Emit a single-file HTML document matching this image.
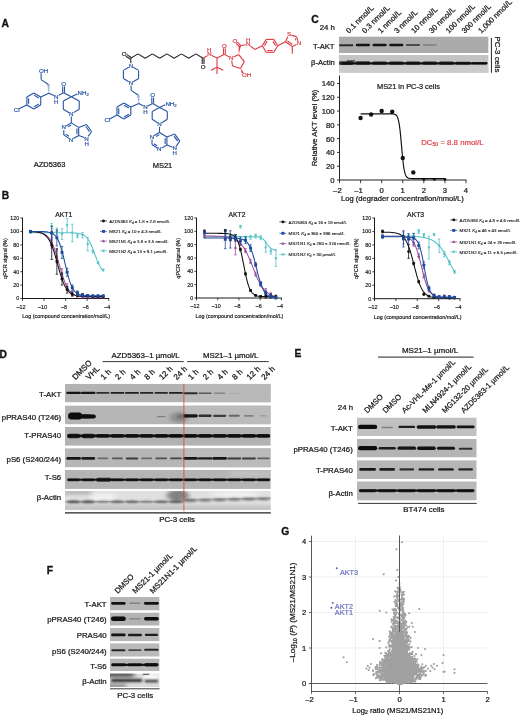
<!DOCTYPE html>
<html><head><meta charset="utf-8"><title>Figure</title>
<style>html,body{margin:0;padding:0;background:#fff}svg{display:block}text{font-family:"Liberation Sans",sans-serif}</style>
</head><body>
<svg width="520" height="716" viewBox="0 0 520 716">
<defs>
<filter id="b1" x="-20%" y="-100%" width="140%" height="300%"><feGaussianBlur stdDeviation="0.7 0.45"/></filter>
<filter id="b2" x="-20%" y="-100%" width="140%" height="300%"><feGaussianBlur stdDeviation="1.2 0.8"/></filter>
<filter id="b3" x="-30%" y="-100%" width="160%" height="300%"><feGaussianBlur stdDeviation="2.5 1.6"/></filter>
</defs>
<rect width="520" height="716" fill="#fff"/>
<text x="1.50" y="26.80" font-size="10.3" fill="#111" stroke="#111" stroke-width="0.31" font-weight="bold">A</text>
<line x1="18.94" y1="108.86" x2="26.87" y2="105.00" stroke="#2453a4" stroke-width="1.1"/>
<line x1="26.87" y1="105.00" x2="26.87" y2="97.00" stroke="#2453a4" stroke-width="1.1"/>
<line x1="28.62" y1="103.80" x2="28.62" y2="98.20" stroke="#2453a4" stroke-width="1.1"/>
<line x1="26.87" y1="97.00" x2="33.80" y2="93.00" stroke="#2453a4" stroke-width="1.1"/>
<line x1="33.80" y1="93.00" x2="40.73" y2="97.00" stroke="#2453a4" stroke-width="1.1"/>
<line x1="33.96" y1="95.12" x2="38.81" y2="97.92" stroke="#2453a4" stroke-width="1.1"/>
<line x1="40.73" y1="97.00" x2="40.73" y2="105.00" stroke="#2453a4" stroke-width="1.1"/>
<line x1="40.73" y1="105.00" x2="33.80" y2="109.00" stroke="#2453a4" stroke-width="1.1"/>
<line x1="38.81" y1="104.08" x2="33.96" y2="106.88" stroke="#2453a4" stroke-width="1.1"/>
<line x1="33.80" y1="109.00" x2="26.87" y2="105.00" stroke="#2453a4" stroke-width="1.1"/>
<line x1="40.73" y1="97.00" x2="48.80" y2="93.30" stroke="#2453a4" stroke-width="1.1"/>
<line x1="49.17" y1="92.41" x2="48.37" y2="92.43" stroke="#2453a4" stroke-width="0.7"/>
<line x1="49.31" y1="90.64" x2="48.11" y2="90.68" stroke="#2453a4" stroke-width="0.7"/>
<line x1="49.45" y1="88.87" x2="47.85" y2="88.93" stroke="#2453a4" stroke-width="0.7"/>
<line x1="49.59" y1="87.11" x2="47.59" y2="87.17" stroke="#2453a4" stroke-width="0.7"/>
<line x1="49.73" y1="85.34" x2="47.33" y2="85.42" stroke="#2453a4" stroke-width="0.7"/>
<line x1="48.50" y1="84.50" x2="41.10" y2="79.60" stroke="#2453a4" stroke-width="1.1"/>
<line x1="41.10" y1="79.60" x2="41.10" y2="73.30" stroke="#2453a4" stroke-width="1.1"/>
<line x1="48.80" y1="93.30" x2="53.91" y2="95.48" stroke="#2453a4" stroke-width="1.1"/>
<line x1="58.62" y1="95.32" x2="63.60" y2="92.80" stroke="#2453a4" stroke-width="1.1"/>
<line x1="64.50" y1="92.80" x2="64.50" y2="86.40" stroke="#2453a4" stroke-width="1.1"/>
<line x1="62.70" y1="92.80" x2="62.70" y2="86.40" stroke="#2453a4" stroke-width="1.1"/>
<line x1="63.60" y1="92.80" x2="71.30" y2="96.80" stroke="#2453a4" stroke-width="1.1"/>
<line x1="71.30" y1="96.80" x2="77.25" y2="94.01" stroke="#2453a4" stroke-width="1.1"/>
<line x1="71.30" y1="96.80" x2="79.20" y2="101.10" stroke="#2453a4" stroke-width="1.1"/>
<line x1="79.20" y1="101.10" x2="79.20" y2="109.20" stroke="#2453a4" stroke-width="1.1"/>
<line x1="79.20" y1="109.20" x2="73.52" y2="112.65" stroke="#2453a4" stroke-width="1.1"/>
<line x1="69.07" y1="112.66" x2="63.30" y2="109.20" stroke="#2453a4" stroke-width="1.1"/>
<line x1="63.30" y1="109.20" x2="63.30" y2="101.10" stroke="#2453a4" stroke-width="1.1"/>
<line x1="63.30" y1="101.10" x2="71.30" y2="96.80" stroke="#2453a4" stroke-width="1.1"/>
<line x1="71.30" y1="116.60" x2="71.30" y2="122.90" stroke="#2453a4" stroke-width="1.1"/>
<line x1="71.30" y1="122.90" x2="66.04" y2="125.98" stroke="#2453a4" stroke-width="1.1"/>
<line x1="71.15" y1="125.02" x2="67.96" y2="126.89" stroke="#2453a4" stroke-width="1.1"/>
<line x1="63.80" y1="129.90" x2="63.80" y2="134.90" stroke="#2453a4" stroke-width="1.1"/>
<line x1="63.80" y1="134.90" x2="68.94" y2="138.35" stroke="#2453a4" stroke-width="1.1"/>
<line x1="65.77" y1="134.12" x2="68.92" y2="136.23" stroke="#2453a4" stroke-width="1.1"/>
<line x1="73.36" y1="138.52" x2="78.70" y2="135.50" stroke="#2453a4" stroke-width="1.1"/>
<line x1="78.70" y1="135.50" x2="78.70" y2="127.40" stroke="#2453a4" stroke-width="1.1"/>
<line x1="76.95" y1="134.30" x2="76.95" y2="128.60" stroke="#2453a4" stroke-width="1.1"/>
<line x1="78.70" y1="127.40" x2="71.30" y2="122.90" stroke="#2453a4" stroke-width="1.1"/>
<line x1="78.70" y1="127.40" x2="86.50" y2="124.50" stroke="#2453a4" stroke-width="1.1"/>
<line x1="86.50" y1="124.50" x2="91.60" y2="131.50" stroke="#2453a4" stroke-width="1.1"/>
<line x1="85.79" y1="126.50" x2="89.48" y2="131.56" stroke="#2453a4" stroke-width="1.1"/>
<line x1="91.60" y1="131.50" x2="88.11" y2="136.38" stroke="#2453a4" stroke-width="1.1"/>
<line x1="84.17" y1="137.58" x2="78.70" y2="135.50" stroke="#2453a4" stroke-width="1.1"/>
<text x="16.60" y="112.00" font-size="6.2" text-anchor="middle" fill="#2453a4" stroke="#2453a4" stroke-width="0.19">Cl</text>
<text x="39.00" y="72.70" font-size="6.2" fill="#2453a4" stroke="#2453a4" stroke-width="0.19">OH</text>
<text x="56.30" y="98.50" font-size="6.2" text-anchor="middle" fill="#2453a4" stroke="#2453a4" stroke-width="0.19">N</text>
<text x="63.60" y="85.80" font-size="6.2" text-anchor="middle" fill="#2453a4" stroke="#2453a4" stroke-width="0.19">O</text>
<text x="77.60" y="94.90" font-size="6.2" fill="#2453a4" stroke="#2453a4" stroke-width="0.19">NH<tspan font-size="4.2" dy="1.3">2</tspan></text>
<text x="71.30" y="116.00" font-size="6.2" text-anchor="middle" fill="#2453a4" stroke="#2453a4" stroke-width="0.19">N</text>
<text x="63.80" y="129.30" font-size="6.2" text-anchor="middle" fill="#2453a4" stroke="#2453a4" stroke-width="0.19">N</text>
<text x="71.10" y="141.80" font-size="6.2" text-anchor="middle" fill="#2453a4" stroke="#2453a4" stroke-width="0.19">N</text>
<text x="86.60" y="140.50" font-size="6.2" text-anchor="middle" fill="#2453a4" stroke="#2453a4" stroke-width="0.19">N</text>
<text x="56.30" y="103.50" font-size="6.1" text-anchor="middle" fill="#2453a4" stroke="#2453a4" stroke-width="0.18">H</text>
<text x="86.60" y="145.70" font-size="6.1" text-anchor="middle" fill="#2453a4" stroke="#2453a4" stroke-width="0.18">H</text>
<text x="49.50" y="167.40" font-size="7.5" text-anchor="middle" fill="#151515" stroke="#151515" stroke-width="0.22">AZD5363</text>
<line x1="109.61" y1="118.91" x2="116.97" y2="115.10" stroke="#2453a4" stroke-width="1.1"/>
<line x1="116.97" y1="115.10" x2="116.97" y2="107.10" stroke="#2453a4" stroke-width="1.1"/>
<line x1="118.72" y1="113.90" x2="118.72" y2="108.30" stroke="#2453a4" stroke-width="1.1"/>
<line x1="116.97" y1="107.10" x2="123.90" y2="103.10" stroke="#2453a4" stroke-width="1.1"/>
<line x1="123.90" y1="103.10" x2="130.83" y2="107.10" stroke="#2453a4" stroke-width="1.1"/>
<line x1="124.06" y1="105.22" x2="128.91" y2="108.02" stroke="#2453a4" stroke-width="1.1"/>
<line x1="130.83" y1="107.10" x2="130.83" y2="115.10" stroke="#2453a4" stroke-width="1.1"/>
<line x1="130.83" y1="115.10" x2="123.90" y2="119.10" stroke="#2453a4" stroke-width="1.1"/>
<line x1="128.91" y1="114.18" x2="124.06" y2="116.98" stroke="#2453a4" stroke-width="1.1"/>
<line x1="123.90" y1="119.10" x2="116.97" y2="115.10" stroke="#2453a4" stroke-width="1.1"/>
<line x1="130.83" y1="107.10" x2="138.80" y2="103.50" stroke="#2453a4" stroke-width="1.1"/>
<line x1="139.16" y1="102.66" x2="138.36" y2="102.70" stroke="#2453a4" stroke-width="0.7"/>
<line x1="139.28" y1="101.01" x2="138.08" y2="101.07" stroke="#2453a4" stroke-width="0.7"/>
<line x1="139.40" y1="99.36" x2="137.80" y2="99.44" stroke="#2453a4" stroke-width="0.7"/>
<line x1="139.52" y1="97.71" x2="137.52" y2="97.81" stroke="#2453a4" stroke-width="0.7"/>
<line x1="139.64" y1="96.06" x2="137.24" y2="96.18" stroke="#2453a4" stroke-width="0.7"/>
<line x1="138.40" y1="95.30" x2="131.20" y2="90.40" stroke="#2453a4" stroke-width="1.1"/>
<line x1="131.20" y1="90.40" x2="131.07" y2="85.60" stroke="#2453a4" stroke-width="1.1"/>
<line x1="133.25" y1="81.70" x2="138.60" y2="78.60" stroke="#2453a4" stroke-width="1.1"/>
<line x1="138.60" y1="78.60" x2="138.60" y2="70.40" stroke="#2453a4" stroke-width="1.1"/>
<line x1="138.60" y1="70.40" x2="133.24" y2="67.22" stroke="#2453a4" stroke-width="1.1"/>
<line x1="128.76" y1="67.22" x2="123.40" y2="70.40" stroke="#2453a4" stroke-width="1.1"/>
<line x1="123.40" y1="70.40" x2="123.40" y2="78.60" stroke="#2453a4" stroke-width="1.1"/>
<line x1="123.40" y1="78.60" x2="128.75" y2="81.70" stroke="#2453a4" stroke-width="1.1"/>
<line x1="138.80" y1="103.50" x2="143.10" y2="105.78" stroke="#2453a4" stroke-width="1.1"/>
<line x1="147.76" y1="105.90" x2="152.70" y2="103.60" stroke="#2453a4" stroke-width="1.1"/>
<line x1="153.60" y1="103.60" x2="153.60" y2="97.40" stroke="#2453a4" stroke-width="1.1"/>
<line x1="151.80" y1="103.60" x2="151.80" y2="97.40" stroke="#2453a4" stroke-width="1.1"/>
<line x1="152.70" y1="103.60" x2="159.70" y2="107.40" stroke="#2453a4" stroke-width="1.1"/>
<line x1="159.70" y1="107.40" x2="165.07" y2="104.75" stroke="#2453a4" stroke-width="1.1"/>
<line x1="159.70" y1="107.40" x2="167.30" y2="111.60" stroke="#2453a4" stroke-width="1.1"/>
<line x1="167.30" y1="111.60" x2="167.30" y2="119.30" stroke="#2453a4" stroke-width="1.1"/>
<line x1="167.30" y1="119.30" x2="161.81" y2="122.72" stroke="#2453a4" stroke-width="1.1"/>
<line x1="157.42" y1="122.69" x2="152.20" y2="119.30" stroke="#2453a4" stroke-width="1.1"/>
<line x1="152.20" y1="119.30" x2="152.20" y2="111.60" stroke="#2453a4" stroke-width="1.1"/>
<line x1="152.20" y1="111.60" x2="159.70" y2="107.40" stroke="#2453a4" stroke-width="1.1"/>
<line x1="159.57" y1="126.70" x2="159.50" y2="132.50" stroke="#2453a4" stroke-width="1.1"/>
<line x1="159.50" y1="132.50" x2="154.24" y2="135.58" stroke="#2453a4" stroke-width="1.1"/>
<line x1="159.35" y1="134.62" x2="156.16" y2="136.49" stroke="#2453a4" stroke-width="1.1"/>
<line x1="152.00" y1="139.50" x2="152.00" y2="144.50" stroke="#2453a4" stroke-width="1.1"/>
<line x1="152.00" y1="144.50" x2="157.14" y2="147.95" stroke="#2453a4" stroke-width="1.1"/>
<line x1="153.97" y1="143.72" x2="157.12" y2="145.83" stroke="#2453a4" stroke-width="1.1"/>
<line x1="161.56" y1="148.12" x2="166.90" y2="145.10" stroke="#2453a4" stroke-width="1.1"/>
<line x1="166.90" y1="145.10" x2="166.90" y2="137.00" stroke="#2453a4" stroke-width="1.1"/>
<line x1="165.15" y1="143.90" x2="165.15" y2="138.20" stroke="#2453a4" stroke-width="1.1"/>
<line x1="166.90" y1="137.00" x2="159.50" y2="132.50" stroke="#2453a4" stroke-width="1.1"/>
<line x1="166.90" y1="137.00" x2="174.70" y2="134.10" stroke="#2453a4" stroke-width="1.1"/>
<line x1="174.70" y1="134.10" x2="179.80" y2="141.10" stroke="#2453a4" stroke-width="1.1"/>
<line x1="173.99" y1="136.10" x2="177.68" y2="141.16" stroke="#2453a4" stroke-width="1.1"/>
<line x1="179.80" y1="141.10" x2="176.31" y2="145.98" stroke="#2453a4" stroke-width="1.1"/>
<line x1="172.37" y1="147.18" x2="166.90" y2="145.10" stroke="#2453a4" stroke-width="1.1"/>
<text x="107.30" y="122.10" font-size="6.2" text-anchor="middle" fill="#2453a4" stroke="#2453a4" stroke-width="0.19">Cl</text>
<text x="131.00" y="85.00" font-size="6.2" text-anchor="middle" fill="#2453a4" stroke="#2453a4" stroke-width="0.19">N</text>
<text x="131.00" y="67.90" font-size="6.2" text-anchor="middle" fill="#2453a4" stroke="#2453a4" stroke-width="0.19">N</text>
<text x="145.40" y="109.00" font-size="6.2" text-anchor="middle" fill="#2453a4" stroke="#2453a4" stroke-width="0.19">N</text>
<text x="152.70" y="96.80" font-size="6.2" text-anchor="middle" fill="#2453a4" stroke="#2453a4" stroke-width="0.19">O</text>
<text x="165.40" y="105.60" font-size="6.2" fill="#2453a4" stroke="#2453a4" stroke-width="0.19">NH<tspan font-size="4.2" dy="1.3">2</tspan></text>
<text x="159.60" y="126.10" font-size="6.2" text-anchor="middle" fill="#2453a4" stroke="#2453a4" stroke-width="0.19">N</text>
<text x="152.00" y="138.90" font-size="6.2" text-anchor="middle" fill="#2453a4" stroke="#2453a4" stroke-width="0.19">N</text>
<text x="159.30" y="151.40" font-size="6.2" text-anchor="middle" fill="#2453a4" stroke="#2453a4" stroke-width="0.19">N</text>
<text x="174.80" y="150.10" font-size="6.2" text-anchor="middle" fill="#2453a4" stroke="#2453a4" stroke-width="0.19">N</text>
<text x="145.40" y="114.00" font-size="6.1" text-anchor="middle" fill="#2453a4" stroke="#2453a4" stroke-width="0.18">H</text>
<text x="174.80" y="155.30" font-size="6.1" text-anchor="middle" fill="#2453a4" stroke="#2453a4" stroke-width="0.18">H</text>
<text x="162.50" y="168.40" font-size="7.5" text-anchor="middle" fill="#151515" stroke="#151515" stroke-width="0.22">MS21</text>
<line x1="130.70" y1="58.20" x2="137.94" y2="53.90" stroke="#222" stroke-width="1.1"/>
<line x1="137.94" y1="53.90" x2="145.18" y2="58.20" stroke="#222" stroke-width="1.1"/>
<line x1="145.18" y1="58.20" x2="152.42" y2="53.90" stroke="#222" stroke-width="1.1"/>
<line x1="152.42" y1="53.90" x2="159.66" y2="58.20" stroke="#222" stroke-width="1.1"/>
<line x1="159.66" y1="58.20" x2="166.90" y2="53.90" stroke="#222" stroke-width="1.1"/>
<line x1="166.90" y1="53.90" x2="174.14" y2="58.20" stroke="#222" stroke-width="1.1"/>
<line x1="174.14" y1="58.20" x2="181.38" y2="53.90" stroke="#222" stroke-width="1.1"/>
<line x1="181.38" y1="53.90" x2="188.62" y2="58.20" stroke="#222" stroke-width="1.1"/>
<line x1="188.62" y1="58.20" x2="195.86" y2="53.90" stroke="#222" stroke-width="1.1"/>
<line x1="195.86" y1="53.90" x2="203.10" y2="58.20" stroke="#222" stroke-width="1.1"/>
<line x1="131.19" y1="57.44" x2="126.87" y2="54.66" stroke="#222" stroke-width="1.1"/>
<line x1="130.21" y1="58.96" x2="125.90" y2="56.17" stroke="#222" stroke-width="1.1"/>
<line x1="202.20" y1="58.20" x2="202.20" y2="64.00" stroke="#222" stroke-width="1.1"/>
<line x1="204.00" y1="58.20" x2="204.00" y2="64.00" stroke="#222" stroke-width="1.1"/>
<line x1="130.70" y1="58.20" x2="130.90" y2="63.30" stroke="#222" stroke-width="1.1"/>
<text x="124.20" y="56.00" font-size="6.2" text-anchor="middle" fill="#151515" stroke="#151515" stroke-width="0.19">O</text>
<text x="203.10" y="68.60" font-size="6.2" text-anchor="middle" fill="#151515" stroke="#151515" stroke-width="0.19">O</text>
<text x="131.00" y="65.90" font-size="6.2" text-anchor="middle" fill="#151515" stroke="#151515" stroke-width="0.19"></text>
<line x1="203.10" y1="58.20" x2="207.26" y2="55.73" stroke="#dc3a44" stroke-width="1.1"/>
<line x1="211.86" y1="55.50" x2="217.00" y2="57.90" stroke="#dc3a44" stroke-width="1.1"/>
<line x1="217.00" y1="57.90" x2="217.00" y2="67.20" stroke="#dc3a44" stroke-width="1.1"/>
<line x1="217.00" y1="67.20" x2="210.90" y2="70.20" stroke="#dc3a44" stroke-width="1.1"/>
<line x1="217.00" y1="67.20" x2="223.30" y2="70.20" stroke="#dc3a44" stroke-width="1.1"/>
<line x1="217.00" y1="67.20" x2="217.00" y2="74.00" stroke="#dc3a44" stroke-width="1.1"/>
<line x1="217.00" y1="57.90" x2="224.40" y2="54.20" stroke="#dc3a44" stroke-width="1.1"/>
<line x1="225.30" y1="54.20" x2="225.30" y2="48.20" stroke="#dc3a44" stroke-width="1.1"/>
<line x1="223.50" y1="54.20" x2="223.50" y2="48.20" stroke="#dc3a44" stroke-width="1.1"/>
<line x1="224.40" y1="54.20" x2="228.96" y2="56.88" stroke="#dc3a44" stroke-width="1.1"/>
<line x1="233.54" y1="57.07" x2="238.70" y2="54.60" stroke="#dc3a44" stroke-width="1.1"/>
<line x1="238.70" y1="54.60" x2="244.40" y2="61.60" stroke="#dc3a44" stroke-width="1.1"/>
<line x1="244.40" y1="61.60" x2="240.50" y2="68.50" stroke="#dc3a44" stroke-width="1.1"/>
<line x1="240.50" y1="68.50" x2="232.60" y2="66.00" stroke="#dc3a44" stroke-width="1.1"/>
<line x1="232.60" y1="66.00" x2="231.66" y2="60.76" stroke="#dc3a44" stroke-width="1.1"/>
<polygon points="240.50,68.50 241.82,73.40 243.77,72.39" fill="#dc3a44"/>
<polygon points="238.70,54.60 240.89,45.94 238.71,45.66" fill="#dc3a44"/>
<line x1="240.43" y1="45.16" x2="237.29" y2="42.08" stroke="#dc3a44" stroke-width="1.1"/>
<line x1="239.17" y1="46.44" x2="236.03" y2="43.36" stroke="#dc3a44" stroke-width="1.1"/>
<line x1="239.80" y1="45.80" x2="245.73" y2="44.82" stroke="#dc3a44" stroke-width="1.1"/>
<line x1="250.36" y1="45.99" x2="254.80" y2="49.40" stroke="#dc3a44" stroke-width="1.1"/>
<line x1="254.80" y1="49.40" x2="262.30" y2="45.80" stroke="#dc3a44" stroke-width="1.1"/>
<line x1="262.30" y1="45.80" x2="266.20" y2="39.40" stroke="#dc3a44" stroke-width="1.1"/>
<line x1="264.42" y1="45.69" x2="267.07" y2="41.34" stroke="#dc3a44" stroke-width="1.1"/>
<line x1="266.20" y1="39.40" x2="273.80" y2="39.40" stroke="#dc3a44" stroke-width="1.1"/>
<line x1="273.80" y1="39.40" x2="277.70" y2="45.80" stroke="#dc3a44" stroke-width="1.1"/>
<line x1="272.93" y1="41.34" x2="275.58" y2="45.69" stroke="#dc3a44" stroke-width="1.1"/>
<line x1="277.70" y1="45.80" x2="273.80" y2="52.30" stroke="#dc3a44" stroke-width="1.1"/>
<line x1="273.80" y1="52.30" x2="266.20" y2="52.30" stroke="#dc3a44" stroke-width="1.1"/>
<line x1="272.60" y1="50.55" x2="267.40" y2="50.55" stroke="#dc3a44" stroke-width="1.1"/>
<line x1="266.20" y1="52.30" x2="262.30" y2="45.80" stroke="#dc3a44" stroke-width="1.1"/>
<line x1="277.70" y1="45.80" x2="285.40" y2="41.80" stroke="#dc3a44" stroke-width="1.1"/>
<line x1="285.40" y1="41.80" x2="287.86" y2="36.74" stroke="#dc3a44" stroke-width="1.1"/>
<line x1="291.49" y1="35.14" x2="296.40" y2="36.60" stroke="#dc3a44" stroke-width="1.1"/>
<line x1="296.40" y1="36.60" x2="297.99" y2="40.86" stroke="#dc3a44" stroke-width="1.1"/>
<line x1="295.18" y1="38.34" x2="295.93" y2="40.35" stroke="#dc3a44" stroke-width="1.1"/>
<line x1="296.57" y1="44.46" x2="292.30" y2="46.60" stroke="#dc3a44" stroke-width="1.1"/>
<line x1="292.30" y1="46.60" x2="285.40" y2="41.80" stroke="#dc3a44" stroke-width="1.1"/>
<line x1="292.31" y1="44.48" x2="287.38" y2="41.05" stroke="#dc3a44" stroke-width="1.1"/>
<line x1="292.30" y1="46.60" x2="292.30" y2="53.80" stroke="#dc3a44" stroke-width="1.1"/>
<text x="209.50" y="56.40" font-size="6.2" text-anchor="middle" fill="#dc3a44" stroke="#dc3a44" stroke-width="0.19">N</text>
<text x="224.40" y="47.60" font-size="6.2" text-anchor="middle" fill="#dc3a44" stroke="#dc3a44" stroke-width="0.19">O</text>
<text x="231.20" y="60.20" font-size="6.2" text-anchor="middle" fill="#dc3a44" stroke="#dc3a44" stroke-width="0.19">N</text>
<text x="241.90" y="77.20" font-size="6.2" fill="#dc3a44" stroke="#dc3a44" stroke-width="0.19">OH</text>
<text x="234.80" y="42.90" font-size="6.2" text-anchor="middle" fill="#dc3a44" stroke="#dc3a44" stroke-width="0.19">O</text>
<text x="248.30" y="46.40" font-size="6.2" text-anchor="middle" fill="#dc3a44" stroke="#dc3a44" stroke-width="0.19">N</text>
<text x="289.00" y="36.40" font-size="6.2" text-anchor="middle" fill="#dc3a44" stroke="#dc3a44" stroke-width="0.19">S</text>
<text x="298.90" y="45.30" font-size="6.2" text-anchor="middle" fill="#dc3a44" stroke="#dc3a44" stroke-width="0.19">N</text>
<text x="209.30" y="51.60" font-size="6.1" text-anchor="middle" fill="#dc3a44" stroke="#dc3a44" stroke-width="0.18">H</text>
<text x="248.30" y="41.60" font-size="6.1" text-anchor="middle" fill="#dc3a44" stroke="#dc3a44" stroke-width="0.18">H</text>
<text x="311.30" y="23.00" font-size="10.4" fill="#111" stroke="#111" stroke-width="0.31" font-weight="bold">C</text>
<text x="319.70" y="30.30" font-size="7.8" fill="#151515" stroke="#151515" stroke-width="0.23">24 h</text>
<text x="349.00" y="33.80" font-size="7.65" fill="#151515" stroke="#151515" stroke-width="0.23" transform="rotate(-45 349.00 33.80)">0.1 nmol/L</text>
<text x="365.00" y="33.80" font-size="7.65" fill="#151515" stroke="#151515" stroke-width="0.23" transform="rotate(-45 365.00 33.80)">0.3 nmol/L</text>
<text x="381.00" y="33.80" font-size="7.65" fill="#151515" stroke="#151515" stroke-width="0.23" transform="rotate(-45 381.00 33.80)">1 nmol/L</text>
<text x="397.20" y="33.80" font-size="7.65" fill="#151515" stroke="#151515" stroke-width="0.23" transform="rotate(-45 397.20 33.80)">3 nmol/L</text>
<text x="414.30" y="33.80" font-size="7.65" fill="#151515" stroke="#151515" stroke-width="0.23" transform="rotate(-45 414.30 33.80)">10 nmol/L</text>
<text x="432.00" y="33.80" font-size="7.65" fill="#151515" stroke="#151515" stroke-width="0.23" transform="rotate(-45 432.00 33.80)">30 nmol/L</text>
<text x="448.70" y="33.80" font-size="7.65" fill="#151515" stroke="#151515" stroke-width="0.23" transform="rotate(-45 448.70 33.80)">100 nmol/L</text>
<text x="464.80" y="33.80" font-size="7.65" fill="#151515" stroke="#151515" stroke-width="0.23" transform="rotate(-45 464.80 33.80)">300 nmol/L</text>
<text x="481.20" y="33.80" font-size="7.65" fill="#151515" stroke="#151515" stroke-width="0.23" transform="rotate(-45 481.20 33.80)">1,000 nmol/L</text>
<clipPath id="cp1"><rect x="338.80" y="36.40" width="149.80" height="16.60"/></clipPath>
<g clip-path="url(#cp1)">
<rect x="338.80" y="36.40" width="149.80" height="16.60" fill="#ababab"/>
<rect x="339.10" y="44.30" width="14.19" height="2.00" rx="1.00" fill="#0a0a0a" opacity="0.8" filter="url(#b1)"/>
<rect x="355.80" y="43.75" width="14.19" height="2.50" rx="1.25" fill="#0a0a0a" opacity="0.95" filter="url(#b1)"/>
<rect x="372.50" y="43.70" width="14.19" height="2.60" rx="1.30" fill="#0a0a0a" opacity="0.95" filter="url(#b1)"/>
<rect x="389.20" y="43.70" width="14.19" height="2.60" rx="1.30" fill="#0a0a0a" opacity="0.95" filter="url(#b1)"/>
<rect x="405.90" y="44.05" width="14.19" height="1.90" rx="0.95" fill="#0a0a0a" opacity="0.6" filter="url(#b1)"/>
<rect x="422.60" y="44.25" width="14.19" height="1.50" rx="0.75" fill="#0a0a0a" opacity="0.28" filter="url(#b1)"/>
</g>
<clipPath id="cp2"><rect x="338.80" y="55.00" width="149.80" height="17.70"/></clipPath>
<g clip-path="url(#cp2)">
<rect x="338.80" y="55.00" width="149.80" height="17.70" fill="#c3c3c3"/>
<rect x="338.80" y="65.50" width="149.80" height="7.50" fill="#cbcbcb"/>
<rect x="341.50" y="62.20" width="146.00" height="2.20" rx="1.10" fill="#0a0a0a" opacity="0.95" filter="url(#b1)"/>
<rect x="338.69" y="61.15" width="15.03" height="3.90" rx="1.95" fill="#0a0a0a" opacity="0.8" filter="url(#b1)"/>
<rect x="355.38" y="61.35" width="15.03" height="3.50" rx="1.75" fill="#0a0a0a" opacity="0.8" filter="url(#b1)"/>
<rect x="372.08" y="61.40" width="15.03" height="3.40" rx="1.70" fill="#0a0a0a" opacity="0.8" filter="url(#b1)"/>
<rect x="388.78" y="61.40" width="15.03" height="3.40" rx="1.70" fill="#0a0a0a" opacity="0.8" filter="url(#b1)"/>
<rect x="405.49" y="61.45" width="15.03" height="3.30" rx="1.65" fill="#0a0a0a" opacity="0.8" filter="url(#b1)"/>
<rect x="422.19" y="61.45" width="15.03" height="3.30" rx="1.65" fill="#0a0a0a" opacity="0.8" filter="url(#b1)"/>
<rect x="438.88" y="61.55" width="15.03" height="3.10" rx="1.55" fill="#0a0a0a" opacity="0.8" filter="url(#b1)"/>
<rect x="455.58" y="61.70" width="15.03" height="2.80" rx="1.40" fill="#0a0a0a" opacity="0.8" filter="url(#b1)"/>
<rect x="472.28" y="61.90" width="15.03" height="2.40" rx="1.20" fill="#0a0a0a" opacity="0.8" filter="url(#b1)"/>
<rect x="346.75" y="60.20" width="8.50" height="1.60" rx="0.80" fill="#0a0a0a" opacity="0.7" filter="url(#b1)"/>
</g>
<text x="334.50" y="49.00" font-size="7.6" text-anchor="end" fill="#151515" stroke="#151515" stroke-width="0.23">T-AKT</text>
<text x="334.80" y="64.80" font-size="7.6" text-anchor="end" fill="#151515" stroke="#151515" stroke-width="0.23">β-Actin</text>
<line x1="491.40" y1="38.00" x2="491.40" y2="72.80" stroke="#222" stroke-width="1.0"/>
<text x="495.40" y="36.60" font-size="7.85" fill="#151515" stroke="#151515" stroke-width="0.24" transform="rotate(90 495.40 36.60)">PC-3 cells</text>
<line x1="339.50" y1="75.50" x2="339.50" y2="180.60" stroke="#222" stroke-width="1.0"/>
<line x1="339.00" y1="180.00" x2="466.40" y2="180.00" stroke="#222" stroke-width="1.2"/>
<line x1="337.00" y1="180.00" x2="339.50" y2="180.00" stroke="#222" stroke-width="0.9"/>
<text x="334.50" y="182.90" font-size="7.7" text-anchor="end" fill="#151515" stroke="#151515" stroke-width="0.23">0</text>
<line x1="337.00" y1="166.21" x2="339.50" y2="166.21" stroke="#222" stroke-width="0.9"/>
<text x="334.50" y="169.11" font-size="7.7" text-anchor="end" fill="#151515" stroke="#151515" stroke-width="0.23">20</text>
<line x1="337.00" y1="152.42" x2="339.50" y2="152.42" stroke="#222" stroke-width="0.9"/>
<text x="334.50" y="155.32" font-size="7.7" text-anchor="end" fill="#151515" stroke="#151515" stroke-width="0.23">40</text>
<line x1="337.00" y1="138.63" x2="339.50" y2="138.63" stroke="#222" stroke-width="0.9"/>
<text x="334.50" y="141.53" font-size="7.7" text-anchor="end" fill="#151515" stroke="#151515" stroke-width="0.23">60</text>
<line x1="337.00" y1="124.84" x2="339.50" y2="124.84" stroke="#222" stroke-width="0.9"/>
<text x="334.50" y="127.74" font-size="7.7" text-anchor="end" fill="#151515" stroke="#151515" stroke-width="0.23">80</text>
<line x1="337.00" y1="111.05" x2="339.50" y2="111.05" stroke="#222" stroke-width="0.9"/>
<text x="334.50" y="113.95" font-size="7.7" text-anchor="end" fill="#151515" stroke="#151515" stroke-width="0.23">100</text>
<line x1="337.00" y1="97.26" x2="339.50" y2="97.26" stroke="#222" stroke-width="0.9"/>
<text x="334.50" y="100.16" font-size="7.7" text-anchor="end" fill="#151515" stroke="#151515" stroke-width="0.23">120</text>
<line x1="337.00" y1="83.47" x2="339.50" y2="83.47" stroke="#222" stroke-width="0.9"/>
<text x="334.50" y="86.37" font-size="7.7" text-anchor="end" fill="#151515" stroke="#151515" stroke-width="0.23">140</text>
<line x1="339.50" y1="180.00" x2="339.50" y2="183.20" stroke="#222" stroke-width="0.9"/>
<text x="337.40" y="192.70" font-size="7.7" text-anchor="middle" fill="#151515" stroke="#151515" stroke-width="0.23">–2</text>
<line x1="360.58" y1="180.00" x2="360.58" y2="183.20" stroke="#222" stroke-width="0.9"/>
<text x="358.48" y="192.70" font-size="7.7" text-anchor="middle" fill="#151515" stroke="#151515" stroke-width="0.23">–1</text>
<line x1="381.67" y1="180.00" x2="381.67" y2="183.20" stroke="#222" stroke-width="0.9"/>
<text x="381.67" y="192.70" font-size="7.7" text-anchor="middle" fill="#151515" stroke="#151515" stroke-width="0.23">0</text>
<line x1="402.75" y1="180.00" x2="402.75" y2="183.20" stroke="#222" stroke-width="0.9"/>
<text x="402.75" y="192.70" font-size="7.7" text-anchor="middle" fill="#151515" stroke="#151515" stroke-width="0.23">1</text>
<line x1="423.83" y1="180.00" x2="423.83" y2="183.20" stroke="#222" stroke-width="0.9"/>
<text x="423.83" y="192.70" font-size="7.7" text-anchor="middle" fill="#151515" stroke="#151515" stroke-width="0.23">2</text>
<line x1="444.92" y1="180.00" x2="444.92" y2="183.20" stroke="#222" stroke-width="0.9"/>
<text x="444.92" y="192.70" font-size="7.7" text-anchor="middle" fill="#151515" stroke="#151515" stroke-width="0.23">3</text>
<line x1="466.00" y1="180.00" x2="466.00" y2="183.20" stroke="#222" stroke-width="0.9"/>
<text x="466.00" y="192.70" font-size="7.7" text-anchor="middle" fill="#151515" stroke="#151515" stroke-width="0.23">4</text>
<text x="341.00" y="201.30" font-size="7.6" fill="#151515" stroke="#151515" stroke-width="0.23">Log (degrader concentration/nmol/L)</text>
<text x="317.10" y="127.90" font-size="7.72" text-anchor="middle" fill="#151515" stroke="#151515" stroke-width="0.23" transform="rotate(-90 317.10 127.90)">Relative AKT level (%)</text>
<text x="377.00" y="88.80" font-size="7.4" fill="#151515" stroke="#151515" stroke-width="0.22">MS21 in PC-3 cells</text>
<text x="421.2" y="144.6" font-size="7.8" fill="#dc3d45" stroke="#dc3d45" stroke-width="0.2">DC<tspan font-size="5.2" dy="1.6">50</tspan><tspan dy="-1.6"> = 8.8 nmol/L</tspan></text>
<polyline points="360.58,113.81 361.29,113.81 361.99,113.81 362.69,113.81 363.39,113.81 364.10,113.81 364.80,113.81 365.50,113.81 366.21,113.81 366.91,113.81 367.61,113.81 368.31,113.81 369.02,113.81 369.72,113.81 370.42,113.81 371.12,113.81 371.83,113.81 372.53,113.81 373.23,113.81 373.94,113.81 374.64,113.81 375.34,113.81 376.04,113.81 376.75,113.81 377.45,113.81 378.15,113.81 378.86,113.81 379.56,113.81 380.26,113.81 380.96,113.81 381.67,113.81 382.37,113.81 383.07,113.81 383.77,113.81 384.48,113.81 385.18,113.81 385.88,113.81 386.59,113.81 387.29,113.81 387.99,113.81 388.69,113.81 389.40,113.82 390.10,113.83 390.80,113.84 391.51,113.86 392.21,113.89 392.91,113.95 393.61,114.04 394.32,114.18 395.02,114.42 395.72,114.81 396.43,115.45 397.13,116.46 397.83,118.07 398.53,120.54 399.24,124.19 399.94,129.31 400.64,135.91 401.34,143.63 402.05,151.66 402.75,159.05 403.45,165.14 404.16,169.71 404.86,172.90 405.56,175.02 406.26,176.39 406.97,177.25 407.67,177.78 408.37,178.11 409.07,178.31 409.78,178.43 410.48,178.51 411.18,178.55 411.89,178.58 412.59,178.60 413.29,178.61 413.99,178.61 414.70,178.62 415.40,178.62 416.10,178.62 416.81,178.62 417.51,178.62 418.21,178.62 418.91,178.62 419.62,178.62 420.32,178.62 421.02,178.62 421.73,178.62 422.43,178.62 423.13,178.62 423.83,178.62 424.54,178.62 425.24,178.62 425.94,178.62 426.64,178.62 427.35,178.62 428.05,178.62 428.75,178.62 429.46,178.62 430.16,178.62 430.86,178.62 431.56,178.62 432.27,178.62 432.97,178.62 433.67,178.62 434.38,178.62 435.08,178.62 435.78,178.62 436.48,178.62 437.19,178.62 437.89,178.62 438.59,178.62 439.29,178.62 440.00,178.62 440.70,178.62 441.40,178.62 442.11,178.62 442.81,178.62 443.51,178.62 444.21,178.62 444.92,178.62" fill="none" stroke="#111" stroke-width="1.15"/>
<circle cx="360.58" cy="117.94" r="2.2" fill="#111"/>
<circle cx="371.12" cy="114.50" r="2.2" fill="#111"/>
<circle cx="381.67" cy="111.05" r="2.2" fill="#111"/>
<circle cx="392.21" cy="111.74" r="2.2" fill="#111"/>
<circle cx="402.75" cy="157.94" r="2.2" fill="#111"/>
<circle cx="413.29" cy="172.42" r="2.2" fill="#111"/>
<circle cx="423.83" cy="179.31" r="1.4" fill="#111"/>
<circle cx="434.38" cy="179.31" r="1.4" fill="#111"/>
<circle cx="444.92" cy="179.31" r="1.4" fill="#111"/>
<text x="1.80" y="199.30" font-size="10.3" fill="#111" stroke="#111" stroke-width="0.31" font-weight="bold">B</text>
<line x1="22.50" y1="217.60" x2="22.50" y2="299.00" stroke="#1a1a1a" stroke-width="1.0"/>
<line x1="22.00" y1="298.50" x2="109.15" y2="298.50" stroke="#1a1a1a" stroke-width="1.0"/>
<line x1="20.30" y1="298.50" x2="22.50" y2="298.50" stroke="#1a1a1a" stroke-width="0.8"/>
<text x="19.20" y="300.40" font-size="5.3" text-anchor="end" fill="#151515" stroke="#151515" stroke-width="0.16">0</text>
<line x1="20.30" y1="285.08" x2="22.50" y2="285.08" stroke="#1a1a1a" stroke-width="0.8"/>
<text x="19.20" y="286.98" font-size="5.3" text-anchor="end" fill="#151515" stroke="#151515" stroke-width="0.16">20</text>
<line x1="20.30" y1="271.67" x2="22.50" y2="271.67" stroke="#1a1a1a" stroke-width="0.8"/>
<text x="19.20" y="273.57" font-size="5.3" text-anchor="end" fill="#151515" stroke="#151515" stroke-width="0.16">40</text>
<line x1="20.30" y1="258.25" x2="22.50" y2="258.25" stroke="#1a1a1a" stroke-width="0.8"/>
<text x="19.20" y="260.15" font-size="5.3" text-anchor="end" fill="#151515" stroke="#151515" stroke-width="0.16">60</text>
<line x1="20.30" y1="244.83" x2="22.50" y2="244.83" stroke="#1a1a1a" stroke-width="0.8"/>
<text x="19.20" y="246.73" font-size="5.3" text-anchor="end" fill="#151515" stroke="#151515" stroke-width="0.16">80</text>
<line x1="20.30" y1="231.42" x2="22.50" y2="231.42" stroke="#1a1a1a" stroke-width="0.8"/>
<text x="19.20" y="233.32" font-size="5.3" text-anchor="end" fill="#151515" stroke="#151515" stroke-width="0.16">100</text>
<line x1="20.30" y1="218.00" x2="22.50" y2="218.00" stroke="#1a1a1a" stroke-width="0.8"/>
<text x="19.20" y="219.90" font-size="5.3" text-anchor="end" fill="#151515" stroke="#151515" stroke-width="0.16">120</text>
<line x1="22.50" y1="298.50" x2="22.50" y2="300.90" stroke="#1a1a1a" stroke-width="0.8"/>
<text x="21.00" y="308.80" font-size="5.4" text-anchor="middle" fill="#151515" stroke="#151515" stroke-width="0.16">–12</text>
<line x1="44.06" y1="298.50" x2="44.06" y2="300.90" stroke="#1a1a1a" stroke-width="0.8"/>
<text x="42.56" y="308.80" font-size="5.4" text-anchor="middle" fill="#151515" stroke="#151515" stroke-width="0.16">–10</text>
<line x1="65.62" y1="298.50" x2="65.62" y2="300.90" stroke="#1a1a1a" stroke-width="0.8"/>
<text x="64.12" y="308.80" font-size="5.4" text-anchor="middle" fill="#151515" stroke="#151515" stroke-width="0.16">–8</text>
<line x1="87.19" y1="298.50" x2="87.19" y2="300.90" stroke="#1a1a1a" stroke-width="0.8"/>
<text x="85.69" y="308.80" font-size="5.4" text-anchor="middle" fill="#151515" stroke="#151515" stroke-width="0.16">–6</text>
<line x1="108.75" y1="298.50" x2="108.75" y2="300.90" stroke="#1a1a1a" stroke-width="0.8"/>
<text x="107.25" y="308.80" font-size="5.4" text-anchor="middle" fill="#151515" stroke="#151515" stroke-width="0.16">–4</text>
<text x="66.12" y="318.40" font-size="5.4" text-anchor="middle" fill="#151515" stroke="#151515" stroke-width="0.16">Log (compound concentration/mol/L)</text>
<text x="7.00" y="258.55" font-size="5.5" text-anchor="middle" fill="#151515" stroke="#151515" stroke-width="0.16" transform="rotate(-90 7.00 258.55)">qPCR signal (%)</text>
<text x="63.80" y="217.00" font-size="6.8" text-anchor="middle" fill="#151515" stroke="#151515" stroke-width="0.20">AKT1</text>
<polyline points="30.05,232.76 30.97,232.76 31.89,232.76 32.82,232.76 33.74,232.76 34.66,232.76 35.59,232.76 36.51,232.76 37.43,232.76 38.36,232.76 39.28,232.76 40.20,232.76 41.12,232.76 42.05,232.76 42.97,232.76 43.89,232.76 44.82,232.76 45.74,232.76 46.66,232.76 47.59,232.76 48.51,232.76 49.43,232.76 50.36,232.76 51.28,232.76 52.20,232.76 53.13,232.76 54.05,232.76 54.97,232.76 55.89,232.76 56.82,232.76 57.74,232.76 58.66,232.76 59.59,232.76 60.51,232.76 61.43,232.77 62.36,232.77 63.28,232.77 64.20,232.78 65.13,232.78 66.05,232.79 66.97,232.79 67.90,232.80 68.82,232.81 69.74,232.83 70.67,232.85 71.59,232.87 72.51,232.90 73.43,232.94 74.36,232.99 75.28,233.05 76.20,233.12 77.13,233.22 78.05,233.34 78.97,233.49 79.90,233.68 80.82,233.92 81.74,234.22 82.67,234.59 83.59,235.06 84.51,235.63 85.44,236.33 86.36,237.18 87.28,238.21 88.20,239.43 89.13,240.87 90.05,242.54 90.97,244.43 91.90,246.53 92.82,248.81 93.74,251.22 94.67,253.71 95.59,256.20 96.51,258.62 97.44,260.93 98.36,263.06 99.28,264.98 100.21,266.68 101.13,268.15 102.05,269.40 102.98,270.46 103.90,271.34" fill="none" stroke="#55c2c5" stroke-width="1.05"/>
<line x1="30.59" y1="232.09" x2="30.59" y2="233.43" stroke="#55c2c5" stroke-width="0.8"/>
<line x1="29.39" y1="232.09" x2="31.79" y2="232.09" stroke="#55c2c5" stroke-width="0.8"/>
<line x1="29.39" y1="233.43" x2="31.79" y2="233.43" stroke="#55c2c5" stroke-width="0.8"/>
<polygon points="30.59,234.50 32.18,231.60 28.99,231.60" fill="#55c2c5"/>
<line x1="51.72" y1="223.37" x2="51.72" y2="228.73" stroke="#55c2c5" stroke-width="0.8"/>
<line x1="50.52" y1="223.37" x2="52.92" y2="223.37" stroke="#55c2c5" stroke-width="0.8"/>
<line x1="50.52" y1="228.73" x2="52.92" y2="228.73" stroke="#55c2c5" stroke-width="0.8"/>
<polygon points="51.72,227.79 53.31,224.89 50.12,224.89" fill="#55c2c5"/>
<line x1="56.86" y1="228.07" x2="56.86" y2="236.12" stroke="#55c2c5" stroke-width="0.8"/>
<line x1="55.66" y1="228.07" x2="58.06" y2="228.07" stroke="#55c2c5" stroke-width="0.8"/>
<line x1="55.66" y1="236.12" x2="58.06" y2="236.12" stroke="#55c2c5" stroke-width="0.8"/>
<polygon points="56.86,233.83 58.45,230.93 55.26,230.93" fill="#55c2c5"/>
<line x1="62.00" y1="228.74" x2="62.00" y2="239.48" stroke="#55c2c5" stroke-width="0.8"/>
<line x1="60.80" y1="228.74" x2="63.20" y2="228.74" stroke="#55c2c5" stroke-width="0.8"/>
<line x1="60.80" y1="239.48" x2="63.20" y2="239.48" stroke="#55c2c5" stroke-width="0.8"/>
<polygon points="62.00,235.85 63.60,232.95 60.41,232.95" fill="#55c2c5"/>
<line x1="67.15" y1="218.71" x2="67.15" y2="232.12" stroke="#55c2c5" stroke-width="0.8"/>
<line x1="65.95" y1="218.71" x2="68.35" y2="218.71" stroke="#55c2c5" stroke-width="0.8"/>
<line x1="65.95" y1="232.12" x2="68.35" y2="232.12" stroke="#55c2c5" stroke-width="0.8"/>
<polygon points="67.15,227.16 68.74,224.26 65.55,224.26" fill="#55c2c5"/>
<line x1="72.29" y1="224.17" x2="72.29" y2="241.61" stroke="#55c2c5" stroke-width="0.8"/>
<line x1="71.09" y1="224.17" x2="73.49" y2="224.17" stroke="#55c2c5" stroke-width="0.8"/>
<line x1="71.09" y1="241.61" x2="73.49" y2="241.61" stroke="#55c2c5" stroke-width="0.8"/>
<polygon points="72.29,234.63 73.88,231.73 70.69,231.73" fill="#55c2c5"/>
<line x1="77.43" y1="233.92" x2="77.43" y2="237.95" stroke="#55c2c5" stroke-width="0.8"/>
<line x1="76.23" y1="233.92" x2="78.63" y2="233.92" stroke="#55c2c5" stroke-width="0.8"/>
<line x1="76.23" y1="237.95" x2="78.63" y2="237.95" stroke="#55c2c5" stroke-width="0.8"/>
<polygon points="77.43,237.68 79.03,234.78 75.84,234.78" fill="#55c2c5"/>
<line x1="82.57" y1="232.54" x2="82.57" y2="237.91" stroke="#55c2c5" stroke-width="0.8"/>
<line x1="81.37" y1="232.54" x2="83.77" y2="232.54" stroke="#55c2c5" stroke-width="0.8"/>
<line x1="81.37" y1="237.91" x2="83.77" y2="237.91" stroke="#55c2c5" stroke-width="0.8"/>
<polygon points="82.57,236.96 84.17,234.06 80.98,234.06" fill="#55c2c5"/>
<line x1="87.72" y1="237.42" x2="87.72" y2="250.83" stroke="#55c2c5" stroke-width="0.8"/>
<line x1="86.52" y1="237.42" x2="88.92" y2="237.42" stroke="#55c2c5" stroke-width="0.8"/>
<line x1="86.52" y1="250.83" x2="88.92" y2="250.83" stroke="#55c2c5" stroke-width="0.8"/>
<polygon points="87.72,245.87 89.31,242.97 86.12,242.97" fill="#55c2c5"/>
<line x1="92.86" y1="250.25" x2="92.86" y2="252.93" stroke="#55c2c5" stroke-width="0.8"/>
<line x1="91.66" y1="250.25" x2="94.06" y2="250.25" stroke="#55c2c5" stroke-width="0.8"/>
<line x1="91.66" y1="252.93" x2="94.06" y2="252.93" stroke="#55c2c5" stroke-width="0.8"/>
<polygon points="92.86,253.33 94.45,250.43 91.26,250.43" fill="#55c2c5"/>
<line x1="98.00" y1="262.25" x2="98.00" y2="263.59" stroke="#55c2c5" stroke-width="0.8"/>
<line x1="96.80" y1="262.25" x2="99.20" y2="262.25" stroke="#55c2c5" stroke-width="0.8"/>
<line x1="96.80" y1="263.59" x2="99.20" y2="263.59" stroke="#55c2c5" stroke-width="0.8"/>
<polygon points="98.00,264.66 99.60,261.76 96.41,261.76" fill="#55c2c5"/>
<line x1="103.14" y1="269.29" x2="103.14" y2="270.63" stroke="#55c2c5" stroke-width="0.8"/>
<line x1="101.94" y1="269.29" x2="104.34" y2="269.29" stroke="#55c2c5" stroke-width="0.8"/>
<line x1="101.94" y1="270.63" x2="104.34" y2="270.63" stroke="#55c2c5" stroke-width="0.8"/>
<polygon points="103.14,271.70 104.74,268.80 101.55,268.80" fill="#55c2c5"/>
<polyline points="30.05,231.55 30.97,231.58 31.89,231.61 32.82,231.65 33.74,231.70 34.66,231.77 35.59,231.84 36.51,231.93 37.43,232.05 38.36,232.18 39.28,232.35 40.20,232.54 41.12,232.79 42.05,233.08 42.97,233.43 43.89,233.85 44.82,234.35 45.74,234.96 46.66,235.68 47.59,236.54 48.51,237.55 49.43,238.74 50.36,240.12 51.28,241.72 52.20,243.56 53.13,245.63 54.05,247.95 54.97,250.50 55.89,253.28 56.82,256.25 57.74,259.36 58.66,262.56 59.59,265.80 60.51,269.01 61.43,272.13 62.36,275.10 63.28,277.89 64.20,280.47 65.13,282.80 66.05,284.89 66.97,286.74 67.90,288.35 68.82,289.75 69.74,290.95 70.67,291.97 71.59,292.84 72.51,293.57 73.43,294.18 74.36,294.70 75.28,295.12 76.20,295.48 77.13,295.77 78.05,296.02 78.97,296.22 79.90,296.38 80.82,296.52 81.74,296.63 82.67,296.73 83.59,296.80 84.51,296.87 85.44,296.92 86.36,296.96 87.28,297.00 88.20,297.03 89.13,297.05 90.05,297.07 90.97,297.08 91.90,297.10 92.82,297.11 93.74,297.12 94.67,297.12 95.59,297.13 96.51,297.14 97.44,297.14 98.36,297.14 99.28,297.15 100.21,297.15 101.13,297.15 102.05,297.15 102.98,297.15 103.90,297.15" fill="none" stroke="#9a4a98" stroke-width="1.05"/>
<line x1="30.59" y1="230.89" x2="30.59" y2="232.23" stroke="#9a4a98" stroke-width="0.8"/>
<line x1="29.39" y1="230.89" x2="31.79" y2="230.89" stroke="#9a4a98" stroke-width="0.8"/>
<line x1="29.39" y1="232.23" x2="31.79" y2="232.23" stroke="#9a4a98" stroke-width="0.8"/>
<polygon points="30.59,229.82 32.18,232.72 28.99,232.72" fill="#9a4a98"/>
<line x1="51.72" y1="237.20" x2="51.72" y2="247.93" stroke="#9a4a98" stroke-width="0.8"/>
<line x1="50.52" y1="237.20" x2="52.92" y2="237.20" stroke="#9a4a98" stroke-width="0.8"/>
<line x1="50.52" y1="247.93" x2="52.92" y2="247.93" stroke="#9a4a98" stroke-width="0.8"/>
<polygon points="51.72,240.82 53.31,243.72 50.12,243.72" fill="#9a4a98"/>
<line x1="56.86" y1="249.68" x2="56.86" y2="263.09" stroke="#9a4a98" stroke-width="0.8"/>
<line x1="55.66" y1="249.68" x2="58.06" y2="249.68" stroke="#9a4a98" stroke-width="0.8"/>
<line x1="55.66" y1="263.09" x2="58.06" y2="263.09" stroke="#9a4a98" stroke-width="0.8"/>
<polygon points="56.86,254.64 58.45,257.54 55.26,257.54" fill="#9a4a98"/>
<line x1="62.00" y1="268.61" x2="62.00" y2="279.35" stroke="#9a4a98" stroke-width="0.8"/>
<line x1="60.80" y1="268.61" x2="63.20" y2="268.61" stroke="#9a4a98" stroke-width="0.8"/>
<line x1="60.80" y1="279.35" x2="63.20" y2="279.35" stroke="#9a4a98" stroke-width="0.8"/>
<polygon points="62.00,272.24 63.60,275.14 60.41,275.14" fill="#9a4a98"/>
<line x1="67.15" y1="283.70" x2="67.15" y2="290.41" stroke="#9a4a98" stroke-width="0.8"/>
<line x1="65.95" y1="283.70" x2="68.35" y2="283.70" stroke="#9a4a98" stroke-width="0.8"/>
<line x1="65.95" y1="290.41" x2="68.35" y2="290.41" stroke="#9a4a98" stroke-width="0.8"/>
<polygon points="67.15,285.32 68.74,288.22 65.55,288.22" fill="#9a4a98"/>
<line x1="72.29" y1="291.39" x2="72.29" y2="295.42" stroke="#9a4a98" stroke-width="0.8"/>
<line x1="71.09" y1="291.39" x2="73.49" y2="291.39" stroke="#9a4a98" stroke-width="0.8"/>
<line x1="71.09" y1="295.42" x2="73.49" y2="295.42" stroke="#9a4a98" stroke-width="0.8"/>
<polygon points="72.29,291.67 73.88,294.57 70.69,294.57" fill="#9a4a98"/>
<line x1="77.43" y1="294.52" x2="77.43" y2="297.20" stroke="#9a4a98" stroke-width="0.8"/>
<line x1="76.23" y1="294.52" x2="78.63" y2="294.52" stroke="#9a4a98" stroke-width="0.8"/>
<line x1="76.23" y1="297.20" x2="78.63" y2="297.20" stroke="#9a4a98" stroke-width="0.8"/>
<polygon points="77.43,294.12 79.03,297.02 75.84,297.02" fill="#9a4a98"/>
<line x1="82.57" y1="295.38" x2="82.57" y2="298.06" stroke="#9a4a98" stroke-width="0.8"/>
<line x1="81.37" y1="295.38" x2="83.77" y2="295.38" stroke="#9a4a98" stroke-width="0.8"/>
<line x1="81.37" y1="298.06" x2="83.77" y2="298.06" stroke="#9a4a98" stroke-width="0.8"/>
<polygon points="82.57,294.98 84.17,297.88 80.98,297.88" fill="#9a4a98"/>
<line x1="87.72" y1="296.34" x2="87.72" y2="297.68" stroke="#9a4a98" stroke-width="0.8"/>
<line x1="86.52" y1="296.34" x2="88.92" y2="296.34" stroke="#9a4a98" stroke-width="0.8"/>
<line x1="86.52" y1="297.68" x2="88.92" y2="297.68" stroke="#9a4a98" stroke-width="0.8"/>
<polygon points="87.72,295.27 89.31,298.17 86.12,298.17" fill="#9a4a98"/>
<line x1="92.86" y1="296.44" x2="92.86" y2="297.78" stroke="#9a4a98" stroke-width="0.8"/>
<line x1="91.66" y1="296.44" x2="94.06" y2="296.44" stroke="#9a4a98" stroke-width="0.8"/>
<line x1="91.66" y1="297.78" x2="94.06" y2="297.78" stroke="#9a4a98" stroke-width="0.8"/>
<polygon points="92.86,295.37 94.45,298.27 91.26,298.27" fill="#9a4a98"/>
<line x1="98.00" y1="296.47" x2="98.00" y2="297.81" stroke="#9a4a98" stroke-width="0.8"/>
<line x1="96.80" y1="296.47" x2="99.20" y2="296.47" stroke="#9a4a98" stroke-width="0.8"/>
<line x1="96.80" y1="297.81" x2="99.20" y2="297.81" stroke="#9a4a98" stroke-width="0.8"/>
<polygon points="98.00,295.40 99.60,298.30 96.41,298.30" fill="#9a4a98"/>
<line x1="103.14" y1="296.48" x2="103.14" y2="297.82" stroke="#9a4a98" stroke-width="0.8"/>
<line x1="101.94" y1="296.48" x2="104.34" y2="296.48" stroke="#9a4a98" stroke-width="0.8"/>
<line x1="101.94" y1="297.82" x2="104.34" y2="297.82" stroke="#9a4a98" stroke-width="0.8"/>
<polygon points="103.14,295.41 104.74,298.31 101.55,298.31" fill="#9a4a98"/>
<polyline points="30.05,231.55 30.97,231.58 31.89,231.62 32.82,231.67 33.74,231.73 34.66,231.80 35.59,231.89 36.51,231.99 37.43,232.13 38.36,232.29 39.28,232.48 40.20,232.72 41.12,233.02 42.05,233.37 42.97,233.81 43.89,234.33 44.82,234.97 45.74,235.73 46.66,236.64 47.59,237.72 48.51,239.01 49.43,240.51 50.36,242.25 51.28,244.25 52.20,246.52 53.13,249.05 54.05,251.83 54.97,254.84 55.89,258.02 56.82,261.33 57.74,264.69 58.66,268.04 59.59,271.30 60.51,274.41 61.43,277.32 62.36,280.00 63.28,282.41 64.20,284.56 65.13,286.45 66.05,288.08 66.97,289.49 67.90,290.68 68.82,291.68 69.74,292.53 70.67,293.23 71.59,293.82 72.51,294.30 73.43,294.70 74.36,295.02 75.28,295.29 76.20,295.51 77.13,295.69 78.05,295.84 78.97,295.96 79.90,296.06 80.82,296.14 81.74,296.20 82.67,296.26 83.59,296.30 84.51,296.33 85.44,296.36 86.36,296.39 87.28,296.41 88.20,296.42 89.13,296.43 90.05,296.44 90.97,296.45 91.90,296.46 92.82,296.46 93.74,296.47 94.67,296.47 95.59,296.47 96.51,296.48 97.44,296.48 98.36,296.48 99.28,296.48 100.21,296.48 101.13,296.48 102.05,296.48 102.98,296.49 103.90,296.49" fill="none" stroke="#111111" stroke-width="1.05"/>
<line x1="30.59" y1="230.90" x2="30.59" y2="232.24" stroke="#111111" stroke-width="0.8"/>
<line x1="29.39" y1="230.90" x2="31.79" y2="230.90" stroke="#111111" stroke-width="0.8"/>
<line x1="29.39" y1="232.24" x2="31.79" y2="232.24" stroke="#111111" stroke-width="0.8"/>
<circle cx="30.59" cy="231.57" r="1.45" fill="#111111"/>
<line x1="51.72" y1="231.20" x2="51.72" y2="259.38" stroke="#111111" stroke-width="0.8"/>
<line x1="50.52" y1="231.20" x2="52.92" y2="231.20" stroke="#111111" stroke-width="0.8"/>
<line x1="50.52" y1="259.38" x2="52.92" y2="259.38" stroke="#111111" stroke-width="0.8"/>
<circle cx="51.72" cy="245.29" r="1.45" fill="#111111"/>
<line x1="56.86" y1="248.73" x2="56.86" y2="274.22" stroke="#111111" stroke-width="0.8"/>
<line x1="55.66" y1="248.73" x2="58.06" y2="248.73" stroke="#111111" stroke-width="0.8"/>
<line x1="55.66" y1="274.22" x2="58.06" y2="274.22" stroke="#111111" stroke-width="0.8"/>
<circle cx="56.86" cy="261.48" r="1.45" fill="#111111"/>
<line x1="62.00" y1="272.96" x2="62.00" y2="285.04" stroke="#111111" stroke-width="0.8"/>
<line x1="60.80" y1="272.96" x2="63.20" y2="272.96" stroke="#111111" stroke-width="0.8"/>
<line x1="60.80" y1="285.04" x2="63.20" y2="285.04" stroke="#111111" stroke-width="0.8"/>
<circle cx="62.00" cy="279.00" r="1.45" fill="#111111"/>
<line x1="67.15" y1="286.37" x2="67.15" y2="293.08" stroke="#111111" stroke-width="0.8"/>
<line x1="65.95" y1="286.37" x2="68.35" y2="286.37" stroke="#111111" stroke-width="0.8"/>
<line x1="65.95" y1="293.08" x2="68.35" y2="293.08" stroke="#111111" stroke-width="0.8"/>
<circle cx="67.15" cy="289.72" r="1.45" fill="#111111"/>
<line x1="72.29" y1="292.18" x2="72.29" y2="296.20" stroke="#111111" stroke-width="0.8"/>
<line x1="71.09" y1="292.18" x2="73.49" y2="292.18" stroke="#111111" stroke-width="0.8"/>
<line x1="71.09" y1="296.20" x2="73.49" y2="296.20" stroke="#111111" stroke-width="0.8"/>
<circle cx="72.29" cy="294.19" r="1.45" fill="#111111"/>
<line x1="77.43" y1="291.05" x2="77.43" y2="296.42" stroke="#111111" stroke-width="0.8"/>
<line x1="76.23" y1="291.05" x2="78.63" y2="291.05" stroke="#111111" stroke-width="0.8"/>
<line x1="76.23" y1="296.42" x2="78.63" y2="296.42" stroke="#111111" stroke-width="0.8"/>
<circle cx="77.43" cy="293.73" r="1.45" fill="#111111"/>
<line x1="82.57" y1="293.57" x2="82.57" y2="296.25" stroke="#111111" stroke-width="0.8"/>
<line x1="81.37" y1="293.57" x2="83.77" y2="293.57" stroke="#111111" stroke-width="0.8"/>
<line x1="81.37" y1="296.25" x2="83.77" y2="296.25" stroke="#111111" stroke-width="0.8"/>
<circle cx="82.57" cy="294.91" r="1.45" fill="#111111"/>
<line x1="87.72" y1="294.74" x2="87.72" y2="296.75" stroke="#111111" stroke-width="0.8"/>
<line x1="86.52" y1="294.74" x2="88.92" y2="294.74" stroke="#111111" stroke-width="0.8"/>
<line x1="86.52" y1="296.75" x2="88.92" y2="296.75" stroke="#111111" stroke-width="0.8"/>
<circle cx="87.72" cy="295.74" r="1.45" fill="#111111"/>
<line x1="92.86" y1="295.79" x2="92.86" y2="297.13" stroke="#111111" stroke-width="0.8"/>
<line x1="91.66" y1="295.79" x2="94.06" y2="295.79" stroke="#111111" stroke-width="0.8"/>
<line x1="91.66" y1="297.13" x2="94.06" y2="297.13" stroke="#111111" stroke-width="0.8"/>
<circle cx="92.86" cy="296.46" r="1.45" fill="#111111"/>
<line x1="98.00" y1="295.81" x2="98.00" y2="297.15" stroke="#111111" stroke-width="0.8"/>
<line x1="96.80" y1="295.81" x2="99.20" y2="295.81" stroke="#111111" stroke-width="0.8"/>
<line x1="96.80" y1="297.15" x2="99.20" y2="297.15" stroke="#111111" stroke-width="0.8"/>
<circle cx="98.00" cy="296.48" r="1.45" fill="#111111"/>
<line x1="103.14" y1="295.81" x2="103.14" y2="297.16" stroke="#111111" stroke-width="0.8"/>
<line x1="101.94" y1="295.81" x2="104.34" y2="295.81" stroke="#111111" stroke-width="0.8"/>
<line x1="101.94" y1="297.16" x2="104.34" y2="297.16" stroke="#111111" stroke-width="0.8"/>
<circle cx="103.14" cy="296.49" r="1.45" fill="#111111"/>
<polyline points="30.05,231.42 30.97,231.42 31.89,231.43 32.82,231.43 33.74,231.43 34.66,231.44 35.59,231.44 36.51,231.45 37.43,231.46 38.36,231.47 39.28,231.48 40.20,231.50 41.12,231.52 42.05,231.55 42.97,231.59 43.89,231.64 44.82,231.70 45.74,231.78 46.66,231.88 47.59,232.01 48.51,232.18 49.43,232.39 50.36,232.65 51.28,232.99 52.20,233.42 53.13,233.96 54.05,234.63 54.97,235.47 55.89,236.52 56.82,237.80 57.74,239.36 58.66,241.24 59.59,243.48 60.51,246.08 61.43,249.05 62.36,252.38 63.28,256.00 64.20,259.84 65.13,263.79 66.05,267.74 66.97,271.56 67.90,275.16 68.82,278.45 69.74,281.40 70.67,283.97 71.59,286.17 72.51,288.02 73.43,289.56 74.36,290.82 75.28,291.84 76.20,292.67 77.13,293.33 78.05,293.86 78.97,294.27 79.90,294.60 80.82,294.87 81.74,295.07 82.67,295.23 83.59,295.36 84.51,295.46 85.44,295.54 86.36,295.60 87.28,295.65 88.20,295.68 89.13,295.71 90.05,295.73 90.97,295.75 91.90,295.77 92.82,295.78 93.74,295.79 94.67,295.79 95.59,295.80 96.51,295.80 97.44,295.81 98.36,295.81 99.28,295.81 100.21,295.81 101.13,295.81 102.05,295.81 102.98,295.81 103.90,295.81" fill="none" stroke="#1f4b9c" stroke-width="1.05"/>
<line x1="30.59" y1="230.75" x2="30.59" y2="232.09" stroke="#1f4b9c" stroke-width="0.8"/>
<line x1="29.39" y1="230.75" x2="31.79" y2="230.75" stroke="#1f4b9c" stroke-width="0.8"/>
<line x1="29.39" y1="232.09" x2="31.79" y2="232.09" stroke="#1f4b9c" stroke-width="0.8"/>
<rect x="29.14" y="229.97" width="2.9" height="2.9" fill="#1f4b9c"/>
<line x1="51.72" y1="226.47" x2="51.72" y2="239.89" stroke="#1f4b9c" stroke-width="0.8"/>
<line x1="50.52" y1="226.47" x2="52.92" y2="226.47" stroke="#1f4b9c" stroke-width="0.8"/>
<line x1="50.52" y1="239.89" x2="52.92" y2="239.89" stroke="#1f4b9c" stroke-width="0.8"/>
<rect x="50.27" y="231.73" width="2.9" height="2.9" fill="#1f4b9c"/>
<line x1="56.86" y1="229.81" x2="56.86" y2="245.91" stroke="#1f4b9c" stroke-width="0.8"/>
<line x1="55.66" y1="229.81" x2="58.06" y2="229.81" stroke="#1f4b9c" stroke-width="0.8"/>
<line x1="55.66" y1="245.91" x2="58.06" y2="245.91" stroke="#1f4b9c" stroke-width="0.8"/>
<rect x="55.41" y="236.41" width="2.9" height="2.9" fill="#1f4b9c"/>
<line x1="62.00" y1="246.37" x2="62.00" y2="258.44" stroke="#1f4b9c" stroke-width="0.8"/>
<line x1="60.80" y1="246.37" x2="63.20" y2="246.37" stroke="#1f4b9c" stroke-width="0.8"/>
<line x1="60.80" y1="258.44" x2="63.20" y2="258.44" stroke="#1f4b9c" stroke-width="0.8"/>
<rect x="60.55" y="250.96" width="2.9" height="2.9" fill="#1f4b9c"/>
<line x1="67.15" y1="268.23" x2="67.15" y2="276.28" stroke="#1f4b9c" stroke-width="0.8"/>
<line x1="65.95" y1="268.23" x2="68.35" y2="268.23" stroke="#1f4b9c" stroke-width="0.8"/>
<line x1="65.95" y1="276.28" x2="68.35" y2="276.28" stroke="#1f4b9c" stroke-width="0.8"/>
<rect x="65.70" y="270.80" width="2.9" height="2.9" fill="#1f4b9c"/>
<line x1="72.29" y1="284.92" x2="72.29" y2="290.28" stroke="#1f4b9c" stroke-width="0.8"/>
<line x1="71.09" y1="284.92" x2="73.49" y2="284.92" stroke="#1f4b9c" stroke-width="0.8"/>
<line x1="71.09" y1="290.28" x2="73.49" y2="290.28" stroke="#1f4b9c" stroke-width="0.8"/>
<rect x="70.84" y="286.15" width="2.9" height="2.9" fill="#1f4b9c"/>
<line x1="77.43" y1="291.50" x2="77.43" y2="295.53" stroke="#1f4b9c" stroke-width="0.8"/>
<line x1="76.23" y1="291.50" x2="78.63" y2="291.50" stroke="#1f4b9c" stroke-width="0.8"/>
<line x1="76.23" y1="295.53" x2="78.63" y2="295.53" stroke="#1f4b9c" stroke-width="0.8"/>
<rect x="75.98" y="292.07" width="2.9" height="2.9" fill="#1f4b9c"/>
<line x1="82.57" y1="293.88" x2="82.57" y2="296.56" stroke="#1f4b9c" stroke-width="0.8"/>
<line x1="81.37" y1="293.88" x2="83.77" y2="293.88" stroke="#1f4b9c" stroke-width="0.8"/>
<line x1="81.37" y1="296.56" x2="83.77" y2="296.56" stroke="#1f4b9c" stroke-width="0.8"/>
<rect x="81.12" y="293.77" width="2.9" height="2.9" fill="#1f4b9c"/>
<line x1="87.72" y1="294.66" x2="87.72" y2="296.67" stroke="#1f4b9c" stroke-width="0.8"/>
<line x1="86.52" y1="294.66" x2="88.92" y2="294.66" stroke="#1f4b9c" stroke-width="0.8"/>
<line x1="86.52" y1="296.67" x2="88.92" y2="296.67" stroke="#1f4b9c" stroke-width="0.8"/>
<rect x="86.27" y="294.21" width="2.9" height="2.9" fill="#1f4b9c"/>
<line x1="92.86" y1="295.11" x2="92.86" y2="296.45" stroke="#1f4b9c" stroke-width="0.8"/>
<line x1="91.66" y1="295.11" x2="94.06" y2="295.11" stroke="#1f4b9c" stroke-width="0.8"/>
<line x1="91.66" y1="296.45" x2="94.06" y2="296.45" stroke="#1f4b9c" stroke-width="0.8"/>
<rect x="91.41" y="294.33" width="2.9" height="2.9" fill="#1f4b9c"/>
<line x1="98.00" y1="295.14" x2="98.00" y2="296.48" stroke="#1f4b9c" stroke-width="0.8"/>
<line x1="96.80" y1="295.14" x2="99.20" y2="295.14" stroke="#1f4b9c" stroke-width="0.8"/>
<line x1="96.80" y1="296.48" x2="99.20" y2="296.48" stroke="#1f4b9c" stroke-width="0.8"/>
<rect x="96.55" y="294.36" width="2.9" height="2.9" fill="#1f4b9c"/>
<line x1="103.14" y1="295.14" x2="103.14" y2="296.49" stroke="#1f4b9c" stroke-width="0.8"/>
<line x1="101.94" y1="295.14" x2="104.34" y2="295.14" stroke="#1f4b9c" stroke-width="0.8"/>
<line x1="101.94" y1="296.49" x2="104.34" y2="296.49" stroke="#1f4b9c" stroke-width="0.8"/>
<rect x="101.69" y="294.36" width="2.9" height="2.9" fill="#1f4b9c"/>
<line x1="100.00" y1="221.00" x2="107.00" y2="221.00" stroke="#111111" stroke-width="0.7"/>
<circle cx="103.50" cy="221.00" r="1.45" fill="#111111"/>
<text x="109.20" y="222.60" font-size="4.4" fill="#151515" stroke="#151515" stroke-width="0.12">AZD5363 <tspan font-style="italic">K</tspan><tspan font-size="3" dy="1">d</tspan><tspan dy="-1"> = 1.8 ± 2.8 nmol/L</tspan></text>
<line x1="100.00" y1="231.40" x2="107.00" y2="231.40" stroke="#1f4b9c" stroke-width="0.7"/>
<rect x="102.05" y="229.95" width="2.9" height="2.9" fill="#1f4b9c"/>
<text x="109.20" y="233.00" font-size="4.4" fill="#151515" stroke="#151515" stroke-width="0.12">MS21 <tspan font-style="italic">K</tspan><tspan font-size="3" dy="1">d</tspan><tspan dy="-1"> = 10 ± 4.3 nmol/L</tspan></text>
<line x1="100.00" y1="241.00" x2="107.00" y2="241.00" stroke="#9a4a98" stroke-width="0.7"/>
<polygon points="103.50,239.26 105.09,242.16 101.91,242.16" fill="#9a4a98"/>
<text x="109.20" y="242.60" font-size="4.4" fill="#151515" stroke="#151515" stroke-width="0.12">MS21N1 <tspan font-style="italic">K</tspan><tspan font-size="3" dy="1">d</tspan><tspan dy="-1"> = 3.8 ± 3.5 nmol/L</tspan></text>
<line x1="100.00" y1="250.90" x2="107.00" y2="250.90" stroke="#55c2c5" stroke-width="0.7"/>
<polygon points="103.50,252.64 105.09,249.74 101.91,249.74" fill="#55c2c5"/>
<text x="109.20" y="252.50" font-size="4.4" fill="#151515" stroke="#151515" stroke-width="0.12">MS21N2 <tspan font-style="italic">K</tspan><tspan font-size="3" dy="1">d</tspan><tspan dy="-1"> = 13 ± 9.1 µmol/L</tspan></text>
<line x1="196.50" y1="217.60" x2="196.50" y2="298.50" stroke="#1a1a1a" stroke-width="1.0"/>
<line x1="196.00" y1="298.00" x2="281.80" y2="298.00" stroke="#1a1a1a" stroke-width="1.0"/>
<line x1="194.30" y1="298.00" x2="196.50" y2="298.00" stroke="#1a1a1a" stroke-width="0.8"/>
<text x="193.20" y="299.90" font-size="5.3" text-anchor="end" fill="#151515" stroke="#151515" stroke-width="0.16">0</text>
<line x1="194.30" y1="284.67" x2="196.50" y2="284.67" stroke="#1a1a1a" stroke-width="0.8"/>
<text x="193.20" y="286.57" font-size="5.3" text-anchor="end" fill="#151515" stroke="#151515" stroke-width="0.16">20</text>
<line x1="194.30" y1="271.33" x2="196.50" y2="271.33" stroke="#1a1a1a" stroke-width="0.8"/>
<text x="193.20" y="273.23" font-size="5.3" text-anchor="end" fill="#151515" stroke="#151515" stroke-width="0.16">40</text>
<line x1="194.30" y1="258.00" x2="196.50" y2="258.00" stroke="#1a1a1a" stroke-width="0.8"/>
<text x="193.20" y="259.90" font-size="5.3" text-anchor="end" fill="#151515" stroke="#151515" stroke-width="0.16">60</text>
<line x1="194.30" y1="244.67" x2="196.50" y2="244.67" stroke="#1a1a1a" stroke-width="0.8"/>
<text x="193.20" y="246.57" font-size="5.3" text-anchor="end" fill="#151515" stroke="#151515" stroke-width="0.16">80</text>
<line x1="194.30" y1="231.33" x2="196.50" y2="231.33" stroke="#1a1a1a" stroke-width="0.8"/>
<text x="193.20" y="233.23" font-size="5.3" text-anchor="end" fill="#151515" stroke="#151515" stroke-width="0.16">100</text>
<line x1="194.30" y1="218.00" x2="196.50" y2="218.00" stroke="#1a1a1a" stroke-width="0.8"/>
<text x="193.20" y="219.90" font-size="5.3" text-anchor="end" fill="#151515" stroke="#151515" stroke-width="0.16">120</text>
<line x1="196.50" y1="298.00" x2="196.50" y2="300.40" stroke="#1a1a1a" stroke-width="0.8"/>
<text x="195.00" y="308.30" font-size="5.4" text-anchor="middle" fill="#151515" stroke="#151515" stroke-width="0.16">–12</text>
<line x1="217.72" y1="298.00" x2="217.72" y2="300.40" stroke="#1a1a1a" stroke-width="0.8"/>
<text x="216.22" y="308.30" font-size="5.4" text-anchor="middle" fill="#151515" stroke="#151515" stroke-width="0.16">–10</text>
<line x1="238.95" y1="298.00" x2="238.95" y2="300.40" stroke="#1a1a1a" stroke-width="0.8"/>
<text x="237.45" y="308.30" font-size="5.4" text-anchor="middle" fill="#151515" stroke="#151515" stroke-width="0.16">–8</text>
<line x1="260.17" y1="298.00" x2="260.17" y2="300.40" stroke="#1a1a1a" stroke-width="0.8"/>
<text x="258.67" y="308.30" font-size="5.4" text-anchor="middle" fill="#151515" stroke="#151515" stroke-width="0.16">–6</text>
<line x1="281.40" y1="298.00" x2="281.40" y2="300.40" stroke="#1a1a1a" stroke-width="0.8"/>
<text x="279.90" y="308.30" font-size="5.4" text-anchor="middle" fill="#151515" stroke="#151515" stroke-width="0.16">–4</text>
<text x="239.45" y="317.90" font-size="5.4" text-anchor="middle" fill="#151515" stroke="#151515" stroke-width="0.16">Log (compound concentration/mol/L)</text>
<text x="179.90" y="258.30" font-size="5.5" text-anchor="middle" fill="#151515" stroke="#151515" stroke-width="0.16" transform="rotate(-90 179.90 258.30)">qPCR signal (%)</text>
<text x="237.00" y="217.00" font-size="6.8" text-anchor="middle" fill="#151515" stroke="#151515" stroke-width="0.20">AKT2</text>
<polyline points="203.93,236.67 204.84,236.67 205.75,236.67 206.65,236.67 207.56,236.67 208.47,236.67 209.38,236.67 210.29,236.67 211.20,236.67 212.11,236.67 213.02,236.67 213.92,236.67 214.83,236.67 215.74,236.67 216.65,236.67 217.56,236.67 218.47,236.67 219.38,236.67 220.29,236.67 221.19,236.67 222.10,236.67 223.01,236.67 223.92,236.67 224.83,236.67 225.74,236.67 226.65,236.67 227.55,236.67 228.46,236.67 229.37,236.67 230.28,236.67 231.19,236.67 232.10,236.67 233.01,236.67 233.92,236.67 234.82,236.67 235.73,236.67 236.64,236.67 237.55,236.67 238.46,236.67 239.37,236.67 240.28,236.67 241.19,236.67 242.09,236.67 243.00,236.67 243.91,236.67 244.82,236.67 245.73,236.67 246.64,236.67 247.55,236.67 248.45,236.67 249.36,236.67 250.27,236.68 251.18,236.68 252.09,236.69 253.00,236.70 253.91,236.72 254.82,236.75 255.72,236.79 256.63,236.85 257.54,236.93 258.45,237.05 259.36,237.23 260.27,237.49 261.18,237.85 262.09,238.35 262.99,239.02 263.90,239.88 264.81,240.94 265.72,242.16 266.63,243.46 267.54,244.75 268.45,245.94 269.35,246.96 270.26,247.79 271.17,248.42 272.08,248.89 272.99,249.23 273.90,249.47 274.81,249.64 275.72,249.76 276.62,249.83" fill="none" stroke="#55c2c5" stroke-width="1.05"/>
<line x1="204.46" y1="235.33" x2="204.46" y2="238.00" stroke="#55c2c5" stroke-width="0.8"/>
<line x1="203.26" y1="235.33" x2="205.66" y2="235.33" stroke="#55c2c5" stroke-width="0.8"/>
<line x1="203.26" y1="238.00" x2="205.66" y2="238.00" stroke="#55c2c5" stroke-width="0.8"/>
<polygon points="204.46,238.41 206.05,235.51 202.86,235.51" fill="#55c2c5"/>
<line x1="225.26" y1="234.67" x2="225.26" y2="238.67" stroke="#55c2c5" stroke-width="0.8"/>
<line x1="224.06" y1="234.67" x2="226.46" y2="234.67" stroke="#55c2c5" stroke-width="0.8"/>
<line x1="224.06" y1="238.67" x2="226.46" y2="238.67" stroke="#55c2c5" stroke-width="0.8"/>
<polygon points="225.26,238.41 226.85,235.51 223.66,235.51" fill="#55c2c5"/>
<line x1="230.32" y1="234.67" x2="230.32" y2="238.67" stroke="#55c2c5" stroke-width="0.8"/>
<line x1="229.12" y1="234.67" x2="231.52" y2="234.67" stroke="#55c2c5" stroke-width="0.8"/>
<line x1="229.12" y1="238.67" x2="231.52" y2="238.67" stroke="#55c2c5" stroke-width="0.8"/>
<polygon points="230.32,238.41 231.92,235.51 228.73,235.51" fill="#55c2c5"/>
<line x1="235.38" y1="234.67" x2="235.38" y2="238.67" stroke="#55c2c5" stroke-width="0.8"/>
<line x1="234.18" y1="234.67" x2="236.58" y2="234.67" stroke="#55c2c5" stroke-width="0.8"/>
<line x1="234.18" y1="238.67" x2="236.58" y2="238.67" stroke="#55c2c5" stroke-width="0.8"/>
<polygon points="235.38,238.41 236.98,235.51 233.79,235.51" fill="#55c2c5"/>
<line x1="240.45" y1="225.33" x2="240.45" y2="228.00" stroke="#55c2c5" stroke-width="0.8"/>
<line x1="239.25" y1="225.33" x2="241.65" y2="225.33" stroke="#55c2c5" stroke-width="0.8"/>
<line x1="239.25" y1="228.00" x2="241.65" y2="228.00" stroke="#55c2c5" stroke-width="0.8"/>
<polygon points="240.45,228.41 242.04,225.51 238.85,225.51" fill="#55c2c5"/>
<line x1="245.51" y1="236.00" x2="245.51" y2="240.00" stroke="#55c2c5" stroke-width="0.8"/>
<line x1="244.31" y1="236.00" x2="246.71" y2="236.00" stroke="#55c2c5" stroke-width="0.8"/>
<line x1="244.31" y1="240.00" x2="246.71" y2="240.00" stroke="#55c2c5" stroke-width="0.8"/>
<polygon points="245.51,239.74 247.10,236.84 243.91,236.84" fill="#55c2c5"/>
<line x1="250.57" y1="235.35" x2="250.57" y2="239.35" stroke="#55c2c5" stroke-width="0.8"/>
<line x1="249.37" y1="235.35" x2="251.77" y2="235.35" stroke="#55c2c5" stroke-width="0.8"/>
<line x1="249.37" y1="239.35" x2="251.77" y2="239.35" stroke="#55c2c5" stroke-width="0.8"/>
<polygon points="250.57,239.09 252.17,236.19 248.98,236.19" fill="#55c2c5"/>
<line x1="255.63" y1="234.12" x2="255.63" y2="238.12" stroke="#55c2c5" stroke-width="0.8"/>
<line x1="254.43" y1="234.12" x2="256.83" y2="234.12" stroke="#55c2c5" stroke-width="0.8"/>
<line x1="254.43" y1="238.12" x2="256.83" y2="238.12" stroke="#55c2c5" stroke-width="0.8"/>
<polygon points="255.63,237.86 257.23,234.96 254.04,234.96" fill="#55c2c5"/>
<line x1="260.70" y1="235.64" x2="260.70" y2="239.64" stroke="#55c2c5" stroke-width="0.8"/>
<line x1="259.50" y1="235.64" x2="261.90" y2="235.64" stroke="#55c2c5" stroke-width="0.8"/>
<line x1="259.50" y1="239.64" x2="261.90" y2="239.64" stroke="#55c2c5" stroke-width="0.8"/>
<polygon points="260.70,239.38 262.29,236.48 259.10,236.48" fill="#55c2c5"/>
<line x1="265.76" y1="242.87" x2="265.76" y2="252.21" stroke="#55c2c5" stroke-width="0.8"/>
<line x1="264.56" y1="242.87" x2="266.96" y2="242.87" stroke="#55c2c5" stroke-width="0.8"/>
<line x1="264.56" y1="252.21" x2="266.96" y2="252.21" stroke="#55c2c5" stroke-width="0.8"/>
<polygon points="265.76,249.28 267.35,246.38 264.16,246.38" fill="#55c2c5"/>
<line x1="270.82" y1="248.86" x2="270.82" y2="254.20" stroke="#55c2c5" stroke-width="0.8"/>
<line x1="269.62" y1="248.86" x2="272.02" y2="248.86" stroke="#55c2c5" stroke-width="0.8"/>
<line x1="269.62" y1="254.20" x2="272.02" y2="254.20" stroke="#55c2c5" stroke-width="0.8"/>
<polygon points="270.82,253.27 272.41,250.37 269.22,250.37" fill="#55c2c5"/>
<line x1="275.88" y1="250.44" x2="275.88" y2="266.44" stroke="#55c2c5" stroke-width="0.8"/>
<line x1="274.68" y1="250.44" x2="277.08" y2="250.44" stroke="#55c2c5" stroke-width="0.8"/>
<line x1="274.68" y1="266.44" x2="277.08" y2="266.44" stroke="#55c2c5" stroke-width="0.8"/>
<polygon points="275.88,260.18 277.48,257.28 274.29,257.28" fill="#55c2c5"/>
<polyline points="203.93,236.02 204.84,236.03 205.75,236.03 206.65,236.03 207.56,236.04 208.47,236.05 209.38,236.05 210.29,236.06 211.20,236.07 212.11,236.08 213.02,236.10 213.92,236.11 214.83,236.13 215.74,236.15 216.65,236.17 217.56,236.20 218.47,236.23 219.38,236.27 220.29,236.31 221.19,236.36 222.10,236.42 223.01,236.49 223.92,236.56 224.83,236.65 225.74,236.76 226.65,236.87 227.55,237.01 228.46,237.17 229.37,237.35 230.28,237.56 231.19,237.80 232.10,238.08 233.01,238.40 233.92,238.77 234.82,239.18 235.73,239.66 236.64,240.20 237.55,240.82 238.46,241.52 239.37,242.31 240.28,243.20 241.19,244.20 242.09,245.31 243.00,246.54 243.91,247.90 244.82,249.38 245.73,251.00 246.64,252.75 247.55,254.61 248.45,256.60 249.36,258.68 250.27,260.84 251.18,263.07 252.09,265.35 253.00,267.64 253.91,269.92 254.82,272.17 255.72,274.37 256.63,276.49 257.54,278.52 258.45,280.44 259.36,282.24 260.27,283.91 261.18,285.46 262.09,286.87 262.99,288.16 263.90,289.32 264.81,290.37 265.72,291.30 266.63,292.14 267.54,292.88 268.45,293.53 269.35,294.11 270.26,294.61 271.17,295.06 272.08,295.44 272.99,295.78 273.90,296.08 274.81,296.33 275.72,296.56 276.62,296.75" fill="none" stroke="#9a4a98" stroke-width="1.05"/>
<line x1="204.46" y1="234.69" x2="204.46" y2="237.36" stroke="#9a4a98" stroke-width="0.8"/>
<line x1="203.26" y1="234.69" x2="205.66" y2="234.69" stroke="#9a4a98" stroke-width="0.8"/>
<line x1="203.26" y1="237.36" x2="205.66" y2="237.36" stroke="#9a4a98" stroke-width="0.8"/>
<polygon points="204.46,234.28 206.05,237.18 202.86,237.18" fill="#9a4a98"/>
<line x1="225.26" y1="234.03" x2="225.26" y2="239.37" stroke="#9a4a98" stroke-width="0.8"/>
<line x1="224.06" y1="234.03" x2="226.46" y2="234.03" stroke="#9a4a98" stroke-width="0.8"/>
<line x1="224.06" y1="239.37" x2="226.46" y2="239.37" stroke="#9a4a98" stroke-width="0.8"/>
<polygon points="225.26,234.96 226.85,237.86 223.66,237.86" fill="#9a4a98"/>
<line x1="230.32" y1="235.57" x2="230.32" y2="240.91" stroke="#9a4a98" stroke-width="0.8"/>
<line x1="229.12" y1="235.57" x2="231.52" y2="235.57" stroke="#9a4a98" stroke-width="0.8"/>
<line x1="229.12" y1="240.91" x2="231.52" y2="240.91" stroke="#9a4a98" stroke-width="0.8"/>
<polygon points="230.32,236.50 231.92,239.40 228.73,239.40" fill="#9a4a98"/>
<line x1="235.38" y1="240.14" x2="235.38" y2="254.80" stroke="#9a4a98" stroke-width="0.8"/>
<line x1="234.18" y1="240.14" x2="236.58" y2="240.14" stroke="#9a4a98" stroke-width="0.8"/>
<line x1="234.18" y1="254.80" x2="236.58" y2="254.80" stroke="#9a4a98" stroke-width="0.8"/>
<polygon points="235.38,245.73 236.98,248.63 233.79,248.63" fill="#9a4a98"/>
<line x1="240.45" y1="241.38" x2="240.45" y2="245.38" stroke="#9a4a98" stroke-width="0.8"/>
<line x1="239.25" y1="241.38" x2="241.65" y2="241.38" stroke="#9a4a98" stroke-width="0.8"/>
<line x1="239.25" y1="245.38" x2="241.65" y2="245.38" stroke="#9a4a98" stroke-width="0.8"/>
<polygon points="240.45,241.64 242.04,244.54 238.85,244.54" fill="#9a4a98"/>
<line x1="245.51" y1="248.60" x2="245.51" y2="252.60" stroke="#9a4a98" stroke-width="0.8"/>
<line x1="244.31" y1="248.60" x2="246.71" y2="248.60" stroke="#9a4a98" stroke-width="0.8"/>
<line x1="244.31" y1="252.60" x2="246.71" y2="252.60" stroke="#9a4a98" stroke-width="0.8"/>
<polygon points="245.51,248.86 247.10,251.76 243.91,251.76" fill="#9a4a98"/>
<line x1="250.57" y1="259.57" x2="250.57" y2="263.57" stroke="#9a4a98" stroke-width="0.8"/>
<line x1="249.37" y1="259.57" x2="251.77" y2="259.57" stroke="#9a4a98" stroke-width="0.8"/>
<line x1="249.37" y1="263.57" x2="251.77" y2="263.57" stroke="#9a4a98" stroke-width="0.8"/>
<polygon points="250.57,259.83 252.17,262.73 248.98,262.73" fill="#9a4a98"/>
<line x1="255.63" y1="272.15" x2="255.63" y2="276.15" stroke="#9a4a98" stroke-width="0.8"/>
<line x1="254.43" y1="272.15" x2="256.83" y2="272.15" stroke="#9a4a98" stroke-width="0.8"/>
<line x1="254.43" y1="276.15" x2="256.83" y2="276.15" stroke="#9a4a98" stroke-width="0.8"/>
<polygon points="255.63,272.41 257.23,275.31 254.04,275.31" fill="#9a4a98"/>
<line x1="260.70" y1="282.65" x2="260.70" y2="286.65" stroke="#9a4a98" stroke-width="0.8"/>
<line x1="259.50" y1="282.65" x2="261.90" y2="282.65" stroke="#9a4a98" stroke-width="0.8"/>
<line x1="259.50" y1="286.65" x2="261.90" y2="286.65" stroke="#9a4a98" stroke-width="0.8"/>
<polygon points="260.70,282.91 262.29,285.81 259.10,285.81" fill="#9a4a98"/>
<line x1="265.76" y1="288.67" x2="265.76" y2="292.67" stroke="#9a4a98" stroke-width="0.8"/>
<line x1="264.56" y1="288.67" x2="266.96" y2="288.67" stroke="#9a4a98" stroke-width="0.8"/>
<line x1="264.56" y1="292.67" x2="266.96" y2="292.67" stroke="#9a4a98" stroke-width="0.8"/>
<polygon points="265.76,288.93 267.35,291.83 264.16,291.83" fill="#9a4a98"/>
<line x1="270.82" y1="292.89" x2="270.82" y2="295.56" stroke="#9a4a98" stroke-width="0.8"/>
<line x1="269.62" y1="292.89" x2="272.02" y2="292.89" stroke="#9a4a98" stroke-width="0.8"/>
<line x1="269.62" y1="295.56" x2="272.02" y2="295.56" stroke="#9a4a98" stroke-width="0.8"/>
<polygon points="270.82,292.48 272.41,295.38 269.22,295.38" fill="#9a4a98"/>
<line x1="275.88" y1="295.26" x2="275.88" y2="297.93" stroke="#9a4a98" stroke-width="0.8"/>
<line x1="274.68" y1="295.26" x2="277.08" y2="295.26" stroke="#9a4a98" stroke-width="0.8"/>
<line x1="274.68" y1="297.93" x2="277.08" y2="297.93" stroke="#9a4a98" stroke-width="0.8"/>
<polygon points="275.88,294.86 277.48,297.76 274.29,297.76" fill="#9a4a98"/>
<polyline points="203.93,233.33 204.84,233.33 205.75,233.33 206.65,233.33 207.56,233.33 208.47,233.33 209.38,233.33 210.29,233.33 211.20,233.33 212.11,233.34 213.02,233.34 213.92,233.34 214.83,233.34 215.74,233.34 216.65,233.34 217.56,233.35 218.47,233.35 219.38,233.36 220.29,233.36 221.19,233.37 222.10,233.39 223.01,233.41 223.92,233.43 224.83,233.47 225.74,233.51 226.65,233.58 227.55,233.66 228.46,233.77 229.37,233.92 230.28,234.12 231.19,234.39 232.10,234.74 233.01,235.21 233.92,235.83 234.82,236.65 235.73,237.71 236.64,239.08 237.55,240.82 238.46,243.00 239.37,245.68 240.28,248.88 241.19,252.61 242.09,256.78 243.00,261.29 243.91,265.96 244.82,270.58 245.73,274.97 246.64,278.97 247.55,282.49 248.45,285.48 249.36,287.95 250.27,289.94 251.18,291.52 252.09,292.76 253.00,293.71 253.91,294.44 254.82,295.00 255.72,295.42 256.63,295.73 257.54,295.97 258.45,296.15 259.36,296.28 260.27,296.38 261.18,296.45 262.09,296.51 262.99,296.55 263.90,296.58 264.81,296.60 265.72,296.62 266.63,296.63 267.54,296.64 268.45,296.65 269.35,296.65 270.26,296.66 271.17,296.66 272.08,296.66 272.99,296.66 273.90,296.66 274.81,296.66 275.72,296.66 276.62,296.67" fill="none" stroke="#111111" stroke-width="1.05"/>
<line x1="204.46" y1="230.00" x2="204.46" y2="232.67" stroke="#111111" stroke-width="0.8"/>
<line x1="203.26" y1="230.00" x2="205.66" y2="230.00" stroke="#111111" stroke-width="0.8"/>
<line x1="203.26" y1="232.67" x2="205.66" y2="232.67" stroke="#111111" stroke-width="0.8"/>
<circle cx="204.46" cy="231.33" r="1.45" fill="#111111"/>
<line x1="225.26" y1="229.49" x2="225.26" y2="232.16" stroke="#111111" stroke-width="0.8"/>
<line x1="224.06" y1="229.49" x2="226.46" y2="229.49" stroke="#111111" stroke-width="0.8"/>
<line x1="224.06" y1="232.16" x2="226.46" y2="232.16" stroke="#111111" stroke-width="0.8"/>
<circle cx="225.26" cy="230.82" r="1.45" fill="#111111"/>
<line x1="230.32" y1="236.13" x2="230.32" y2="240.13" stroke="#111111" stroke-width="0.8"/>
<line x1="229.12" y1="236.13" x2="231.52" y2="236.13" stroke="#111111" stroke-width="0.8"/>
<line x1="229.12" y1="240.13" x2="231.52" y2="240.13" stroke="#111111" stroke-width="0.8"/>
<circle cx="230.32" cy="238.13" r="1.45" fill="#111111"/>
<line x1="235.38" y1="234.60" x2="235.38" y2="239.93" stroke="#111111" stroke-width="0.8"/>
<line x1="234.18" y1="234.60" x2="236.58" y2="234.60" stroke="#111111" stroke-width="0.8"/>
<line x1="234.18" y1="239.93" x2="236.58" y2="239.93" stroke="#111111" stroke-width="0.8"/>
<circle cx="235.38" cy="237.27" r="1.45" fill="#111111"/>
<line x1="240.45" y1="248.21" x2="240.45" y2="250.88" stroke="#111111" stroke-width="0.8"/>
<line x1="239.25" y1="248.21" x2="241.65" y2="248.21" stroke="#111111" stroke-width="0.8"/>
<line x1="239.25" y1="250.88" x2="241.65" y2="250.88" stroke="#111111" stroke-width="0.8"/>
<circle cx="240.45" cy="249.54" r="1.45" fill="#111111"/>
<line x1="245.51" y1="272.94" x2="245.51" y2="274.94" stroke="#111111" stroke-width="0.8"/>
<line x1="244.31" y1="272.94" x2="246.71" y2="272.94" stroke="#111111" stroke-width="0.8"/>
<line x1="244.31" y1="274.94" x2="246.71" y2="274.94" stroke="#111111" stroke-width="0.8"/>
<circle cx="245.51" cy="273.94" r="1.45" fill="#111111"/>
<line x1="250.57" y1="289.51" x2="250.57" y2="291.51" stroke="#111111" stroke-width="0.8"/>
<line x1="249.37" y1="289.51" x2="251.77" y2="289.51" stroke="#111111" stroke-width="0.8"/>
<line x1="249.37" y1="291.51" x2="251.77" y2="291.51" stroke="#111111" stroke-width="0.8"/>
<circle cx="250.57" cy="290.51" r="1.45" fill="#111111"/>
<line x1="255.63" y1="294.71" x2="255.63" y2="296.05" stroke="#111111" stroke-width="0.8"/>
<line x1="254.43" y1="294.71" x2="256.83" y2="294.71" stroke="#111111" stroke-width="0.8"/>
<line x1="254.43" y1="296.05" x2="256.83" y2="296.05" stroke="#111111" stroke-width="0.8"/>
<circle cx="255.63" cy="295.38" r="1.45" fill="#111111"/>
<line x1="260.70" y1="295.75" x2="260.70" y2="297.08" stroke="#111111" stroke-width="0.8"/>
<line x1="259.50" y1="295.75" x2="261.90" y2="295.75" stroke="#111111" stroke-width="0.8"/>
<line x1="259.50" y1="297.08" x2="261.90" y2="297.08" stroke="#111111" stroke-width="0.8"/>
<circle cx="260.70" cy="296.41" r="1.45" fill="#111111"/>
<line x1="265.76" y1="293.95" x2="265.76" y2="297.95" stroke="#111111" stroke-width="0.8"/>
<line x1="264.56" y1="293.95" x2="266.96" y2="293.95" stroke="#111111" stroke-width="0.8"/>
<line x1="264.56" y1="297.95" x2="266.96" y2="297.95" stroke="#111111" stroke-width="0.8"/>
<circle cx="265.76" cy="295.95" r="1.45" fill="#111111"/>
<line x1="270.82" y1="293.99" x2="270.82" y2="297.99" stroke="#111111" stroke-width="0.8"/>
<line x1="269.62" y1="293.99" x2="272.02" y2="293.99" stroke="#111111" stroke-width="0.8"/>
<line x1="269.62" y1="297.99" x2="272.02" y2="297.99" stroke="#111111" stroke-width="0.8"/>
<circle cx="270.82" cy="295.99" r="1.45" fill="#111111"/>
<line x1="275.88" y1="295.33" x2="275.88" y2="298.00" stroke="#111111" stroke-width="0.8"/>
<line x1="274.68" y1="295.33" x2="277.08" y2="295.33" stroke="#111111" stroke-width="0.8"/>
<line x1="274.68" y1="298.00" x2="277.08" y2="298.00" stroke="#111111" stroke-width="0.8"/>
<circle cx="275.88" cy="296.66" r="1.45" fill="#111111"/>
<polyline points="203.93,238.00 204.84,238.00 205.75,238.00 206.65,238.00 207.56,238.00 208.47,238.00 209.38,238.00 210.29,238.00 211.20,238.00 212.11,238.00 213.02,238.00 213.92,238.00 214.83,238.00 215.74,238.00 216.65,238.00 217.56,238.00 218.47,238.00 219.38,238.00 220.29,238.00 221.19,238.00 222.10,238.01 223.01,238.01 223.92,238.01 224.83,238.01 225.74,238.01 226.65,238.02 227.55,238.02 228.46,238.03 229.37,238.04 230.28,238.05 231.19,238.06 232.10,238.08 233.01,238.10 233.92,238.13 234.82,238.17 235.73,238.22 236.64,238.28 237.55,238.35 238.46,238.45 239.37,238.58 240.28,238.74 241.19,238.94 242.09,239.19 243.00,239.52 243.91,239.93 244.82,240.45 245.73,241.10 246.64,241.91 247.55,242.91 248.45,244.14 249.36,245.64 250.27,247.44 251.18,249.57 252.09,252.04 253.00,254.87 253.91,258.01 254.82,261.42 255.72,265.01 256.63,268.70 257.54,272.37 258.45,275.90 259.36,279.22 260.27,282.24 261.18,284.94 262.09,287.28 262.99,289.28 263.90,290.96 264.81,292.36 265.72,293.50 266.63,294.42 267.54,295.17 268.45,295.76 269.35,296.24 270.26,296.61 271.17,296.91 272.08,297.14 272.99,297.33 273.90,297.47 274.81,297.59 275.72,297.68 276.62,297.75" fill="none" stroke="#1f4b9c" stroke-width="1.05"/>
<line x1="204.46" y1="231.33" x2="204.46" y2="234.00" stroke="#1f4b9c" stroke-width="0.8"/>
<line x1="203.26" y1="231.33" x2="205.66" y2="231.33" stroke="#1f4b9c" stroke-width="0.8"/>
<line x1="203.26" y1="234.00" x2="205.66" y2="234.00" stroke="#1f4b9c" stroke-width="0.8"/>
<rect x="203.01" y="231.22" width="2.9" height="2.9" fill="#1f4b9c"/>
<line x1="225.26" y1="230.01" x2="225.26" y2="248.68" stroke="#1f4b9c" stroke-width="0.8"/>
<line x1="224.06" y1="230.01" x2="226.46" y2="230.01" stroke="#1f4b9c" stroke-width="0.8"/>
<line x1="224.06" y1="248.68" x2="226.46" y2="248.68" stroke="#1f4b9c" stroke-width="0.8"/>
<rect x="223.81" y="237.90" width="2.9" height="2.9" fill="#1f4b9c"/>
<line x1="230.32" y1="230.72" x2="230.32" y2="248.05" stroke="#1f4b9c" stroke-width="0.8"/>
<line x1="229.12" y1="230.72" x2="231.52" y2="230.72" stroke="#1f4b9c" stroke-width="0.8"/>
<line x1="229.12" y1="248.05" x2="231.52" y2="248.05" stroke="#1f4b9c" stroke-width="0.8"/>
<rect x="228.87" y="237.93" width="2.9" height="2.9" fill="#1f4b9c"/>
<line x1="235.38" y1="234.86" x2="235.38" y2="241.53" stroke="#1f4b9c" stroke-width="0.8"/>
<line x1="234.18" y1="234.86" x2="236.58" y2="234.86" stroke="#1f4b9c" stroke-width="0.8"/>
<line x1="234.18" y1="241.53" x2="236.58" y2="241.53" stroke="#1f4b9c" stroke-width="0.8"/>
<rect x="233.93" y="236.75" width="2.9" height="2.9" fill="#1f4b9c"/>
<line x1="240.45" y1="236.77" x2="240.45" y2="244.77" stroke="#1f4b9c" stroke-width="0.8"/>
<line x1="239.25" y1="236.77" x2="241.65" y2="236.77" stroke="#1f4b9c" stroke-width="0.8"/>
<line x1="239.25" y1="244.77" x2="241.65" y2="244.77" stroke="#1f4b9c" stroke-width="0.8"/>
<rect x="239.00" y="239.32" width="2.9" height="2.9" fill="#1f4b9c"/>
<line x1="245.51" y1="236.93" x2="245.51" y2="243.59" stroke="#1f4b9c" stroke-width="0.8"/>
<line x1="244.31" y1="236.93" x2="246.71" y2="236.93" stroke="#1f4b9c" stroke-width="0.8"/>
<line x1="244.31" y1="243.59" x2="246.71" y2="243.59" stroke="#1f4b9c" stroke-width="0.8"/>
<rect x="244.06" y="238.81" width="2.9" height="2.9" fill="#1f4b9c"/>
<line x1="250.57" y1="244.77" x2="250.57" y2="251.43" stroke="#1f4b9c" stroke-width="0.8"/>
<line x1="249.37" y1="244.77" x2="251.77" y2="244.77" stroke="#1f4b9c" stroke-width="0.8"/>
<line x1="249.37" y1="251.43" x2="251.77" y2="251.43" stroke="#1f4b9c" stroke-width="0.8"/>
<rect x="249.12" y="246.65" width="2.9" height="2.9" fill="#1f4b9c"/>
<line x1="255.63" y1="262.65" x2="255.63" y2="266.65" stroke="#1f4b9c" stroke-width="0.8"/>
<line x1="254.43" y1="262.65" x2="256.83" y2="262.65" stroke="#1f4b9c" stroke-width="0.8"/>
<line x1="254.43" y1="266.65" x2="256.83" y2="266.65" stroke="#1f4b9c" stroke-width="0.8"/>
<rect x="254.18" y="263.20" width="2.9" height="2.9" fill="#1f4b9c"/>
<line x1="260.70" y1="281.55" x2="260.70" y2="285.55" stroke="#1f4b9c" stroke-width="0.8"/>
<line x1="259.50" y1="281.55" x2="261.90" y2="281.55" stroke="#1f4b9c" stroke-width="0.8"/>
<line x1="259.50" y1="285.55" x2="261.90" y2="285.55" stroke="#1f4b9c" stroke-width="0.8"/>
<rect x="259.25" y="282.10" width="2.9" height="2.9" fill="#1f4b9c"/>
<line x1="265.76" y1="291.54" x2="265.76" y2="294.20" stroke="#1f4b9c" stroke-width="0.8"/>
<line x1="264.56" y1="291.54" x2="266.96" y2="291.54" stroke="#1f4b9c" stroke-width="0.8"/>
<line x1="264.56" y1="294.20" x2="266.96" y2="294.20" stroke="#1f4b9c" stroke-width="0.8"/>
<rect x="264.31" y="291.42" width="2.9" height="2.9" fill="#1f4b9c"/>
<line x1="270.82" y1="294.80" x2="270.82" y2="297.47" stroke="#1f4b9c" stroke-width="0.8"/>
<line x1="269.62" y1="294.80" x2="272.02" y2="294.80" stroke="#1f4b9c" stroke-width="0.8"/>
<line x1="269.62" y1="297.47" x2="272.02" y2="297.47" stroke="#1f4b9c" stroke-width="0.8"/>
<rect x="269.37" y="294.69" width="2.9" height="2.9" fill="#1f4b9c"/>
<line x1="275.88" y1="296.36" x2="275.88" y2="299.03" stroke="#1f4b9c" stroke-width="0.8"/>
<line x1="274.68" y1="296.36" x2="277.08" y2="296.36" stroke="#1f4b9c" stroke-width="0.8"/>
<line x1="274.68" y1="299.03" x2="277.08" y2="299.03" stroke="#1f4b9c" stroke-width="0.8"/>
<rect x="274.43" y="296.24" width="2.9" height="2.9" fill="#1f4b9c"/>
<line x1="279.40" y1="221.90" x2="286.40" y2="221.90" stroke="#111111" stroke-width="0.7"/>
<circle cx="282.90" cy="221.90" r="1.45" fill="#111111"/>
<text x="288.60" y="223.50" font-size="4.4" fill="#151515" stroke="#151515" stroke-width="0.12">AZD5363 <tspan font-style="italic">K</tspan><tspan font-size="3" dy="1">d</tspan><tspan dy="-1"> = 16 ± 18 nmol/L</tspan></text>
<line x1="279.40" y1="233.30" x2="286.40" y2="233.30" stroke="#1f4b9c" stroke-width="0.7"/>
<rect x="281.45" y="231.85" width="2.9" height="2.9" fill="#1f4b9c"/>
<text x="288.60" y="234.90" font-size="4.4" fill="#151515" stroke="#151515" stroke-width="0.12">MS21 <tspan font-style="italic">K</tspan><tspan font-size="3" dy="1">d</tspan><tspan dy="-1"> = 360 ± 396 nmol/L</tspan></text>
<line x1="279.40" y1="243.50" x2="286.40" y2="243.50" stroke="#9a4a98" stroke-width="0.7"/>
<polygon points="282.90,241.76 284.50,244.66 281.30,244.66" fill="#9a4a98"/>
<text x="288.60" y="245.10" font-size="4.4" fill="#151515" stroke="#151515" stroke-width="0.12">MS21N1 <tspan font-style="italic">K</tspan><tspan font-size="3" dy="1">d</tspan><tspan dy="-1"> = 260 ± 374 nmol/L</tspan></text>
<line x1="279.40" y1="254.60" x2="286.40" y2="254.60" stroke="#55c2c5" stroke-width="0.7"/>
<polygon points="282.90,256.34 284.50,253.44 281.30,253.44" fill="#55c2c5"/>
<text x="288.60" y="256.20" font-size="4.4" fill="#151515" stroke="#151515" stroke-width="0.12">MS21N2 <tspan font-style="italic">K</tspan><tspan font-size="3" dy="1">d</tspan><tspan dy="-1"> &gt; 30 µmol/L</tspan></text>
<line x1="374.50" y1="217.60" x2="374.50" y2="299.20" stroke="#1a1a1a" stroke-width="1.0"/>
<line x1="374.00" y1="298.70" x2="460.40" y2="298.70" stroke="#1a1a1a" stroke-width="1.0"/>
<line x1="372.30" y1="298.70" x2="374.50" y2="298.70" stroke="#1a1a1a" stroke-width="0.8"/>
<text x="371.20" y="300.60" font-size="5.3" text-anchor="end" fill="#151515" stroke="#151515" stroke-width="0.16">0</text>
<line x1="372.30" y1="285.25" x2="374.50" y2="285.25" stroke="#1a1a1a" stroke-width="0.8"/>
<text x="371.20" y="287.15" font-size="5.3" text-anchor="end" fill="#151515" stroke="#151515" stroke-width="0.16">20</text>
<line x1="372.30" y1="271.80" x2="374.50" y2="271.80" stroke="#1a1a1a" stroke-width="0.8"/>
<text x="371.20" y="273.70" font-size="5.3" text-anchor="end" fill="#151515" stroke="#151515" stroke-width="0.16">40</text>
<line x1="372.30" y1="258.35" x2="374.50" y2="258.35" stroke="#1a1a1a" stroke-width="0.8"/>
<text x="371.20" y="260.25" font-size="5.3" text-anchor="end" fill="#151515" stroke="#151515" stroke-width="0.16">60</text>
<line x1="372.30" y1="244.90" x2="374.50" y2="244.90" stroke="#1a1a1a" stroke-width="0.8"/>
<text x="371.20" y="246.80" font-size="5.3" text-anchor="end" fill="#151515" stroke="#151515" stroke-width="0.16">80</text>
<line x1="372.30" y1="231.45" x2="374.50" y2="231.45" stroke="#1a1a1a" stroke-width="0.8"/>
<text x="371.20" y="233.35" font-size="5.3" text-anchor="end" fill="#151515" stroke="#151515" stroke-width="0.16">100</text>
<line x1="372.30" y1="218.00" x2="374.50" y2="218.00" stroke="#1a1a1a" stroke-width="0.8"/>
<text x="371.20" y="219.90" font-size="5.3" text-anchor="end" fill="#151515" stroke="#151515" stroke-width="0.16">120</text>
<line x1="374.50" y1="298.70" x2="374.50" y2="301.10" stroke="#1a1a1a" stroke-width="0.8"/>
<text x="373.00" y="309.00" font-size="5.4" text-anchor="middle" fill="#151515" stroke="#151515" stroke-width="0.16">–12</text>
<line x1="395.88" y1="298.70" x2="395.88" y2="301.10" stroke="#1a1a1a" stroke-width="0.8"/>
<text x="394.38" y="309.00" font-size="5.4" text-anchor="middle" fill="#151515" stroke="#151515" stroke-width="0.16">–10</text>
<line x1="417.25" y1="298.70" x2="417.25" y2="301.10" stroke="#1a1a1a" stroke-width="0.8"/>
<text x="415.75" y="309.00" font-size="5.4" text-anchor="middle" fill="#151515" stroke="#151515" stroke-width="0.16">–8</text>
<line x1="438.62" y1="298.70" x2="438.62" y2="301.10" stroke="#1a1a1a" stroke-width="0.8"/>
<text x="437.12" y="309.00" font-size="5.4" text-anchor="middle" fill="#151515" stroke="#151515" stroke-width="0.16">–6</text>
<line x1="460.00" y1="298.70" x2="460.00" y2="301.10" stroke="#1a1a1a" stroke-width="0.8"/>
<text x="458.50" y="309.00" font-size="5.4" text-anchor="middle" fill="#151515" stroke="#151515" stroke-width="0.16">–4</text>
<text x="417.75" y="318.60" font-size="5.4" text-anchor="middle" fill="#151515" stroke="#151515" stroke-width="0.16">Log (compound concentration/mol/L)</text>
<text x="358.50" y="258.65" font-size="5.5" text-anchor="middle" fill="#151515" stroke="#151515" stroke-width="0.16" transform="rotate(-90 358.50 258.65)">qPCR signal (%)</text>
<text x="415.60" y="217.00" font-size="6.8" text-anchor="middle" fill="#151515" stroke="#151515" stroke-width="0.20">AKT3</text>
<polyline points="381.98,236.16 382.90,236.16 383.81,236.16 384.73,236.16 385.64,236.16 386.56,236.16 387.47,236.17 388.39,236.17 389.30,236.17 390.22,236.17 391.13,236.17 392.05,236.17 392.96,236.18 393.88,236.18 394.79,236.18 395.71,236.18 396.62,236.19 397.54,236.19 398.45,236.20 399.37,236.20 400.28,236.21 401.20,236.21 402.11,236.22 403.03,236.23 403.94,236.24 404.86,236.25 405.77,236.27 406.69,236.28 407.60,236.30 408.52,236.32 409.43,236.34 410.35,236.36 411.26,236.39 412.18,236.42 413.10,236.46 414.01,236.50 414.93,236.54 415.84,236.60 416.76,236.66 417.67,236.72 418.59,236.80 419.50,236.89 420.42,236.99 421.33,237.10 422.25,237.22 423.16,237.36 424.08,237.53 424.99,237.71 425.91,237.91 426.82,238.14 427.74,238.41 428.65,238.70 429.57,239.03 430.48,239.40 431.40,239.81 432.31,240.27 433.23,240.79 434.14,241.37 435.06,242.00 435.97,242.71 436.89,243.49 437.80,244.34 438.72,245.28 439.63,246.30 440.55,247.40 441.46,248.60 442.38,249.88 443.29,251.25 444.21,252.70 445.12,254.23 446.04,255.83 446.95,257.50 447.87,259.21 448.78,260.96 449.70,262.74 450.62,264.52 451.53,266.31 452.45,268.07 453.36,269.81 454.28,271.49 455.19,273.12" fill="none" stroke="#55c2c5" stroke-width="1.05"/>
<line x1="382.52" y1="234.82" x2="382.52" y2="237.51" stroke="#55c2c5" stroke-width="0.8"/>
<line x1="381.32" y1="234.82" x2="383.72" y2="234.82" stroke="#55c2c5" stroke-width="0.8"/>
<line x1="381.32" y1="237.51" x2="383.72" y2="237.51" stroke="#55c2c5" stroke-width="0.8"/>
<polygon points="382.52,237.90 384.11,235.00 380.92,235.00" fill="#55c2c5"/>
<line x1="403.46" y1="234.22" x2="403.46" y2="238.25" stroke="#55c2c5" stroke-width="0.8"/>
<line x1="402.26" y1="234.22" x2="404.66" y2="234.22" stroke="#55c2c5" stroke-width="0.8"/>
<line x1="402.26" y1="238.25" x2="404.66" y2="238.25" stroke="#55c2c5" stroke-width="0.8"/>
<polygon points="403.46,237.98 405.06,235.08 401.87,235.08" fill="#55c2c5"/>
<line x1="408.56" y1="234.30" x2="408.56" y2="238.33" stroke="#55c2c5" stroke-width="0.8"/>
<line x1="407.36" y1="234.30" x2="409.76" y2="234.30" stroke="#55c2c5" stroke-width="0.8"/>
<line x1="407.36" y1="238.33" x2="409.76" y2="238.33" stroke="#55c2c5" stroke-width="0.8"/>
<polygon points="408.56,238.06 410.16,235.16 406.97,235.16" fill="#55c2c5"/>
<line x1="413.66" y1="233.79" x2="413.66" y2="239.17" stroke="#55c2c5" stroke-width="0.8"/>
<line x1="412.46" y1="233.79" x2="414.86" y2="233.79" stroke="#55c2c5" stroke-width="0.8"/>
<line x1="412.46" y1="239.17" x2="414.86" y2="239.17" stroke="#55c2c5" stroke-width="0.8"/>
<polygon points="413.66,238.22 415.25,235.32 412.06,235.32" fill="#55c2c5"/>
<line x1="418.76" y1="229.42" x2="418.76" y2="233.45" stroke="#55c2c5" stroke-width="0.8"/>
<line x1="417.56" y1="229.42" x2="419.96" y2="229.42" stroke="#55c2c5" stroke-width="0.8"/>
<line x1="417.56" y1="233.45" x2="419.96" y2="233.45" stroke="#55c2c5" stroke-width="0.8"/>
<polygon points="418.76,233.18 420.35,230.28 417.16,230.28" fill="#55c2c5"/>
<line x1="423.85" y1="233.45" x2="423.85" y2="237.48" stroke="#55c2c5" stroke-width="0.8"/>
<line x1="422.65" y1="233.45" x2="425.05" y2="233.45" stroke="#55c2c5" stroke-width="0.8"/>
<line x1="422.65" y1="237.48" x2="425.05" y2="237.48" stroke="#55c2c5" stroke-width="0.8"/>
<polygon points="423.85,237.21 425.45,234.31 422.26,234.31" fill="#55c2c5"/>
<line x1="428.95" y1="236.11" x2="428.95" y2="258.98" stroke="#55c2c5" stroke-width="0.8"/>
<line x1="427.75" y1="236.11" x2="430.15" y2="236.11" stroke="#55c2c5" stroke-width="0.8"/>
<line x1="427.75" y1="258.98" x2="430.15" y2="258.98" stroke="#55c2c5" stroke-width="0.8"/>
<polygon points="428.95,249.29 430.55,246.39 427.36,246.39" fill="#55c2c5"/>
<line x1="434.05" y1="233.57" x2="434.05" y2="235.59" stroke="#55c2c5" stroke-width="0.8"/>
<line x1="432.85" y1="233.57" x2="435.25" y2="233.57" stroke="#55c2c5" stroke-width="0.8"/>
<line x1="432.85" y1="235.59" x2="435.25" y2="235.59" stroke="#55c2c5" stroke-width="0.8"/>
<polygon points="434.05,236.32 435.65,233.42 432.46,233.42" fill="#55c2c5"/>
<line x1="439.15" y1="239.02" x2="439.15" y2="252.47" stroke="#55c2c5" stroke-width="0.8"/>
<line x1="437.95" y1="239.02" x2="440.35" y2="239.02" stroke="#55c2c5" stroke-width="0.8"/>
<line x1="437.95" y1="252.47" x2="440.35" y2="252.47" stroke="#55c2c5" stroke-width="0.8"/>
<polygon points="439.15,247.49 440.74,244.59 437.55,244.59" fill="#55c2c5"/>
<line x1="444.25" y1="251.42" x2="444.25" y2="256.80" stroke="#55c2c5" stroke-width="0.8"/>
<line x1="443.05" y1="251.42" x2="445.45" y2="251.42" stroke="#55c2c5" stroke-width="0.8"/>
<line x1="443.05" y1="256.80" x2="445.45" y2="256.80" stroke="#55c2c5" stroke-width="0.8"/>
<polygon points="444.25,255.85 445.84,252.95 442.65,252.95" fill="#55c2c5"/>
<line x1="449.34" y1="260.70" x2="449.34" y2="264.73" stroke="#55c2c5" stroke-width="0.8"/>
<line x1="448.14" y1="260.70" x2="450.54" y2="260.70" stroke="#55c2c5" stroke-width="0.8"/>
<line x1="448.14" y1="264.73" x2="450.54" y2="264.73" stroke="#55c2c5" stroke-width="0.8"/>
<polygon points="449.34,264.46 450.94,261.56 447.75,261.56" fill="#55c2c5"/>
<line x1="454.44" y1="270.45" x2="454.44" y2="273.14" stroke="#55c2c5" stroke-width="0.8"/>
<line x1="453.24" y1="270.45" x2="455.64" y2="270.45" stroke="#55c2c5" stroke-width="0.8"/>
<line x1="453.24" y1="273.14" x2="455.64" y2="273.14" stroke="#55c2c5" stroke-width="0.8"/>
<polygon points="454.44,273.54 456.04,270.64 452.85,270.64" fill="#55c2c5"/>
<polyline points="381.98,236.16 382.90,236.16 383.81,236.16 384.73,236.16 385.64,236.16 386.56,236.16 387.47,236.16 388.39,236.17 389.30,236.17 390.22,236.17 391.13,236.17 392.05,236.18 392.96,236.19 393.88,236.19 394.79,236.20 395.71,236.22 396.62,236.23 397.54,236.25 398.45,236.28 399.37,236.31 400.28,236.36 401.20,236.41 402.11,236.48 403.03,236.57 403.94,236.69 404.86,236.84 405.77,237.03 406.69,237.26 407.60,237.57 408.52,237.95 409.43,238.43 410.35,239.03 411.26,239.79 412.18,240.73 413.10,241.89 414.01,243.30 414.93,245.01 415.84,247.04 416.76,249.43 417.67,252.16 418.59,255.24 419.50,258.62 420.42,262.22 421.33,265.96 422.25,269.72 423.16,273.39 424.08,276.87 424.99,280.09 425.91,282.97 426.82,285.50 427.74,287.68 428.65,289.53 429.57,291.06 430.48,292.32 431.40,293.35 432.31,294.18 433.23,294.84 434.14,295.37 435.06,295.80 435.97,296.13 436.89,296.39 437.80,296.60 438.72,296.76 439.63,296.89 440.55,296.99 441.46,297.07 442.38,297.13 443.29,297.18 444.21,297.22 445.12,297.25 446.04,297.27 446.95,297.29 447.87,297.30 448.78,297.32 449.70,297.32 450.62,297.33 451.53,297.34 452.45,297.34 453.36,297.34 454.28,297.35 455.19,297.35" fill="none" stroke="#9a4a98" stroke-width="1.05"/>
<line x1="382.52" y1="234.81" x2="382.52" y2="237.50" stroke="#9a4a98" stroke-width="0.8"/>
<line x1="381.32" y1="234.81" x2="383.72" y2="234.81" stroke="#9a4a98" stroke-width="0.8"/>
<line x1="381.32" y1="237.50" x2="383.72" y2="237.50" stroke="#9a4a98" stroke-width="0.8"/>
<polygon points="382.52,234.42 384.11,237.32 380.92,237.32" fill="#9a4a98"/>
<line x1="403.46" y1="231.92" x2="403.46" y2="244.02" stroke="#9a4a98" stroke-width="0.8"/>
<line x1="402.26" y1="231.92" x2="404.66" y2="231.92" stroke="#9a4a98" stroke-width="0.8"/>
<line x1="402.26" y1="244.02" x2="404.66" y2="244.02" stroke="#9a4a98" stroke-width="0.8"/>
<polygon points="403.46,236.23 405.06,239.13 401.87,239.13" fill="#9a4a98"/>
<line x1="408.56" y1="235.95" x2="408.56" y2="239.98" stroke="#9a4a98" stroke-width="0.8"/>
<line x1="407.36" y1="235.95" x2="409.76" y2="235.95" stroke="#9a4a98" stroke-width="0.8"/>
<line x1="407.36" y1="239.98" x2="409.76" y2="239.98" stroke="#9a4a98" stroke-width="0.8"/>
<polygon points="408.56,236.23 410.16,239.13 406.97,239.13" fill="#9a4a98"/>
<line x1="413.66" y1="242.05" x2="413.66" y2="246.09" stroke="#9a4a98" stroke-width="0.8"/>
<line x1="412.46" y1="242.05" x2="414.86" y2="242.05" stroke="#9a4a98" stroke-width="0.8"/>
<line x1="412.46" y1="246.09" x2="414.86" y2="246.09" stroke="#9a4a98" stroke-width="0.8"/>
<polygon points="413.66,242.33 415.25,245.23 412.06,245.23" fill="#9a4a98"/>
<line x1="418.76" y1="253.83" x2="418.76" y2="257.87" stroke="#9a4a98" stroke-width="0.8"/>
<line x1="417.56" y1="253.83" x2="419.96" y2="253.83" stroke="#9a4a98" stroke-width="0.8"/>
<line x1="417.56" y1="257.87" x2="419.96" y2="257.87" stroke="#9a4a98" stroke-width="0.8"/>
<polygon points="418.76,254.11 420.35,257.01 417.16,257.01" fill="#9a4a98"/>
<line x1="423.85" y1="274.04" x2="423.85" y2="278.07" stroke="#9a4a98" stroke-width="0.8"/>
<line x1="422.65" y1="274.04" x2="425.05" y2="274.04" stroke="#9a4a98" stroke-width="0.8"/>
<line x1="422.65" y1="278.07" x2="425.05" y2="278.07" stroke="#9a4a98" stroke-width="0.8"/>
<polygon points="423.85,274.31 425.45,277.21 422.26,277.21" fill="#9a4a98"/>
<line x1="428.95" y1="288.04" x2="428.95" y2="292.08" stroke="#9a4a98" stroke-width="0.8"/>
<line x1="427.75" y1="288.04" x2="430.15" y2="288.04" stroke="#9a4a98" stroke-width="0.8"/>
<line x1="427.75" y1="292.08" x2="430.15" y2="292.08" stroke="#9a4a98" stroke-width="0.8"/>
<polygon points="428.95,288.32 430.55,291.22 427.36,291.22" fill="#9a4a98"/>
<line x1="434.05" y1="293.98" x2="434.05" y2="296.67" stroke="#9a4a98" stroke-width="0.8"/>
<line x1="432.85" y1="293.98" x2="435.25" y2="293.98" stroke="#9a4a98" stroke-width="0.8"/>
<line x1="432.85" y1="296.67" x2="435.25" y2="296.67" stroke="#9a4a98" stroke-width="0.8"/>
<polygon points="434.05,293.59 435.65,296.49 432.46,296.49" fill="#9a4a98"/>
<line x1="439.15" y1="295.48" x2="439.15" y2="298.17" stroke="#9a4a98" stroke-width="0.8"/>
<line x1="437.95" y1="295.48" x2="440.35" y2="295.48" stroke="#9a4a98" stroke-width="0.8"/>
<line x1="437.95" y1="298.17" x2="440.35" y2="298.17" stroke="#9a4a98" stroke-width="0.8"/>
<polygon points="439.15,295.09 440.74,297.99 437.55,297.99" fill="#9a4a98"/>
<line x1="444.25" y1="295.20" x2="444.25" y2="297.89" stroke="#9a4a98" stroke-width="0.8"/>
<line x1="443.05" y1="295.20" x2="445.45" y2="295.20" stroke="#9a4a98" stroke-width="0.8"/>
<line x1="443.05" y1="297.89" x2="445.45" y2="297.89" stroke="#9a4a98" stroke-width="0.8"/>
<polygon points="444.25,294.81 445.84,297.71 442.65,297.71" fill="#9a4a98"/>
<line x1="449.34" y1="296.31" x2="449.34" y2="298.33" stroke="#9a4a98" stroke-width="0.8"/>
<line x1="448.14" y1="296.31" x2="450.54" y2="296.31" stroke="#9a4a98" stroke-width="0.8"/>
<line x1="448.14" y1="298.33" x2="450.54" y2="298.33" stroke="#9a4a98" stroke-width="0.8"/>
<polygon points="449.34,295.58 450.94,298.48 447.75,298.48" fill="#9a4a98"/>
<line x1="454.44" y1="296.67" x2="454.44" y2="298.02" stroke="#9a4a98" stroke-width="0.8"/>
<line x1="453.24" y1="296.67" x2="455.64" y2="296.67" stroke="#9a4a98" stroke-width="0.8"/>
<line x1="453.24" y1="298.02" x2="455.64" y2="298.02" stroke="#9a4a98" stroke-width="0.8"/>
<polygon points="454.44,295.61 456.04,298.51 452.85,298.51" fill="#9a4a98"/>
<polyline points="381.98,232.16 382.90,232.16 383.81,232.17 384.73,232.19 385.64,232.20 386.56,232.22 387.47,232.24 388.39,232.27 389.30,232.31 390.22,232.35 391.13,232.41 392.05,232.48 392.96,232.57 393.88,232.67 394.79,232.80 395.71,232.97 396.62,233.17 397.54,233.42 398.45,233.72 399.37,234.10 400.28,234.56 401.20,235.12 402.11,235.80 403.03,236.64 403.94,237.64 404.86,238.84 405.77,240.26 406.69,241.94 407.60,243.89 408.52,246.14 409.43,248.68 410.35,251.51 411.26,254.60 412.18,257.91 413.10,261.39 414.01,264.94 414.93,268.51 415.84,271.99 416.76,275.31 417.67,278.43 418.59,281.28 419.50,283.84 420.42,286.10 421.33,288.08 422.25,289.78 423.16,291.22 424.08,292.43 424.99,293.45 425.91,294.29 426.82,294.99 427.74,295.56 428.65,296.02 429.57,296.40 430.48,296.71 431.40,296.97 432.31,297.17 433.23,297.34 434.14,297.47 435.06,297.58 435.97,297.66 436.89,297.74 437.80,297.79 438.72,297.84 439.63,297.87 440.55,297.90 441.46,297.93 442.38,297.95 443.29,297.96 444.21,297.98 445.12,297.99 446.04,297.99 446.95,298.00 447.87,298.01 448.78,298.01 449.70,298.01 450.62,298.02 451.53,298.02 452.45,298.02 453.36,298.02 454.28,298.02 455.19,298.02" fill="none" stroke="#111111" stroke-width="1.05"/>
<line x1="382.52" y1="230.14" x2="382.52" y2="232.83" stroke="#111111" stroke-width="0.8"/>
<line x1="381.32" y1="230.14" x2="383.72" y2="230.14" stroke="#111111" stroke-width="0.8"/>
<line x1="381.32" y1="232.83" x2="383.72" y2="232.83" stroke="#111111" stroke-width="0.8"/>
<circle cx="382.52" cy="231.49" r="1.45" fill="#111111"/>
<line x1="403.46" y1="235.74" x2="403.46" y2="238.43" stroke="#111111" stroke-width="0.8"/>
<line x1="402.26" y1="235.74" x2="404.66" y2="235.74" stroke="#111111" stroke-width="0.8"/>
<line x1="402.26" y1="238.43" x2="404.66" y2="238.43" stroke="#111111" stroke-width="0.8"/>
<circle cx="403.46" cy="237.09" r="1.45" fill="#111111"/>
<line x1="408.56" y1="244.90" x2="408.56" y2="258.35" stroke="#111111" stroke-width="0.8"/>
<line x1="407.36" y1="244.90" x2="409.76" y2="244.90" stroke="#111111" stroke-width="0.8"/>
<line x1="407.36" y1="258.35" x2="409.76" y2="258.35" stroke="#111111" stroke-width="0.8"/>
<circle cx="408.56" cy="251.62" r="1.45" fill="#111111"/>
<line x1="413.66" y1="262.23" x2="413.66" y2="264.92" stroke="#111111" stroke-width="0.8"/>
<line x1="412.46" y1="262.23" x2="414.86" y2="262.23" stroke="#111111" stroke-width="0.8"/>
<line x1="412.46" y1="264.92" x2="414.86" y2="264.92" stroke="#111111" stroke-width="0.8"/>
<circle cx="413.66" cy="263.57" r="1.45" fill="#111111"/>
<line x1="418.76" y1="280.77" x2="418.76" y2="282.79" stroke="#111111" stroke-width="0.8"/>
<line x1="417.56" y1="280.77" x2="419.96" y2="280.77" stroke="#111111" stroke-width="0.8"/>
<line x1="417.56" y1="282.79" x2="419.96" y2="282.79" stroke="#111111" stroke-width="0.8"/>
<circle cx="418.76" cy="281.78" r="1.45" fill="#111111"/>
<line x1="423.85" y1="293.17" x2="423.85" y2="295.18" stroke="#111111" stroke-width="0.8"/>
<line x1="422.65" y1="293.17" x2="425.05" y2="293.17" stroke="#111111" stroke-width="0.8"/>
<line x1="422.65" y1="295.18" x2="425.05" y2="295.18" stroke="#111111" stroke-width="0.8"/>
<circle cx="423.85" cy="294.18" r="1.45" fill="#111111"/>
<line x1="428.95" y1="295.48" x2="428.95" y2="296.83" stroke="#111111" stroke-width="0.8"/>
<line x1="427.75" y1="295.48" x2="430.15" y2="295.48" stroke="#111111" stroke-width="0.8"/>
<line x1="427.75" y1="296.83" x2="430.15" y2="296.83" stroke="#111111" stroke-width="0.8"/>
<circle cx="428.95" cy="296.16" r="1.45" fill="#111111"/>
<line x1="434.05" y1="296.78" x2="434.05" y2="298.13" stroke="#111111" stroke-width="0.8"/>
<line x1="432.85" y1="296.78" x2="435.25" y2="296.78" stroke="#111111" stroke-width="0.8"/>
<line x1="432.85" y1="298.13" x2="435.25" y2="298.13" stroke="#111111" stroke-width="0.8"/>
<circle cx="434.05" cy="297.46" r="1.45" fill="#111111"/>
<line x1="439.15" y1="297.18" x2="439.15" y2="298.53" stroke="#111111" stroke-width="0.8"/>
<line x1="437.95" y1="297.18" x2="440.35" y2="297.18" stroke="#111111" stroke-width="0.8"/>
<line x1="437.95" y1="298.53" x2="440.35" y2="298.53" stroke="#111111" stroke-width="0.8"/>
<circle cx="439.15" cy="297.86" r="1.45" fill="#111111"/>
<line x1="444.25" y1="296.29" x2="444.25" y2="298.31" stroke="#111111" stroke-width="0.8"/>
<line x1="443.05" y1="296.29" x2="445.45" y2="296.29" stroke="#111111" stroke-width="0.8"/>
<line x1="443.05" y1="298.31" x2="445.45" y2="298.31" stroke="#111111" stroke-width="0.8"/>
<circle cx="444.25" cy="297.30" r="1.45" fill="#111111"/>
<line x1="449.34" y1="297.34" x2="449.34" y2="298.68" stroke="#111111" stroke-width="0.8"/>
<line x1="448.14" y1="297.34" x2="450.54" y2="297.34" stroke="#111111" stroke-width="0.8"/>
<line x1="448.14" y1="298.68" x2="450.54" y2="298.68" stroke="#111111" stroke-width="0.8"/>
<circle cx="449.34" cy="298.01" r="1.45" fill="#111111"/>
<line x1="454.44" y1="297.35" x2="454.44" y2="298.70" stroke="#111111" stroke-width="0.8"/>
<line x1="453.24" y1="297.35" x2="455.64" y2="297.35" stroke="#111111" stroke-width="0.8"/>
<line x1="453.24" y1="298.70" x2="455.64" y2="298.70" stroke="#111111" stroke-width="0.8"/>
<circle cx="454.44" cy="298.02" r="1.45" fill="#111111"/>
<polyline points="381.98,236.83 382.90,236.83 383.81,236.83 384.73,236.83 385.64,236.83 386.56,236.83 387.47,236.83 388.39,236.83 389.30,236.83 390.22,236.83 391.13,236.83 392.05,236.83 392.96,236.83 393.88,236.83 394.79,236.83 395.71,236.83 396.62,236.83 397.54,236.83 398.45,236.83 399.37,236.84 400.28,236.84 401.20,236.84 402.11,236.85 403.03,236.86 403.94,236.87 404.86,236.88 405.77,236.90 406.69,236.93 407.60,236.97 408.52,237.02 409.43,237.10 410.35,237.21 411.26,237.36 412.18,237.56 413.10,237.85 414.01,238.25 414.93,238.79 415.84,239.54 416.76,240.55 417.67,241.91 418.59,243.70 419.50,246.02 420.42,248.95 421.33,252.52 422.25,256.72 423.16,261.42 424.08,266.43 424.99,271.47 425.91,276.27 426.82,280.61 427.74,284.36 428.65,287.45 429.57,289.93 430.48,291.85 431.40,293.31 432.31,294.41 433.23,295.22 434.14,295.81 435.06,296.24 435.97,296.56 436.89,296.78 437.80,296.94 438.72,297.06 439.63,297.14 440.55,297.20 441.46,297.25 442.38,297.28 443.29,297.30 444.21,297.32 445.12,297.33 446.04,297.33 446.95,297.34 447.87,297.34 448.78,297.35 449.70,297.35 450.62,297.35 451.53,297.35 452.45,297.35 453.36,297.35 454.28,297.35 455.19,297.35" fill="none" stroke="#1f4b9c" stroke-width="1.05"/>
<line x1="382.52" y1="235.49" x2="382.52" y2="238.18" stroke="#1f4b9c" stroke-width="0.8"/>
<line x1="381.32" y1="235.49" x2="383.72" y2="235.49" stroke="#1f4b9c" stroke-width="0.8"/>
<line x1="381.32" y1="238.18" x2="383.72" y2="238.18" stroke="#1f4b9c" stroke-width="0.8"/>
<rect x="381.07" y="235.38" width="2.9" height="2.9" fill="#1f4b9c"/>
<line x1="403.46" y1="230.81" x2="403.46" y2="246.95" stroke="#1f4b9c" stroke-width="0.8"/>
<line x1="402.26" y1="230.81" x2="404.66" y2="230.81" stroke="#1f4b9c" stroke-width="0.8"/>
<line x1="402.26" y1="246.95" x2="404.66" y2="246.95" stroke="#1f4b9c" stroke-width="0.8"/>
<rect x="402.01" y="237.43" width="2.9" height="2.9" fill="#1f4b9c"/>
<line x1="408.56" y1="233.66" x2="408.56" y2="244.42" stroke="#1f4b9c" stroke-width="0.8"/>
<line x1="407.36" y1="233.66" x2="409.76" y2="233.66" stroke="#1f4b9c" stroke-width="0.8"/>
<line x1="407.36" y1="244.42" x2="409.76" y2="244.42" stroke="#1f4b9c" stroke-width="0.8"/>
<rect x="407.11" y="237.59" width="2.9" height="2.9" fill="#1f4b9c"/>
<line x1="413.66" y1="233.37" x2="413.66" y2="242.79" stroke="#1f4b9c" stroke-width="0.8"/>
<line x1="412.46" y1="233.37" x2="414.86" y2="233.37" stroke="#1f4b9c" stroke-width="0.8"/>
<line x1="412.46" y1="242.79" x2="414.86" y2="242.79" stroke="#1f4b9c" stroke-width="0.8"/>
<rect x="412.21" y="236.63" width="2.9" height="2.9" fill="#1f4b9c"/>
<line x1="418.76" y1="242.08" x2="418.76" y2="248.80" stroke="#1f4b9c" stroke-width="0.8"/>
<line x1="417.56" y1="242.08" x2="419.96" y2="242.08" stroke="#1f4b9c" stroke-width="0.8"/>
<line x1="417.56" y1="248.80" x2="419.96" y2="248.80" stroke="#1f4b9c" stroke-width="0.8"/>
<rect x="417.31" y="243.99" width="2.9" height="2.9" fill="#1f4b9c"/>
<line x1="423.85" y1="261.84" x2="423.85" y2="268.56" stroke="#1f4b9c" stroke-width="0.8"/>
<line x1="422.65" y1="261.84" x2="425.05" y2="261.84" stroke="#1f4b9c" stroke-width="0.8"/>
<line x1="422.65" y1="268.56" x2="425.05" y2="268.56" stroke="#1f4b9c" stroke-width="0.8"/>
<rect x="422.40" y="263.75" width="2.9" height="2.9" fill="#1f4b9c"/>
<line x1="428.95" y1="286.31" x2="428.95" y2="290.35" stroke="#1f4b9c" stroke-width="0.8"/>
<line x1="427.75" y1="286.31" x2="430.15" y2="286.31" stroke="#1f4b9c" stroke-width="0.8"/>
<line x1="427.75" y1="290.35" x2="430.15" y2="290.35" stroke="#1f4b9c" stroke-width="0.8"/>
<rect x="427.50" y="286.88" width="2.9" height="2.9" fill="#1f4b9c"/>
<line x1="434.05" y1="294.41" x2="434.05" y2="297.10" stroke="#1f4b9c" stroke-width="0.8"/>
<line x1="432.85" y1="294.41" x2="435.25" y2="294.41" stroke="#1f4b9c" stroke-width="0.8"/>
<line x1="432.85" y1="297.10" x2="435.25" y2="297.10" stroke="#1f4b9c" stroke-width="0.8"/>
<rect x="432.60" y="294.31" width="2.9" height="2.9" fill="#1f4b9c"/>
<line x1="439.15" y1="295.76" x2="439.15" y2="298.45" stroke="#1f4b9c" stroke-width="0.8"/>
<line x1="437.95" y1="295.76" x2="440.35" y2="295.76" stroke="#1f4b9c" stroke-width="0.8"/>
<line x1="437.95" y1="298.45" x2="440.35" y2="298.45" stroke="#1f4b9c" stroke-width="0.8"/>
<rect x="437.70" y="295.65" width="2.9" height="2.9" fill="#1f4b9c"/>
<line x1="444.25" y1="295.30" x2="444.25" y2="297.99" stroke="#1f4b9c" stroke-width="0.8"/>
<line x1="443.05" y1="295.30" x2="445.45" y2="295.30" stroke="#1f4b9c" stroke-width="0.8"/>
<line x1="443.05" y1="297.99" x2="445.45" y2="297.99" stroke="#1f4b9c" stroke-width="0.8"/>
<rect x="442.80" y="295.19" width="2.9" height="2.9" fill="#1f4b9c"/>
<line x1="449.34" y1="295.67" x2="449.34" y2="297.69" stroke="#1f4b9c" stroke-width="0.8"/>
<line x1="448.14" y1="295.67" x2="450.54" y2="295.67" stroke="#1f4b9c" stroke-width="0.8"/>
<line x1="448.14" y1="297.69" x2="450.54" y2="297.69" stroke="#1f4b9c" stroke-width="0.8"/>
<rect x="447.89" y="295.23" width="2.9" height="2.9" fill="#1f4b9c"/>
<line x1="454.44" y1="296.68" x2="454.44" y2="298.03" stroke="#1f4b9c" stroke-width="0.8"/>
<line x1="453.24" y1="296.68" x2="455.64" y2="296.68" stroke="#1f4b9c" stroke-width="0.8"/>
<line x1="453.24" y1="298.03" x2="455.64" y2="298.03" stroke="#1f4b9c" stroke-width="0.8"/>
<rect x="452.99" y="295.90" width="2.9" height="2.9" fill="#1f4b9c"/>
<line x1="450.30" y1="219.90" x2="457.30" y2="219.90" stroke="#111111" stroke-width="0.7"/>
<circle cx="453.80" cy="219.90" r="1.45" fill="#111111"/>
<text x="459.50" y="221.50" font-size="4.4" fill="#151515" stroke="#151515" stroke-width="0.12">AZD5363 <tspan font-style="italic">K</tspan><tspan font-size="3" dy="1">d</tspan><tspan dy="-1"> = 4.8 ± 4.6 nmol/L</tspan></text>
<line x1="450.30" y1="230.40" x2="457.30" y2="230.40" stroke="#1f4b9c" stroke-width="0.7"/>
<rect x="452.35" y="228.95" width="2.9" height="2.9" fill="#1f4b9c"/>
<text x="459.50" y="232.00" font-size="4.4" fill="#151515" stroke="#151515" stroke-width="0.12">MS21 <tspan font-style="italic">K</tspan><tspan font-size="3" dy="1">d</tspan><tspan dy="-1"> = 46 ± 43 nmol/L</tspan></text>
<line x1="450.30" y1="241.90" x2="457.30" y2="241.90" stroke="#9a4a98" stroke-width="0.7"/>
<polygon points="453.80,240.16 455.40,243.06 452.20,243.06" fill="#9a4a98"/>
<text x="459.50" y="243.50" font-size="4.4" fill="#151515" stroke="#151515" stroke-width="0.12">MS21N1 <tspan font-style="italic">K</tspan><tspan font-size="3" dy="1">d</tspan><tspan dy="-1"> = 24 ± 26 nmol/L</tspan></text>
<line x1="450.30" y1="251.90" x2="457.30" y2="251.90" stroke="#55c2c5" stroke-width="0.7"/>
<polygon points="453.80,253.64 455.40,250.74 452.20,250.74" fill="#55c2c5"/>
<text x="459.50" y="253.50" font-size="4.4" fill="#151515" stroke="#151515" stroke-width="0.12">MS21N2 <tspan font-style="italic">K</tspan><tspan font-size="3" dy="1">d</tspan><tspan dy="-1"> = 11 ± 6.5 µmol/L</tspan></text>
<text x="-0.40" y="357.60" font-size="10.3" fill="#111" stroke="#111" stroke-width="0.31" font-weight="bold">D</text>
<text x="61.20" y="396.90" font-size="7.8" text-anchor="end" fill="#151515" stroke="#151515" stroke-width="0.23">T-AKT</text>
<text x="61.20" y="419.90" font-size="7.8" text-anchor="end" fill="#151515" stroke="#151515" stroke-width="0.23">pPRAS40 (T246)</text>
<text x="61.20" y="437.80" font-size="7.8" text-anchor="end" fill="#151515" stroke="#151515" stroke-width="0.23">T-PRAS40</text>
<text x="61.20" y="461.50" font-size="7.8" text-anchor="end" fill="#151515" stroke="#151515" stroke-width="0.23">pS6 (S240/244)</text>
<text x="61.20" y="480.40" font-size="7.8" text-anchor="end" fill="#151515" stroke="#151515" stroke-width="0.23">T-S6</text>
<text x="61.20" y="499.60" font-size="7.8" text-anchor="end" fill="#151515" stroke="#151515" stroke-width="0.23">β-Actin</text>
<clipPath id="cp3"><rect x="65.00" y="383.80" width="205.80" height="18.60"/></clipPath>
<g clip-path="url(#cp3)">
<rect x="65.00" y="383.80" width="205.80" height="18.60" fill="#b3b3b3"/>
<rect x="184.50" y="383.80" width="86.00" height="18.60" fill="#b9b9b9"/>
<rect x="66.30" y="391.75" width="14.61" height="2.30" rx="1.15" fill="#0a0a0a" opacity="0.95" filter="url(#b1)"/>
<rect x="80.91" y="391.75" width="14.61" height="2.30" rx="1.15" fill="#0a0a0a" opacity="0.95" filter="url(#b1)"/>
<rect x="96.24" y="392.05" width="13.15" height="1.70" rx="0.85" fill="#0a0a0a" opacity="0.8" filter="url(#b1)"/>
<rect x="110.49" y="391.95" width="13.88" height="1.90" rx="0.95" fill="#0a0a0a" opacity="0.9" filter="url(#b1)"/>
<rect x="125.09" y="391.95" width="13.88" height="1.90" rx="0.95" fill="#0a0a0a" opacity="0.9" filter="url(#b1)"/>
<rect x="139.92" y="392.00" width="13.44" height="1.80" rx="0.90" fill="#0a0a0a" opacity="0.85" filter="url(#b1)"/>
<rect x="154.53" y="392.00" width="13.44" height="1.80" rx="0.90" fill="#0a0a0a" opacity="0.85" filter="url(#b1)"/>
<rect x="168.92" y="391.95" width="13.88" height="1.90" rx="0.95" fill="#0a0a0a" opacity="0.9" filter="url(#b1)"/>
<rect x="183.30" y="392.35" width="14.31" height="1.90" rx="0.95" fill="#0a0a0a" opacity="0.82" filter="url(#b1)"/>
<rect x="198.49" y="392.50" width="13.15" height="1.60" rx="0.80" fill="#0a0a0a" opacity="0.55" filter="url(#b1)"/>
<rect x="213.83" y="392.60" width="11.69" height="1.40" rx="0.70" fill="#0a0a0a" opacity="0.28" filter="url(#b1)"/>
<rect x="229.17" y="392.70" width="10.22" height="1.20" rx="0.60" fill="#0a0a0a" opacity="0.08" filter="url(#b1)"/>
<rect x="245.24" y="392.80" width="7.30" height="1.00" rx="0.50" fill="#0a0a0a" opacity="0.03" filter="url(#b1)"/>
<rect x="259.84" y="392.80" width="7.30" height="1.00" rx="0.50" fill="#0a0a0a" opacity="0.02" filter="url(#b1)"/>
</g>
<clipPath id="cp4"><rect x="65.00" y="405.40" width="205.80" height="19.00"/></clipPath>
<g clip-path="url(#cp4)">
<rect x="65.00" y="405.40" width="205.80" height="19.00" fill="#b5b5b5"/>
<rect x="184.50" y="405.40" width="86.00" height="19.00" fill="#bbbbbb"/>
<rect x="68.05" y="412.60" width="14.31" height="7.00" rx="3.50" fill="#0a0a0a" opacity="1.0" filter="url(#b1)"/>
<rect x="81.21" y="414.40" width="14.61" height="4.20" rx="2.10" fill="#0a0a0a" opacity="1.0" filter="url(#b1)"/>
<rect x="72.41" y="414.40" width="18.99" height="3.80" rx="1.90" fill="#0a0a0a" opacity="1.0" filter="url(#b1)"/>
<rect x="156.86" y="415.95" width="8.76" height="1.30" rx="0.65" fill="#0a0a0a" opacity="0.3" filter="url(#b1)"/>
<ellipse cx="178.85" cy="417.60" rx="9" ry="5.5" fill="#444" opacity="0.34" filter="url(#b3)"/>
<ellipse cx="180.85" cy="416.60" rx="4" ry="2.5" fill="#333" opacity="0.3" filter="url(#b2)"/>
<rect x="183.16" y="414.20" width="14.61" height="3.20" rx="1.60" fill="#0a0a0a" opacity="0.95" filter="url(#b1)"/>
<rect x="198.49" y="414.55" width="13.15" height="2.50" rx="1.25" fill="#0a0a0a" opacity="0.8" filter="url(#b1)"/>
<rect x="213.10" y="414.65" width="13.15" height="2.30" rx="1.15" fill="#0a0a0a" opacity="0.72" filter="url(#b1)"/>
<rect x="228.80" y="414.85" width="10.96" height="1.90" rx="0.95" fill="#0a0a0a" opacity="0.48" filter="url(#b1)"/>
<rect x="244.14" y="414.95" width="9.49" height="1.70" rx="0.85" fill="#0a0a0a" opacity="0.34" filter="url(#b1)"/>
<rect x="259.84" y="415.10" width="7.30" height="1.40" rx="0.70" fill="#0a0a0a" opacity="0.14" filter="url(#b1)"/>
</g>
<clipPath id="cp5"><rect x="65.00" y="427.00" width="205.80" height="18.80"/></clipPath>
<g clip-path="url(#cp5)">
<rect x="65.00" y="427.00" width="205.80" height="18.80" fill="#b2b2b2"/>
<rect x="67.50" y="434.50" width="202.80" height="2.80" rx="1.40" fill="#0a0a0a" opacity="0.95" filter="url(#b1)"/>
<rect x="67.03" y="433.65" width="13.15" height="4.50" rx="2.25" fill="#0a0a0a" opacity="0.85" filter="url(#b1)"/>
<rect x="81.64" y="433.65" width="13.15" height="4.50" rx="2.25" fill="#0a0a0a" opacity="0.85" filter="url(#b1)"/>
<rect x="96.24" y="434.10" width="13.15" height="3.60" rx="1.80" fill="#0a0a0a" opacity="0.85" filter="url(#b1)"/>
<rect x="110.85" y="434.10" width="13.15" height="3.60" rx="1.80" fill="#0a0a0a" opacity="0.85" filter="url(#b1)"/>
<rect x="125.46" y="434.10" width="13.15" height="3.60" rx="1.80" fill="#0a0a0a" opacity="0.85" filter="url(#b1)"/>
<rect x="140.07" y="434.10" width="13.15" height="3.60" rx="1.80" fill="#0a0a0a" opacity="0.85" filter="url(#b1)"/>
<rect x="154.67" y="434.10" width="13.15" height="3.60" rx="1.80" fill="#0a0a0a" opacity="0.85" filter="url(#b1)"/>
<rect x="169.28" y="434.10" width="13.15" height="3.60" rx="1.80" fill="#0a0a0a" opacity="0.85" filter="url(#b1)"/>
<rect x="183.89" y="434.10" width="13.15" height="3.60" rx="1.80" fill="#0a0a0a" opacity="0.85" filter="url(#b1)"/>
<rect x="198.49" y="434.10" width="13.15" height="3.60" rx="1.80" fill="#0a0a0a" opacity="0.85" filter="url(#b1)"/>
<rect x="213.10" y="434.10" width="13.15" height="3.60" rx="1.80" fill="#0a0a0a" opacity="0.85" filter="url(#b1)"/>
<rect x="227.71" y="434.10" width="13.15" height="3.60" rx="1.80" fill="#0a0a0a" opacity="0.85" filter="url(#b1)"/>
<rect x="242.32" y="434.10" width="13.15" height="3.60" rx="1.80" fill="#0a0a0a" opacity="0.85" filter="url(#b1)"/>
<rect x="256.92" y="434.10" width="13.15" height="3.60" rx="1.80" fill="#0a0a0a" opacity="0.85" filter="url(#b1)"/>
</g>
<clipPath id="cp6"><rect x="65.00" y="448.20" width="205.80" height="19.20"/></clipPath>
<g clip-path="url(#cp6)">
<rect x="65.00" y="448.20" width="205.80" height="19.20" fill="#b6b6b6"/>
<rect x="184.50" y="448.20" width="86.00" height="19.20" fill="#bbbbbb"/>
<rect x="66.30" y="456.95" width="14.61" height="2.90" rx="1.45" fill="#0a0a0a" opacity="0.95" filter="url(#b1)"/>
<rect x="81.27" y="457.05" width="13.88" height="2.70" rx="1.35" fill="#0a0a0a" opacity="0.92" filter="url(#b1)"/>
<rect x="97.34" y="457.60" width="10.96" height="1.60" rx="0.80" fill="#0a0a0a" opacity="0.45" filter="url(#b1)"/>
<rect x="111.95" y="457.50" width="10.96" height="1.80" rx="0.90" fill="#0a0a0a" opacity="0.55" filter="url(#b1)"/>
<rect x="125.82" y="457.40" width="12.42" height="2.00" rx="1.00" fill="#0a0a0a" opacity="0.7" filter="url(#b1)"/>
<rect x="141.16" y="457.60" width="10.96" height="1.60" rx="0.80" fill="#0a0a0a" opacity="0.45" filter="url(#b1)"/>
<rect x="155.40" y="457.50" width="11.69" height="1.80" rx="0.90" fill="#0a0a0a" opacity="0.6" filter="url(#b1)"/>
<rect x="170.01" y="457.50" width="11.69" height="1.80" rx="0.90" fill="#0a0a0a" opacity="0.65" filter="url(#b1)"/>
<rect x="183.16" y="457.10" width="14.61" height="2.60" rx="1.30" fill="#0a0a0a" opacity="0.95" filter="url(#b1)"/>
<rect x="197.91" y="457.20" width="14.31" height="2.40" rx="1.20" fill="#0a0a0a" opacity="0.9" filter="url(#b1)"/>
<rect x="212.37" y="457.10" width="14.61" height="2.60" rx="1.30" fill="#0a0a0a" opacity="0.95" filter="url(#b1)"/>
<rect x="227.34" y="457.40" width="13.88" height="2.00" rx="1.00" fill="#0a0a0a" opacity="0.72" filter="url(#b1)"/>
<rect x="241.95" y="457.40" width="13.88" height="2.00" rx="1.00" fill="#0a0a0a" opacity="0.72" filter="url(#b1)"/>
<rect x="257.29" y="457.50" width="12.42" height="1.80" rx="0.90" fill="#0a0a0a" opacity="0.5" filter="url(#b1)"/>
</g>
<clipPath id="cp7"><rect x="65.00" y="470.00" width="205.80" height="18.90"/></clipPath>
<g clip-path="url(#cp7)">
<rect x="65.00" y="470.00" width="205.80" height="18.90" fill="#b4b4b4"/>
<rect x="230.00" y="470.00" width="41.00" height="7.00" fill="#c0c0c0" filter="url(#b3)"/>
<rect x="67.50" y="478.80" width="202.80" height="2.00" rx="1.00" fill="#0a0a0a" opacity="0.95" filter="url(#b1)"/>
<rect x="67.18" y="478.45" width="12.85" height="2.70" rx="1.35" fill="#0a0a0a" opacity="0.8" filter="url(#b1)"/>
<rect x="81.78" y="478.45" width="12.85" height="2.70" rx="1.35" fill="#0a0a0a" opacity="0.8" filter="url(#b1)"/>
<rect x="96.15" y="477.80" width="15.34" height="4.00" rx="2.00" fill="#0a0a0a" opacity="0.8" filter="url(#b1)"/>
<rect x="111.00" y="478.45" width="12.85" height="2.70" rx="1.35" fill="#0a0a0a" opacity="0.8" filter="url(#b1)"/>
<rect x="125.60" y="478.45" width="12.85" height="2.70" rx="1.35" fill="#0a0a0a" opacity="0.8" filter="url(#b1)"/>
<rect x="140.21" y="478.45" width="12.85" height="2.70" rx="1.35" fill="#0a0a0a" opacity="0.8" filter="url(#b1)"/>
<rect x="154.82" y="478.45" width="12.85" height="2.70" rx="1.35" fill="#0a0a0a" opacity="0.8" filter="url(#b1)"/>
<rect x="169.43" y="478.45" width="12.85" height="2.70" rx="1.35" fill="#0a0a0a" opacity="0.8" filter="url(#b1)"/>
<rect x="184.03" y="478.45" width="12.85" height="2.70" rx="1.35" fill="#0a0a0a" opacity="0.8" filter="url(#b1)"/>
<rect x="198.64" y="478.45" width="12.85" height="2.70" rx="1.35" fill="#0a0a0a" opacity="0.8" filter="url(#b1)"/>
<rect x="213.25" y="478.45" width="12.85" height="2.70" rx="1.35" fill="#0a0a0a" opacity="0.8" filter="url(#b1)"/>
<rect x="227.85" y="478.45" width="12.85" height="2.70" rx="1.35" fill="#0a0a0a" opacity="0.8" filter="url(#b1)"/>
<rect x="242.46" y="478.45" width="12.85" height="2.70" rx="1.35" fill="#0a0a0a" opacity="0.8" filter="url(#b1)"/>
<rect x="257.07" y="478.45" width="12.85" height="2.70" rx="1.35" fill="#0a0a0a" opacity="0.8" filter="url(#b1)"/>
</g>
<clipPath id="cp8"><rect x="65.00" y="490.90" width="205.80" height="19.10"/></clipPath>
<g clip-path="url(#cp8)">
<rect x="65.00" y="490.90" width="205.80" height="19.10" fill="#e0e0e0"/>
<rect x="60.0" y="505" width="215.8" height="7" fill="#aaa" opacity="0.5" filter="url(#b3)"/>
<ellipse cx="177.85" cy="495.5" rx="11" ry="6" fill="#444" opacity="0.6" filter="url(#b3)"/>
<ellipse cx="102.82" cy="497" rx="14" ry="4" fill="#fff" opacity="0.5" filter="url(#b3)"/>
<ellipse cx="234.28" cy="494" rx="25" ry="3" fill="#fff" opacity="0.5" filter="url(#b3)"/>
<ellipse cx="73.60" cy="501.80" rx="7.30" ry="1.25" fill="#2a2a2a" opacity="0.9" filter="url(#b2)"/>
<ellipse cx="88.21" cy="501.80" rx="7.30" ry="1.25" fill="#2a2a2a" opacity="0.9" filter="url(#b2)"/>
<ellipse cx="102.82" cy="501.80" rx="7.30" ry="1.25" fill="#2a2a2a" opacity="0.45" filter="url(#b2)"/>
<ellipse cx="117.42" cy="501.80" rx="7.30" ry="1.25" fill="#2a2a2a" opacity="0.7" filter="url(#b2)"/>
<ellipse cx="132.03" cy="501.80" rx="7.30" ry="1.25" fill="#2a2a2a" opacity="0.7" filter="url(#b2)"/>
<ellipse cx="146.64" cy="501.80" rx="7.30" ry="1.25" fill="#2a2a2a" opacity="0.45" filter="url(#b2)"/>
<ellipse cx="161.25" cy="501.80" rx="7.30" ry="1.25" fill="#2a2a2a" opacity="0.7" filter="url(#b2)"/>
<ellipse cx="175.85" cy="501.80" rx="7.30" ry="1.25" fill="#2a2a2a" opacity="0.75" filter="url(#b2)"/>
<ellipse cx="190.46" cy="500.60" rx="7.30" ry="1.25" fill="#2a2a2a" opacity="0.7" filter="url(#b2)"/>
<ellipse cx="205.07" cy="500.26" rx="7.30" ry="1.25" fill="#2a2a2a" opacity="0.6" filter="url(#b2)"/>
<ellipse cx="219.68" cy="499.92" rx="7.30" ry="1.25" fill="#2a2a2a" opacity="0.65" filter="url(#b2)"/>
<ellipse cx="234.28" cy="499.58" rx="7.30" ry="1.25" fill="#2a2a2a" opacity="0.6" filter="url(#b2)"/>
<ellipse cx="248.89" cy="499.24" rx="7.30" ry="1.25" fill="#2a2a2a" opacity="0.65" filter="url(#b2)"/>
<ellipse cx="263.50" cy="498.90" rx="7.30" ry="1.25" fill="#2a2a2a" opacity="0.6" filter="url(#b2)"/>
<rect x="65.0" y="501.2" width="118.0" height="1.2" fill="#555" opacity="0.45" filter="url(#b1)"/>
<rect x="185" y="499.2" width="86" height="1.2" fill="#555" opacity="0.4" filter="url(#b1)" transform="rotate(-1.1 185 500)"/>
<rect x="61.0" y="489" width="30" height="6" fill="#999" opacity="0.5" filter="url(#b3)"/>
</g>
<line x1="183.90" y1="383.80" x2="183.90" y2="511.20" stroke="#dc3a44" stroke-width="0.8"/>
<line x1="65.00" y1="512.90" x2="270.80" y2="512.90" stroke="#222" stroke-width="1.1"/>
<text x="177.10" y="521.60" font-size="7.85" text-anchor="middle" fill="#151515" stroke="#151515" stroke-width="0.24">PC-3 cells</text>
<line x1="102.50" y1="361.60" x2="183.80" y2="361.60" stroke="#222" stroke-width="0.9"/>
<line x1="187.00" y1="361.60" x2="268.80" y2="361.60" stroke="#222" stroke-width="0.9"/>
<text x="145.60" y="358.20" font-size="7.9" text-anchor="middle" fill="#151515" stroke="#151515" stroke-width="0.24">AZD5363–1 µmol/L</text>
<text x="230.60" y="358.20" font-size="7.9" text-anchor="middle" fill="#151515" stroke="#151515" stroke-width="0.24">MS21–1 µmol/L</text>
<text x="75.40" y="380.30" font-size="8.0" fill="#151515" stroke="#151515" stroke-width="0.24" transform="rotate(-45 75.40 380.30)">DMSO</text>
<text x="89.11" y="380.30" font-size="8.0" fill="#151515" stroke="#151515" stroke-width="0.24" transform="rotate(-45 89.11 380.30)">VHL</text>
<text x="103.72" y="380.30" font-size="8.0" fill="#151515" stroke="#151515" stroke-width="0.24" transform="rotate(-45 103.72 380.30)">1 h</text>
<text x="118.33" y="380.30" font-size="8.0" fill="#151515" stroke="#151515" stroke-width="0.24" transform="rotate(-45 118.33 380.30)">2 h</text>
<text x="132.93" y="380.30" font-size="8.0" fill="#151515" stroke="#151515" stroke-width="0.24" transform="rotate(-45 132.93 380.30)">4 h</text>
<text x="147.54" y="380.30" font-size="8.0" fill="#151515" stroke="#151515" stroke-width="0.24" transform="rotate(-45 147.54 380.30)">8 h</text>
<text x="162.15" y="380.30" font-size="8.0" fill="#151515" stroke="#151515" stroke-width="0.24" transform="rotate(-45 162.15 380.30)">12 h</text>
<text x="176.75" y="380.30" font-size="8.0" fill="#151515" stroke="#151515" stroke-width="0.24" transform="rotate(-45 176.75 380.30)">24 h</text>
<text x="191.36" y="380.30" font-size="8.0" fill="#151515" stroke="#151515" stroke-width="0.24" transform="rotate(-45 191.36 380.30)">1 h</text>
<text x="205.97" y="380.30" font-size="8.0" fill="#151515" stroke="#151515" stroke-width="0.24" transform="rotate(-45 205.97 380.30)">2 h</text>
<text x="220.58" y="380.30" font-size="8.0" fill="#151515" stroke="#151515" stroke-width="0.24" transform="rotate(-45 220.58 380.30)">4 h</text>
<text x="235.18" y="380.30" font-size="8.0" fill="#151515" stroke="#151515" stroke-width="0.24" transform="rotate(-45 235.18 380.30)">8 h</text>
<text x="249.79" y="380.30" font-size="8.0" fill="#151515" stroke="#151515" stroke-width="0.24" transform="rotate(-45 249.79 380.30)">12 h</text>
<text x="264.40" y="380.30" font-size="8.0" fill="#151515" stroke="#151515" stroke-width="0.24" transform="rotate(-45 264.40 380.30)">24 h</text>
<text x="294.50" y="357.30" font-size="10.3" fill="#111" stroke="#111" stroke-width="0.31" font-weight="bold">E</text>
<text x="352.80" y="431.40" font-size="7.8" text-anchor="end" fill="#151515" stroke="#151515" stroke-width="0.23">T-AKT</text>
<text x="352.80" y="452.40" font-size="7.8" text-anchor="end" fill="#151515" stroke="#151515" stroke-width="0.23">pPRAS40 (T246)</text>
<text x="352.80" y="473.20" font-size="7.8" text-anchor="end" fill="#151515" stroke="#151515" stroke-width="0.23">T-PRAS40</text>
<text x="352.80" y="495.90" font-size="7.8" text-anchor="end" fill="#151515" stroke="#151515" stroke-width="0.23">β-Actin</text>
<clipPath id="cp9"><rect x="357.00" y="417.40" width="119.70" height="18.60"/></clipPath>
<g clip-path="url(#cp9)">
<rect x="357.00" y="417.40" width="119.70" height="18.60" fill="#c1c1c1"/>
<rect x="358.00" y="424.70" width="19.21" height="4.40" rx="2.20" fill="#0a0a0a" opacity="1" filter="url(#b1)"/>
<rect x="381.32" y="426.80" width="11.76" height="1.40" rx="0.70" fill="#0a0a0a" opacity="0.35" filter="url(#b1)"/>
<rect x="398.47" y="425.70" width="16.66" height="2.40" rx="1.20" fill="#0a0a0a" opacity="0.9" filter="url(#b1)"/>
<rect x="416.60" y="425.15" width="19.60" height="3.50" rx="1.75" fill="#0a0a0a" opacity="0.97" filter="url(#b1)"/>
<rect x="436.20" y="425.25" width="19.60" height="3.30" rx="1.65" fill="#0a0a0a" opacity="0.97" filter="url(#b1)"/>
<rect x="456.58" y="425.50" width="18.03" height="2.80" rx="1.40" fill="#0a0a0a" opacity="0.95" filter="url(#b1)"/>
</g>
<clipPath id="cp10"><rect x="357.00" y="438.80" width="119.70" height="18.70"/></clipPath>
<g clip-path="url(#cp10)">
<rect x="357.00" y="438.80" width="119.70" height="18.70" fill="#b4b4b4"/>
<rect x="358.00" y="446.10" width="19.21" height="4.20" rx="2.10" fill="#0a0a0a" opacity="1" filter="url(#b1)"/>
<rect x="378.58" y="446.90" width="17.25" height="2.60" rx="1.30" fill="#0a0a0a" opacity="0.9" filter="url(#b1)"/>
<rect x="397.49" y="446.60" width="18.62" height="3.20" rx="1.60" fill="#0a0a0a" opacity="0.95" filter="url(#b1)"/>
<rect x="417.09" y="446.50" width="18.62" height="3.40" rx="1.70" fill="#0a0a0a" opacity="0.97" filter="url(#b1)"/>
<rect x="436.98" y="446.70" width="18.03" height="3.00" rx="1.50" fill="#0a0a0a" opacity="0.95" filter="url(#b1)"/>
<rect x="458.74" y="447.80" width="13.72" height="2.00" rx="1.00" fill="#0a0a0a" opacity="0.8" filter="url(#b1)"/>
</g>
<clipPath id="cp11"><rect x="357.00" y="460.20" width="119.70" height="18.80"/></clipPath>
<g clip-path="url(#cp11)">
<rect x="357.00" y="460.20" width="119.70" height="18.80" fill="#b6b6b6"/>
<rect x="359.27" y="468.10" width="16.66" height="2.60" rx="1.30" fill="#0a0a0a" opacity="0.95" filter="url(#b1)"/>
<rect x="379.36" y="468.10" width="15.68" height="2.60" rx="1.30" fill="#0a0a0a" opacity="0.9" filter="url(#b1)"/>
<rect x="399.45" y="468.30" width="14.70" height="2.20" rx="1.10" fill="#0a0a0a" opacity="0.8" filter="url(#b1)"/>
<rect x="418.56" y="468.20" width="15.68" height="2.40" rx="1.20" fill="#0a0a0a" opacity="0.9" filter="url(#b1)"/>
<rect x="438.16" y="468.20" width="15.68" height="2.40" rx="1.20" fill="#0a0a0a" opacity="0.9" filter="url(#b1)"/>
<rect x="458.25" y="468.30" width="14.70" height="2.20" rx="1.10" fill="#0a0a0a" opacity="0.85" filter="url(#b1)"/>
</g>
<clipPath id="cp12"><rect x="357.00" y="481.30" width="119.70" height="19.30"/></clipPath>
<g clip-path="url(#cp12)">
<rect x="357.00" y="481.30" width="119.70" height="19.30" fill="#b8b8b8"/>
<rect x="359.50" y="489.60" width="114.70" height="2.20" rx="1.10" fill="#0a0a0a" opacity="0.95" filter="url(#b1)"/>
<rect x="358.78" y="489.25" width="17.64" height="2.90" rx="1.45" fill="#0a0a0a" opacity="0.85" filter="url(#b1)"/>
<rect x="378.38" y="489.25" width="17.64" height="2.90" rx="1.45" fill="#0a0a0a" opacity="0.85" filter="url(#b1)"/>
<rect x="397.98" y="489.25" width="17.64" height="2.90" rx="1.45" fill="#0a0a0a" opacity="0.85" filter="url(#b1)"/>
<rect x="417.58" y="489.25" width="17.64" height="2.90" rx="1.45" fill="#0a0a0a" opacity="0.85" filter="url(#b1)"/>
<rect x="437.18" y="489.25" width="17.64" height="2.90" rx="1.45" fill="#0a0a0a" opacity="0.85" filter="url(#b1)"/>
<rect x="456.78" y="489.25" width="17.64" height="2.90" rx="1.45" fill="#0a0a0a" opacity="0.85" filter="url(#b1)"/>
</g>
<line x1="358.00" y1="503.40" x2="476.70" y2="503.40" stroke="#222" stroke-width="0.9"/>
<text x="423.90" y="512.30" font-size="7.9" text-anchor="middle" fill="#151515" stroke="#151515" stroke-width="0.24">BT474 cells</text>
<line x1="378.00" y1="357.10" x2="473.60" y2="357.10" stroke="#222" stroke-width="1.0"/>
<text x="430.00" y="353.20" font-size="8.0" text-anchor="middle" fill="#151515" stroke="#151515" stroke-width="0.24">MS21–1 µmol/L</text>
<text x="337.80" y="409.60" font-size="7.8" fill="#151515" stroke="#151515" stroke-width="0.23">24 h</text>
<text x="367.30" y="413.60" font-size="7.7" fill="#151515" stroke="#151515" stroke-width="0.23" transform="rotate(-45 367.30 413.60)">DMSO</text>
<text x="385.70" y="413.60" font-size="7.7" fill="#151515" stroke="#151515" stroke-width="0.23" transform="rotate(-45 385.70 413.60)">DMSO</text>
<text x="404.80" y="413.60" font-size="7.7" fill="#151515" stroke="#151515" stroke-width="0.23" transform="rotate(-45 404.80 413.60)">Ac-VHL-Me-1 µmol/L</text>
<text x="425.40" y="413.60" font-size="7.7" fill="#151515" stroke="#151515" stroke-width="0.23" transform="rotate(-45 425.40 413.60)">MLN4924-1 µmol/L</text>
<text x="445.00" y="413.60" font-size="7.7" fill="#151515" stroke="#151515" stroke-width="0.23" transform="rotate(-45 445.00 413.60)">MG132-20 µmol/L</text>
<text x="464.00" y="413.60" font-size="7.7" fill="#151515" stroke="#151515" stroke-width="0.23" transform="rotate(-45 464.00 413.60)">AZD5363-1 µmol/L</text>
<text x="46.80" y="573.50" font-size="10.3" fill="#111" stroke="#111" stroke-width="0.31" font-weight="bold">F</text>
<text x="106.60" y="607.10" font-size="7.8" text-anchor="end" fill="#151515" stroke="#151515" stroke-width="0.23">T-AKT</text>
<text x="106.60" y="621.90" font-size="7.8" text-anchor="end" fill="#151515" stroke="#151515" stroke-width="0.23">pPRAS40 (T246)</text>
<text x="106.60" y="638.30" font-size="7.8" text-anchor="end" fill="#151515" stroke="#151515" stroke-width="0.23">PRAS40</text>
<text x="106.60" y="653.80" font-size="7.8" text-anchor="end" fill="#151515" stroke="#151515" stroke-width="0.23">pS6 (S240/244)</text>
<text x="106.60" y="668.80" font-size="7.8" text-anchor="end" fill="#151515" stroke="#151515" stroke-width="0.23">T-S6</text>
<text x="106.60" y="683.60" font-size="7.8" text-anchor="end" fill="#151515" stroke="#151515" stroke-width="0.23">β-Actin</text>
<clipPath id="cp13"><rect x="110.00" y="597.00" width="49.60" height="13.60"/></clipPath>
<g clip-path="url(#cp13)">
<rect x="110.00" y="597.00" width="49.60" height="13.60" fill="#b5b5b5"/>
<rect x="111.14" y="601.95" width="14.52" height="2.70" rx="1.35" fill="#0a0a0a" opacity="0.97" filter="url(#b1)"/>
<rect x="129.12" y="602.60" width="11.55" height="1.40" rx="0.70" fill="#0a0a0a" opacity="0.28" filter="url(#b1)"/>
<rect x="143.97" y="601.90" width="14.85" height="2.80" rx="1.40" fill="#0a0a0a" opacity="0.97" filter="url(#b1)"/>
</g>
<clipPath id="cp14"><rect x="110.00" y="612.40" width="49.60" height="13.30"/></clipPath>
<g clip-path="url(#cp14)">
<rect x="110.00" y="612.40" width="49.60" height="13.30" fill="#b3b3b3"/>
<rect x="110.98" y="616.50" width="14.85" height="4.40" rx="2.20" fill="#0a0a0a" opacity="1" filter="url(#b1)"/>
<rect x="129.12" y="617.95" width="11.55" height="1.50" rx="0.75" fill="#0a0a0a" opacity="0.25" filter="url(#b1)"/>
<rect x="143.97" y="616.90" width="14.85" height="3.60" rx="1.80" fill="#0a0a0a" opacity="1" filter="url(#b1)"/>
</g>
<clipPath id="cp15"><rect x="110.00" y="627.90" width="49.60" height="13.40"/></clipPath>
<g clip-path="url(#cp15)">
<rect x="110.00" y="627.90" width="49.60" height="13.40" fill="#b7b7b7"/>
<rect x="111.14" y="633.60" width="14.52" height="2.60" rx="1.30" fill="#0a0a0a" opacity="0.95" filter="url(#b1)"/>
<rect x="127.89" y="633.65" width="14.03" height="2.50" rx="1.25" fill="#0a0a0a" opacity="0.9" filter="url(#b1)"/>
<rect x="144.80" y="633.75" width="13.20" height="2.30" rx="1.15" fill="#0a0a0a" opacity="0.9" filter="url(#b1)"/>
</g>
<clipPath id="cp16"><rect x="110.00" y="643.20" width="49.60" height="13.50"/></clipPath>
<g clip-path="url(#cp16)">
<rect x="110.00" y="643.20" width="49.60" height="13.50" fill="#bababa"/>
<rect x="111.39" y="649.20" width="14.03" height="2.00" rx="1.00" fill="#0a0a0a" opacity="0.85" filter="url(#b1)"/>
<rect x="128.30" y="649.30" width="13.20" height="1.80" rx="0.90" fill="#0a0a0a" opacity="0.65" filter="url(#b1)"/>
<rect x="144.14" y="648.70" width="14.52" height="2.00" rx="1.00" fill="#0a0a0a" opacity="0.85" filter="url(#b1)"/>
</g>
<clipPath id="cp17"><rect x="110.00" y="658.40" width="49.60" height="12.80"/></clipPath>
<g clip-path="url(#cp17)">
<rect x="110.00" y="658.40" width="49.60" height="12.80" fill="#b6b6b6"/>
<rect x="112.00" y="663.70" width="45.60" height="2.20" rx="1.10" fill="#0a0a0a" opacity="0.95" filter="url(#b1)"/>
<rect x="111.14" y="663.30" width="14.52" height="3.00" rx="1.50" fill="#0a0a0a" opacity="0.85" filter="url(#b1)"/>
<rect x="127.64" y="663.30" width="14.52" height="3.00" rx="1.50" fill="#0a0a0a" opacity="0.85" filter="url(#b1)"/>
<rect x="144.14" y="663.10" width="14.52" height="3.40" rx="1.70" fill="#0a0a0a" opacity="0.85" filter="url(#b1)"/>
</g>
<clipPath id="cp18"><rect x="110.00" y="673.50" width="49.60" height="13.50"/></clipPath>
<g clip-path="url(#cp18)">
<rect x="110.00" y="673.50" width="49.60" height="13.50" fill="#dadada"/>
<rect x="104.0" y="671" width="30" height="6.5" fill="#333" opacity="0.7" filter="url(#b3)"/>
<ellipse cx="152" cy="676.5" rx="9" ry="2.5" fill="#fff" opacity="0.8" filter="url(#b2)"/>
<ellipse cx="146" cy="674.2" rx="3.5" ry="0.9" fill="#333" opacity="0.7" filter="url(#b1)"/>
<rect x="104.0" y="683" width="22" height="6" fill="#555" opacity="0.45" filter="url(#b3)"/>
<rect x="110.98" y="679.00" width="31.35" height="3.00" rx="1.50" fill="#1a1a1a" opacity="0.9" filter="url(#b2)"/>
<rect x="144.64" y="679.90" width="13.53" height="2.40" rx="1.20" fill="#1a1a1a" opacity="0.9" filter="url(#b2)"/>
</g>
<line x1="110.00" y1="688.80" x2="159.60" y2="688.80" stroke="#222" stroke-width="0.9"/>
<text x="135.20" y="697.60" font-size="7.85" text-anchor="middle" fill="#151515" stroke="#151515" stroke-width="0.24">PC-3 cells</text>
<text x="117.70" y="593.90" font-size="7.85" fill="#151515" stroke="#151515" stroke-width="0.24" transform="rotate(-45 117.70 593.90)">DMSO</text>
<text x="135.50" y="593.90" font-size="7.85" fill="#151515" stroke="#151515" stroke-width="0.24" transform="rotate(-45 135.50 593.90)">MS21-1 µmol/L</text>
<text x="152.90" y="593.90" font-size="7.85" fill="#151515" stroke="#151515" stroke-width="0.24" transform="rotate(-45 152.90 593.90)">MS21N1-1 µmol/L</text>
<text x="281.30" y="535.20" font-size="10.3" fill="#111" stroke="#111" stroke-width="0.31" font-weight="bold">G</text>
<line x1="355.50" y1="535.70" x2="355.50" y2="691.50" stroke="#e6e6e6" stroke-width="0.6"/>
<line x1="443.50" y1="535.70" x2="443.50" y2="691.50" stroke="#e6e6e6" stroke-width="0.6"/>
<line x1="311.50" y1="648.00" x2="487.50" y2="648.00" stroke="#e6e6e6" stroke-width="0.6"/>
<line x1="311.50" y1="612.50" x2="487.50" y2="612.50" stroke="#e6e6e6" stroke-width="0.6"/>
<line x1="311.50" y1="577.00" x2="487.50" y2="577.00" stroke="#e6e6e6" stroke-width="0.6"/>
<line x1="311.50" y1="541.50" x2="487.50" y2="541.50" stroke="#e6e6e6" stroke-width="0.6"/>
<line x1="308.90" y1="683.50" x2="487.50" y2="683.50" stroke="#4a4a4a" stroke-width="0.9"/>
<line x1="399.50" y1="535.70" x2="399.50" y2="691.50" stroke="#555" stroke-width="0.9"/>
<path d="M399.5,685.6 L397.3,684.6 L393.3,683.5 L391.3,682.4 L388.9,681.4 L388.3,680.3 L387.2,679.2 L385.8,678.2 L384.6,677.1 L383.5,676.0 L384.7,675.0 L384.0,673.9 L384.3,672.9 L382.4,671.8 L383.5,670.7 L383.7,669.7 L385.6,668.6 L385.1,667.5 L385.5,666.5 L385.7,665.4 L386.9,664.3 L388.1,663.3 L387.9,662.2 L388.3,661.1 L387.8,660.1 L389.7,659.0 L389.7,657.9 L390.9,656.9 L389.6,655.8 L390.6,654.7 L390.5,653.7 L392.1,652.6 L391.7,651.5 L391.5,650.5 L391.4,649.4 L391.9,648.4 L393.2,647.3 L392.6,646.2 L392.9,645.2 L391.7,644.1 L393.2,643.0 L393.0,642.0 L394.2,640.9 L393.1,639.8 L393.7,638.8 L393.9,637.7 L395.3,636.6 L395.7,635.6 L395.4,634.5 L395.5,633.4 L395.5,632.4 L397.3,631.3 L397.0,630.2 L397.7,629.2 L397.5,628.1 L397.7,627.1 L398.0,626.0 L398.3,624.9 L398.5,623.9 L398.8,622.8 L399.0,621.7 L400.0,621.7 L400.2,622.8 L400.5,623.9 L400.8,624.9 L401.0,626.0 L401.3,627.1 L401.6,628.1 L401.8,629.2 L401.6,630.2 L403.4,631.3 L403.3,632.4 L402.4,633.4 L403.7,634.5 L403.9,635.6 L405.2,636.6 L404.8,637.7 L404.2,638.8 L406.1,639.8 L406.2,640.9 L406.6,642.0 L406.0,643.0 L405.6,644.1 L407.5,645.2 L406.9,646.2 L406.8,647.3 L406.7,648.4 L406.9,649.4 L408.7,650.5 L407.7,651.5 L407.6,652.6 L408.3,653.7 L408.5,654.7 L410.0,655.8 L408.8,656.9 L409.2,657.9 L410.6,659.0 L410.7,660.1 L411.7,661.1 L410.8,662.2 L411.8,663.3 L413.6,664.3 L413.1,665.4 L413.9,666.5 L413.6,667.5 L415.0,668.6 L416.6,669.7 L415.7,670.7 L416.0,671.8 L415.7,672.9 L416.1,673.9 L416.4,675.0 L414.4,676.0 L414.5,677.1 L413.9,678.2 L413.2,679.2 L412.1,680.3 L408.7,681.4 L407.9,682.4 L406.1,683.5 L402.9,684.6 L399.5,685.6 Z" fill="#a0a0a0"/>
<circle cx="409.6" cy="655.4" r="1.05" fill="#a0a0a0"/>
<circle cx="381.9" cy="665.4" r="1.05" fill="#a0a0a0"/>
<circle cx="414.1" cy="667.7" r="1.05" fill="#a0a0a0"/>
<circle cx="392.5" cy="632.0" r="1.05" fill="#a0a0a0"/>
<circle cx="410.9" cy="667.3" r="1.05" fill="#a0a0a0"/>
<circle cx="388.1" cy="662.3" r="1.05" fill="#a0a0a0"/>
<circle cx="385.8" cy="669.6" r="1.05" fill="#a0a0a0"/>
<circle cx="416.5" cy="671.6" r="1.05" fill="#a0a0a0"/>
<circle cx="424.4" cy="667.3" r="1.05" fill="#a0a0a0"/>
<circle cx="392.6" cy="623.7" r="1.05" fill="#a0a0a0"/>
<circle cx="410.4" cy="664.1" r="1.05" fill="#a0a0a0"/>
<circle cx="382.4" cy="659.1" r="1.05" fill="#a0a0a0"/>
<circle cx="391.5" cy="621.5" r="1.05" fill="#a0a0a0"/>
<circle cx="409.6" cy="653.4" r="1.05" fill="#a0a0a0"/>
<circle cx="372.9" cy="670.2" r="1.05" fill="#a0a0a0"/>
<circle cx="389.5" cy="682.0" r="1.05" fill="#a0a0a0"/>
<circle cx="382.8" cy="676.0" r="1.05" fill="#a0a0a0"/>
<circle cx="380.1" cy="670.1" r="1.05" fill="#a0a0a0"/>
<circle cx="403.5" cy="628.3" r="1.05" fill="#a0a0a0"/>
<circle cx="414.3" cy="661.0" r="1.05" fill="#a0a0a0"/>
<circle cx="415.5" cy="666.3" r="1.05" fill="#a0a0a0"/>
<circle cx="394.0" cy="628.7" r="1.05" fill="#a0a0a0"/>
<circle cx="406.7" cy="632.2" r="1.05" fill="#a0a0a0"/>
<circle cx="392.6" cy="645.9" r="1.05" fill="#a0a0a0"/>
<circle cx="383.4" cy="667.5" r="1.05" fill="#a0a0a0"/>
<circle cx="407.8" cy="641.2" r="1.05" fill="#a0a0a0"/>
<circle cx="394.2" cy="618.0" r="1.05" fill="#a0a0a0"/>
<circle cx="393.8" cy="643.9" r="1.05" fill="#a0a0a0"/>
<circle cx="410.6" cy="682.2" r="1.05" fill="#a0a0a0"/>
<circle cx="415.6" cy="678.0" r="1.05" fill="#a0a0a0"/>
<circle cx="398.1" cy="595.5" r="1.05" fill="#a0a0a0"/>
<circle cx="408.8" cy="635.8" r="1.05" fill="#a0a0a0"/>
<circle cx="388.2" cy="656.1" r="1.05" fill="#a0a0a0"/>
<circle cx="384.2" cy="667.6" r="1.05" fill="#a0a0a0"/>
<circle cx="414.1" cy="666.0" r="1.05" fill="#a0a0a0"/>
<circle cx="421.5" cy="674.7" r="1.05" fill="#a0a0a0"/>
<circle cx="382.6" cy="660.0" r="1.05" fill="#a0a0a0"/>
<circle cx="410.5" cy="641.7" r="1.05" fill="#a0a0a0"/>
<circle cx="402.2" cy="629.1" r="1.05" fill="#a0a0a0"/>
<circle cx="413.7" cy="659.2" r="1.05" fill="#a0a0a0"/>
<circle cx="411.4" cy="658.6" r="1.05" fill="#a0a0a0"/>
<circle cx="388.8" cy="654.3" r="1.05" fill="#a0a0a0"/>
<circle cx="396.0" cy="603.3" r="1.05" fill="#a0a0a0"/>
<circle cx="388.5" cy="656.2" r="1.05" fill="#a0a0a0"/>
<circle cx="385.2" cy="677.2" r="1.05" fill="#a0a0a0"/>
<circle cx="377.8" cy="677.0" r="1.05" fill="#a0a0a0"/>
<circle cx="381.1" cy="677.9" r="1.05" fill="#a0a0a0"/>
<circle cx="423.6" cy="674.5" r="1.05" fill="#a0a0a0"/>
<circle cx="383.8" cy="679.3" r="1.05" fill="#a0a0a0"/>
<circle cx="391.6" cy="634.7" r="1.05" fill="#a0a0a0"/>
<circle cx="393.4" cy="635.8" r="1.05" fill="#a0a0a0"/>
<circle cx="406.4" cy="639.9" r="1.05" fill="#a0a0a0"/>
<circle cx="425.5" cy="676.0" r="1.05" fill="#a0a0a0"/>
<circle cx="386.3" cy="647.4" r="1.05" fill="#a0a0a0"/>
<circle cx="404.4" cy="636.5" r="1.05" fill="#a0a0a0"/>
<circle cx="407.4" cy="640.6" r="1.05" fill="#a0a0a0"/>
<circle cx="413.2" cy="680.3" r="1.05" fill="#a0a0a0"/>
<circle cx="386.0" cy="658.8" r="1.05" fill="#a0a0a0"/>
<circle cx="401.4" cy="603.0" r="1.05" fill="#a0a0a0"/>
<circle cx="393.9" cy="619.4" r="1.05" fill="#a0a0a0"/>
<circle cx="416.0" cy="654.1" r="1.05" fill="#a0a0a0"/>
<circle cx="385.1" cy="679.2" r="1.05" fill="#a0a0a0"/>
<circle cx="388.5" cy="660.2" r="1.05" fill="#a0a0a0"/>
<circle cx="408.7" cy="636.7" r="1.05" fill="#a0a0a0"/>
<circle cx="419.4" cy="674.0" r="1.05" fill="#a0a0a0"/>
<circle cx="393.8" cy="616.9" r="1.05" fill="#a0a0a0"/>
<circle cx="409.2" cy="659.8" r="1.05" fill="#a0a0a0"/>
<circle cx="412.2" cy="680.3" r="1.05" fill="#a0a0a0"/>
<circle cx="388.9" cy="644.8" r="1.05" fill="#a0a0a0"/>
<circle cx="410.8" cy="660.3" r="1.05" fill="#a0a0a0"/>
<circle cx="408.0" cy="654.3" r="1.05" fill="#a0a0a0"/>
<circle cx="413.5" cy="681.0" r="1.05" fill="#a0a0a0"/>
<circle cx="423.6" cy="672.1" r="1.05" fill="#a0a0a0"/>
<circle cx="393.1" cy="640.2" r="1.05" fill="#a0a0a0"/>
<circle cx="381.6" cy="674.0" r="1.05" fill="#a0a0a0"/>
<circle cx="415.1" cy="671.0" r="1.05" fill="#a0a0a0"/>
<circle cx="389.2" cy="681.2" r="1.05" fill="#a0a0a0"/>
<circle cx="407.8" cy="638.4" r="1.05" fill="#a0a0a0"/>
<circle cx="373.8" cy="674.3" r="1.05" fill="#a0a0a0"/>
<circle cx="421.3" cy="666.7" r="1.05" fill="#a0a0a0"/>
<circle cx="407.3" cy="643.5" r="1.05" fill="#a0a0a0"/>
<circle cx="382.1" cy="673.4" r="1.05" fill="#a0a0a0"/>
<circle cx="408.2" cy="645.9" r="1.05" fill="#a0a0a0"/>
<circle cx="415.5" cy="665.5" r="1.05" fill="#a0a0a0"/>
<circle cx="412.8" cy="659.0" r="1.05" fill="#a0a0a0"/>
<circle cx="393.7" cy="629.8" r="1.05" fill="#a0a0a0"/>
<circle cx="413.7" cy="661.7" r="1.05" fill="#a0a0a0"/>
<circle cx="396.9" cy="612.3" r="1.05" fill="#a0a0a0"/>
<circle cx="412.1" cy="677.9" r="1.05" fill="#a0a0a0"/>
<circle cx="414.6" cy="664.7" r="1.05" fill="#a0a0a0"/>
<circle cx="377.1" cy="677.8" r="1.05" fill="#a0a0a0"/>
<circle cx="411.5" cy="666.7" r="1.05" fill="#a0a0a0"/>
<circle cx="387.2" cy="682.5" r="1.05" fill="#a0a0a0"/>
<circle cx="392.3" cy="636.9" r="1.05" fill="#a0a0a0"/>
<circle cx="381.2" cy="677.4" r="1.05" fill="#a0a0a0"/>
<circle cx="387.0" cy="679.6" r="1.05" fill="#a0a0a0"/>
<circle cx="373.4" cy="675.1" r="1.05" fill="#a0a0a0"/>
<circle cx="382.0" cy="663.9" r="1.05" fill="#a0a0a0"/>
<circle cx="411.3" cy="653.0" r="1.05" fill="#a0a0a0"/>
<circle cx="380.2" cy="677.8" r="1.05" fill="#a0a0a0"/>
<circle cx="397.2" cy="596.6" r="1.05" fill="#a0a0a0"/>
<circle cx="419.4" cy="671.3" r="1.05" fill="#a0a0a0"/>
<circle cx="401.7" cy="599.0" r="1.05" fill="#a0a0a0"/>
<circle cx="384.8" cy="662.9" r="1.05" fill="#a0a0a0"/>
<circle cx="395.3" cy="608.9" r="1.05" fill="#a0a0a0"/>
<circle cx="412.2" cy="656.9" r="1.05" fill="#a0a0a0"/>
<circle cx="412.5" cy="681.5" r="1.05" fill="#a0a0a0"/>
<circle cx="381.9" cy="662.9" r="1.05" fill="#a0a0a0"/>
<circle cx="405.0" cy="629.9" r="1.05" fill="#a0a0a0"/>
<circle cx="386.2" cy="653.5" r="1.05" fill="#a0a0a0"/>
<circle cx="422.6" cy="668.6" r="1.05" fill="#a0a0a0"/>
<circle cx="407.7" cy="647.0" r="1.05" fill="#a0a0a0"/>
<circle cx="413.6" cy="669.1" r="1.05" fill="#a0a0a0"/>
<circle cx="402.5" cy="599.8" r="1.05" fill="#a0a0a0"/>
<circle cx="393.4" cy="638.8" r="1.05" fill="#a0a0a0"/>
<circle cx="376.9" cy="673.2" r="1.05" fill="#a0a0a0"/>
<circle cx="417.0" cy="669.9" r="1.05" fill="#a0a0a0"/>
<circle cx="383.3" cy="666.0" r="1.05" fill="#a0a0a0"/>
<circle cx="392.3" cy="647.5" r="1.05" fill="#a0a0a0"/>
<circle cx="383.2" cy="662.0" r="1.05" fill="#a0a0a0"/>
<circle cx="412.2" cy="680.6" r="1.05" fill="#a0a0a0"/>
<circle cx="418.4" cy="678.5" r="1.05" fill="#a0a0a0"/>
<circle cx="409.5" cy="682.7" r="1.05" fill="#a0a0a0"/>
<circle cx="393.8" cy="617.0" r="1.05" fill="#a0a0a0"/>
<circle cx="378.0" cy="671.3" r="1.05" fill="#a0a0a0"/>
<circle cx="382.1" cy="676.5" r="1.05" fill="#a0a0a0"/>
<circle cx="394.0" cy="631.7" r="1.05" fill="#a0a0a0"/>
<circle cx="395.9" cy="605.9" r="1.05" fill="#a0a0a0"/>
<circle cx="406.6" cy="632.3" r="1.05" fill="#a0a0a0"/>
<circle cx="392.1" cy="632.9" r="1.05" fill="#a0a0a0"/>
<circle cx="391.4" cy="682.7" r="1.05" fill="#a0a0a0"/>
<circle cx="410.0" cy="659.2" r="1.05" fill="#a0a0a0"/>
<circle cx="411.9" cy="675.3" r="1.05" fill="#a0a0a0"/>
<circle cx="391.4" cy="637.5" r="1.05" fill="#a0a0a0"/>
<circle cx="416.2" cy="672.7" r="1.05" fill="#a0a0a0"/>
<circle cx="393.9" cy="640.5" r="1.05" fill="#a0a0a0"/>
<circle cx="393.3" cy="631.0" r="1.05" fill="#a0a0a0"/>
<circle cx="414.6" cy="674.1" r="1.05" fill="#a0a0a0"/>
<circle cx="383.7" cy="674.9" r="1.05" fill="#a0a0a0"/>
<circle cx="406.6" cy="633.8" r="1.05" fill="#a0a0a0"/>
<circle cx="417.8" cy="675.6" r="1.05" fill="#a0a0a0"/>
<circle cx="417.2" cy="674.5" r="1.05" fill="#a0a0a0"/>
<circle cx="396.0" cy="603.2" r="1.05" fill="#a0a0a0"/>
<circle cx="382.3" cy="676.9" r="1.05" fill="#a0a0a0"/>
<circle cx="419.4" cy="679.0" r="1.05" fill="#a0a0a0"/>
<circle cx="383.3" cy="670.2" r="1.05" fill="#a0a0a0"/>
<circle cx="393.6" cy="642.1" r="1.05" fill="#a0a0a0"/>
<circle cx="381.4" cy="673.8" r="1.05" fill="#a0a0a0"/>
<circle cx="403.3" cy="609.9" r="1.05" fill="#a0a0a0"/>
<circle cx="382.0" cy="671.9" r="1.05" fill="#a0a0a0"/>
<circle cx="388.9" cy="654.2" r="1.05" fill="#a0a0a0"/>
<circle cx="406.3" cy="621.9" r="1.05" fill="#a0a0a0"/>
<circle cx="385.4" cy="680.3" r="1.05" fill="#a0a0a0"/>
<circle cx="417.8" cy="668.4" r="1.05" fill="#a0a0a0"/>
<circle cx="425.5" cy="674.9" r="1.05" fill="#a0a0a0"/>
<circle cx="413.1" cy="659.2" r="1.05" fill="#a0a0a0"/>
<circle cx="388.3" cy="642.8" r="1.05" fill="#a0a0a0"/>
<circle cx="386.8" cy="665.7" r="1.05" fill="#a0a0a0"/>
<circle cx="411.9" cy="659.3" r="1.05" fill="#a0a0a0"/>
<circle cx="412.3" cy="679.4" r="1.05" fill="#a0a0a0"/>
<circle cx="413.3" cy="681.5" r="1.05" fill="#a0a0a0"/>
<circle cx="406.2" cy="625.8" r="1.05" fill="#a0a0a0"/>
<circle cx="416.7" cy="677.5" r="1.05" fill="#a0a0a0"/>
<circle cx="384.7" cy="669.4" r="1.05" fill="#a0a0a0"/>
<circle cx="406.0" cy="682.6" r="1.05" fill="#a0a0a0"/>
<circle cx="416.1" cy="668.1" r="1.05" fill="#a0a0a0"/>
<circle cx="389.1" cy="636.7" r="1.05" fill="#a0a0a0"/>
<circle cx="407.0" cy="655.6" r="1.05" fill="#a0a0a0"/>
<circle cx="405.4" cy="644.0" r="1.05" fill="#a0a0a0"/>
<circle cx="425.7" cy="670.9" r="1.05" fill="#a0a0a0"/>
<circle cx="379.6" cy="664.9" r="1.05" fill="#a0a0a0"/>
<circle cx="413.1" cy="680.5" r="1.05" fill="#a0a0a0"/>
<circle cx="385.5" cy="672.1" r="1.05" fill="#a0a0a0"/>
<circle cx="378.7" cy="677.5" r="1.05" fill="#a0a0a0"/>
<circle cx="383.7" cy="679.4" r="1.05" fill="#a0a0a0"/>
<circle cx="380.2" cy="680.1" r="1.05" fill="#a0a0a0"/>
<circle cx="406.9" cy="646.6" r="1.05" fill="#a0a0a0"/>
<circle cx="388.8" cy="681.2" r="1.05" fill="#a0a0a0"/>
<circle cx="388.9" cy="651.9" r="1.05" fill="#a0a0a0"/>
<circle cx="409.4" cy="653.7" r="1.05" fill="#a0a0a0"/>
<circle cx="397.1" cy="601.8" r="1.05" fill="#a0a0a0"/>
<circle cx="413.9" cy="666.8" r="1.05" fill="#a0a0a0"/>
<circle cx="414.0" cy="662.1" r="1.05" fill="#a0a0a0"/>
<circle cx="411.1" cy="661.9" r="1.05" fill="#a0a0a0"/>
<circle cx="414.6" cy="656.0" r="1.05" fill="#a0a0a0"/>
<circle cx="398.1" cy="595.6" r="1.05" fill="#a0a0a0"/>
<circle cx="384.3" cy="666.0" r="1.05" fill="#a0a0a0"/>
<circle cx="406.8" cy="647.6" r="1.05" fill="#a0a0a0"/>
<circle cx="380.1" cy="676.0" r="1.05" fill="#a0a0a0"/>
<circle cx="393.2" cy="640.9" r="1.05" fill="#a0a0a0"/>
<circle cx="383.3" cy="679.6" r="1.05" fill="#a0a0a0"/>
<circle cx="381.4" cy="676.3" r="1.05" fill="#a0a0a0"/>
<circle cx="418.0" cy="669.6" r="1.05" fill="#a0a0a0"/>
<circle cx="384.4" cy="661.7" r="1.05" fill="#a0a0a0"/>
<circle cx="394.2" cy="635.0" r="1.05" fill="#a0a0a0"/>
<circle cx="389.6" cy="655.0" r="1.05" fill="#a0a0a0"/>
<circle cx="417.3" cy="659.2" r="1.05" fill="#a0a0a0"/>
<circle cx="384.3" cy="671.5" r="1.05" fill="#a0a0a0"/>
<circle cx="414.6" cy="662.7" r="1.05" fill="#a0a0a0"/>
<circle cx="398.1" cy="592.0" r="1.05" fill="#a0a0a0"/>
<circle cx="385.4" cy="658.7" r="1.05" fill="#a0a0a0"/>
<circle cx="393.7" cy="646.7" r="1.05" fill="#a0a0a0"/>
<circle cx="386.0" cy="655.3" r="1.05" fill="#a0a0a0"/>
<circle cx="386.4" cy="659.9" r="1.05" fill="#a0a0a0"/>
<circle cx="386.8" cy="661.8" r="1.05" fill="#a0a0a0"/>
<circle cx="404.4" cy="617.7" r="1.05" fill="#a0a0a0"/>
<circle cx="416.2" cy="665.1" r="1.05" fill="#a0a0a0"/>
<circle cx="385.3" cy="664.4" r="1.05" fill="#a0a0a0"/>
<circle cx="383.3" cy="669.6" r="1.05" fill="#a0a0a0"/>
<circle cx="385.1" cy="662.7" r="1.05" fill="#a0a0a0"/>
<circle cx="384.7" cy="678.7" r="1.05" fill="#a0a0a0"/>
<circle cx="413.5" cy="674.7" r="1.05" fill="#a0a0a0"/>
<circle cx="406.7" cy="649.6" r="1.05" fill="#a0a0a0"/>
<circle cx="409.0" cy="647.5" r="1.05" fill="#a0a0a0"/>
<circle cx="392.5" cy="641.7" r="1.05" fill="#a0a0a0"/>
<circle cx="407.2" cy="649.0" r="1.05" fill="#a0a0a0"/>
<circle cx="417.3" cy="665.8" r="1.05" fill="#a0a0a0"/>
<circle cx="391.2" cy="646.1" r="1.05" fill="#a0a0a0"/>
<circle cx="388.7" cy="679.6" r="1.05" fill="#a0a0a0"/>
<circle cx="407.2" cy="654.0" r="1.05" fill="#a0a0a0"/>
<circle cx="377.5" cy="669.1" r="1.05" fill="#a0a0a0"/>
<circle cx="408.4" cy="640.6" r="1.05" fill="#a0a0a0"/>
<circle cx="392.7" cy="636.2" r="1.05" fill="#a0a0a0"/>
<circle cx="409.0" cy="649.5" r="1.05" fill="#a0a0a0"/>
<circle cx="389.3" cy="641.0" r="1.05" fill="#a0a0a0"/>
<circle cx="382.6" cy="660.6" r="1.05" fill="#a0a0a0"/>
<circle cx="380.4" cy="671.2" r="1.05" fill="#a0a0a0"/>
<circle cx="392.5" cy="637.4" r="1.05" fill="#a0a0a0"/>
<circle cx="387.2" cy="658.9" r="1.05" fill="#a0a0a0"/>
<circle cx="412.8" cy="662.1" r="1.05" fill="#a0a0a0"/>
<circle cx="380.2" cy="668.0" r="1.05" fill="#a0a0a0"/>
<circle cx="380.7" cy="676.2" r="1.05" fill="#a0a0a0"/>
<circle cx="408.5" cy="637.0" r="1.05" fill="#a0a0a0"/>
<circle cx="381.7" cy="670.3" r="1.05" fill="#a0a0a0"/>
<circle cx="393.8" cy="623.5" r="1.05" fill="#a0a0a0"/>
<circle cx="383.9" cy="673.2" r="1.05" fill="#a0a0a0"/>
<circle cx="390.7" cy="645.5" r="1.05" fill="#a0a0a0"/>
<circle cx="420.4" cy="671.9" r="1.05" fill="#a0a0a0"/>
<circle cx="375.8" cy="668.9" r="1.05" fill="#a0a0a0"/>
<circle cx="411.5" cy="680.9" r="1.05" fill="#a0a0a0"/>
<circle cx="411.1" cy="681.1" r="1.05" fill="#a0a0a0"/>
<circle cx="388.5" cy="660.0" r="1.05" fill="#a0a0a0"/>
<circle cx="415.9" cy="679.3" r="1.05" fill="#a0a0a0"/>
<circle cx="396.0" cy="600.8" r="1.05" fill="#a0a0a0"/>
<circle cx="384.9" cy="660.5" r="1.05" fill="#a0a0a0"/>
<circle cx="393.4" cy="636.7" r="1.05" fill="#a0a0a0"/>
<circle cx="396.5" cy="596.6" r="1.05" fill="#a0a0a0"/>
<circle cx="382.0" cy="660.3" r="1.05" fill="#a0a0a0"/>
<circle cx="392.0" cy="654.2" r="1.05" fill="#a0a0a0"/>
<circle cx="409.6" cy="659.6" r="1.05" fill="#a0a0a0"/>
<circle cx="406.8" cy="652.5" r="1.05" fill="#a0a0a0"/>
<circle cx="406.8" cy="632.7" r="1.05" fill="#a0a0a0"/>
<circle cx="381.3" cy="670.5" r="1.05" fill="#a0a0a0"/>
<circle cx="412.8" cy="651.7" r="1.05" fill="#a0a0a0"/>
<circle cx="407.3" cy="650.3" r="1.05" fill="#a0a0a0"/>
<circle cx="406.0" cy="635.3" r="1.05" fill="#a0a0a0"/>
<circle cx="401.8" cy="599.1" r="1.05" fill="#a0a0a0"/>
<circle cx="379.0" cy="675.2" r="1.05" fill="#a0a0a0"/>
<circle cx="393.6" cy="643.7" r="1.05" fill="#a0a0a0"/>
<circle cx="390.1" cy="634.4" r="1.05" fill="#a0a0a0"/>
<circle cx="419.3" cy="675.0" r="1.05" fill="#a0a0a0"/>
<circle cx="411.4" cy="647.2" r="1.05" fill="#a0a0a0"/>
<circle cx="391.6" cy="651.5" r="1.05" fill="#a0a0a0"/>
<circle cx="376.8" cy="675.3" r="1.05" fill="#a0a0a0"/>
<circle cx="391.7" cy="637.4" r="1.05" fill="#a0a0a0"/>
<circle cx="417.1" cy="670.0" r="1.05" fill="#a0a0a0"/>
<circle cx="409.7" cy="654.3" r="1.05" fill="#a0a0a0"/>
<circle cx="410.6" cy="637.9" r="1.05" fill="#a0a0a0"/>
<circle cx="384.8" cy="668.6" r="1.05" fill="#a0a0a0"/>
<circle cx="405.7" cy="646.8" r="1.05" fill="#a0a0a0"/>
<circle cx="397.8" cy="599.0" r="1.05" fill="#a0a0a0"/>
<circle cx="385.4" cy="663.8" r="1.05" fill="#a0a0a0"/>
<circle cx="392.8" cy="654.9" r="1.05" fill="#a0a0a0"/>
<circle cx="408.0" cy="647.1" r="1.05" fill="#a0a0a0"/>
<circle cx="416.8" cy="664.9" r="1.05" fill="#a0a0a0"/>
<circle cx="403.8" cy="601.6" r="1.05" fill="#a0a0a0"/>
<circle cx="408.0" cy="649.6" r="1.05" fill="#a0a0a0"/>
<circle cx="406.7" cy="628.8" r="1.05" fill="#a0a0a0"/>
<circle cx="422.3" cy="664.3" r="1.05" fill="#a0a0a0"/>
<circle cx="408.2" cy="640.9" r="1.05" fill="#a0a0a0"/>
<circle cx="407.8" cy="627.0" r="1.05" fill="#a0a0a0"/>
<circle cx="408.6" cy="645.7" r="1.05" fill="#a0a0a0"/>
<circle cx="419.5" cy="675.8" r="1.05" fill="#a0a0a0"/>
<circle cx="406.4" cy="645.6" r="1.05" fill="#a0a0a0"/>
<circle cx="403.0" cy="625.6" r="1.05" fill="#a0a0a0"/>
<circle cx="415.2" cy="668.0" r="1.05" fill="#a0a0a0"/>
<circle cx="412.4" cy="654.3" r="1.05" fill="#a0a0a0"/>
<circle cx="414.2" cy="659.6" r="1.05" fill="#a0a0a0"/>
<circle cx="379.7" cy="677.4" r="1.05" fill="#a0a0a0"/>
<circle cx="405.0" cy="643.9" r="1.05" fill="#a0a0a0"/>
<circle cx="374.5" cy="674.0" r="1.05" fill="#a0a0a0"/>
<circle cx="393.3" cy="634.5" r="1.05" fill="#a0a0a0"/>
<circle cx="385.2" cy="660.4" r="1.05" fill="#a0a0a0"/>
<circle cx="384.8" cy="676.8" r="1.05" fill="#a0a0a0"/>
<circle cx="420.3" cy="678.9" r="1.05" fill="#a0a0a0"/>
<circle cx="411.8" cy="663.7" r="1.05" fill="#a0a0a0"/>
<circle cx="409.3" cy="682.3" r="1.05" fill="#a0a0a0"/>
<circle cx="392.0" cy="627.7" r="1.05" fill="#a0a0a0"/>
<circle cx="394.1" cy="628.5" r="1.05" fill="#a0a0a0"/>
<circle cx="379.9" cy="661.9" r="1.05" fill="#a0a0a0"/>
<circle cx="421.9" cy="668.7" r="1.05" fill="#a0a0a0"/>
<circle cx="383.1" cy="668.0" r="1.05" fill="#a0a0a0"/>
<circle cx="386.8" cy="657.5" r="1.05" fill="#a0a0a0"/>
<circle cx="389.9" cy="639.4" r="1.05" fill="#a0a0a0"/>
<circle cx="377.2" cy="669.3" r="1.05" fill="#a0a0a0"/>
<circle cx="410.3" cy="681.9" r="1.05" fill="#a0a0a0"/>
<circle cx="404.8" cy="615.7" r="1.05" fill="#a0a0a0"/>
<circle cx="423.8" cy="670.9" r="1.05" fill="#a0a0a0"/>
<circle cx="392.4" cy="620.3" r="1.05" fill="#a0a0a0"/>
<circle cx="415.2" cy="681.8" r="1.05" fill="#a0a0a0"/>
<circle cx="383.3" cy="664.8" r="1.05" fill="#a0a0a0"/>
<circle cx="382.0" cy="667.2" r="1.05" fill="#a0a0a0"/>
<circle cx="414.0" cy="674.0" r="1.05" fill="#a0a0a0"/>
<circle cx="382.2" cy="678.1" r="1.05" fill="#a0a0a0"/>
<circle cx="409.4" cy="644.1" r="1.05" fill="#a0a0a0"/>
<circle cx="377.4" cy="667.0" r="1.05" fill="#a0a0a0"/>
<circle cx="408.7" cy="640.4" r="1.05" fill="#a0a0a0"/>
<circle cx="389.5" cy="639.7" r="1.05" fill="#a0a0a0"/>
<circle cx="416.7" cy="665.5" r="1.05" fill="#a0a0a0"/>
<circle cx="393.0" cy="634.4" r="1.05" fill="#a0a0a0"/>
<circle cx="415.8" cy="673.6" r="1.05" fill="#a0a0a0"/>
<circle cx="409.6" cy="647.7" r="1.05" fill="#a0a0a0"/>
<circle cx="390.3" cy="653.1" r="1.05" fill="#a0a0a0"/>
<circle cx="395.7" cy="603.9" r="1.05" fill="#a0a0a0"/>
<circle cx="385.6" cy="661.5" r="1.05" fill="#a0a0a0"/>
<circle cx="418.6" cy="671.3" r="1.05" fill="#a0a0a0"/>
<circle cx="415.0" cy="664.5" r="1.05" fill="#a0a0a0"/>
<circle cx="413.6" cy="659.8" r="1.05" fill="#a0a0a0"/>
<circle cx="403.3" cy="623.3" r="1.05" fill="#a0a0a0"/>
<circle cx="392.4" cy="635.7" r="1.05" fill="#a0a0a0"/>
<circle cx="384.8" cy="665.9" r="1.05" fill="#a0a0a0"/>
<circle cx="385.9" cy="673.9" r="1.05" fill="#a0a0a0"/>
<circle cx="394.1" cy="612.9" r="1.05" fill="#a0a0a0"/>
<circle cx="387.3" cy="666.7" r="1.05" fill="#a0a0a0"/>
<circle cx="420.4" cy="674.0" r="1.05" fill="#a0a0a0"/>
<circle cx="422.9" cy="667.9" r="1.05" fill="#a0a0a0"/>
<circle cx="419.3" cy="676.8" r="1.05" fill="#a0a0a0"/>
<circle cx="418.9" cy="677.4" r="1.05" fill="#a0a0a0"/>
<circle cx="414.5" cy="658.5" r="1.05" fill="#a0a0a0"/>
<circle cx="392.1" cy="643.0" r="1.05" fill="#a0a0a0"/>
<circle cx="411.6" cy="663.9" r="1.05" fill="#a0a0a0"/>
<circle cx="394.2" cy="629.5" r="1.05" fill="#a0a0a0"/>
<circle cx="416.7" cy="661.6" r="1.05" fill="#a0a0a0"/>
<circle cx="380.1" cy="663.4" r="1.05" fill="#a0a0a0"/>
<circle cx="408.2" cy="659.9" r="1.05" fill="#a0a0a0"/>
<circle cx="392.5" cy="644.9" r="1.05" fill="#a0a0a0"/>
<circle cx="396.4" cy="591.9" r="1.05" fill="#a0a0a0"/>
<circle cx="425.9" cy="675.0" r="1.05" fill="#a0a0a0"/>
<circle cx="414.2" cy="680.6" r="1.05" fill="#a0a0a0"/>
<circle cx="390.2" cy="652.9" r="1.05" fill="#a0a0a0"/>
<circle cx="394.7" cy="610.1" r="1.05" fill="#a0a0a0"/>
<circle cx="394.7" cy="628.1" r="1.05" fill="#a0a0a0"/>
<circle cx="387.8" cy="659.9" r="1.05" fill="#a0a0a0"/>
<circle cx="416.0" cy="672.5" r="1.05" fill="#a0a0a0"/>
<circle cx="407.6" cy="647.5" r="1.05" fill="#a0a0a0"/>
<circle cx="413.6" cy="679.1" r="1.05" fill="#a0a0a0"/>
<circle cx="421.4" cy="667.3" r="1.05" fill="#a0a0a0"/>
<circle cx="418.0" cy="674.6" r="1.05" fill="#a0a0a0"/>
<circle cx="405.9" cy="645.1" r="1.05" fill="#a0a0a0"/>
<circle cx="384.9" cy="675.6" r="1.05" fill="#a0a0a0"/>
<circle cx="376.5" cy="666.7" r="1.05" fill="#a0a0a0"/>
<circle cx="402.0" cy="595.9" r="1.05" fill="#a0a0a0"/>
<circle cx="412.7" cy="658.3" r="1.05" fill="#a0a0a0"/>
<circle cx="390.6" cy="681.7" r="1.05" fill="#a0a0a0"/>
<circle cx="386.4" cy="680.0" r="1.05" fill="#a0a0a0"/>
<circle cx="387.3" cy="655.5" r="1.05" fill="#a0a0a0"/>
<circle cx="392.9" cy="629.3" r="1.05" fill="#a0a0a0"/>
<circle cx="411.6" cy="654.3" r="1.05" fill="#a0a0a0"/>
<circle cx="406.4" cy="646.1" r="1.05" fill="#a0a0a0"/>
<circle cx="410.6" cy="681.3" r="1.05" fill="#a0a0a0"/>
<circle cx="416.9" cy="676.7" r="1.05" fill="#a0a0a0"/>
<circle cx="379.3" cy="671.3" r="1.05" fill="#a0a0a0"/>
<circle cx="392.2" cy="651.3" r="1.05" fill="#a0a0a0"/>
<circle cx="384.3" cy="659.8" r="1.05" fill="#a0a0a0"/>
<circle cx="404.0" cy="598.8" r="1.05" fill="#a0a0a0"/>
<circle cx="390.3" cy="646.4" r="1.05" fill="#a0a0a0"/>
<circle cx="389.6" cy="641.6" r="1.05" fill="#a0a0a0"/>
<circle cx="403.2" cy="599.9" r="1.05" fill="#a0a0a0"/>
<circle cx="389.2" cy="651.5" r="1.05" fill="#a0a0a0"/>
<circle cx="380.0" cy="677.5" r="1.05" fill="#a0a0a0"/>
<circle cx="401.6" cy="602.0" r="1.05" fill="#a0a0a0"/>
<circle cx="412.1" cy="658.9" r="1.05" fill="#a0a0a0"/>
<circle cx="413.5" cy="664.0" r="1.05" fill="#a0a0a0"/>
<circle cx="413.9" cy="668.5" r="1.05" fill="#a0a0a0"/>
<circle cx="415.7" cy="679.8" r="1.05" fill="#a0a0a0"/>
<circle cx="418.5" cy="669.1" r="1.05" fill="#a0a0a0"/>
<circle cx="422.0" cy="668.0" r="1.05" fill="#a0a0a0"/>
<circle cx="396.1" cy="610.0" r="1.05" fill="#a0a0a0"/>
<circle cx="418.4" cy="665.0" r="1.05" fill="#a0a0a0"/>
<circle cx="389.3" cy="657.8" r="1.05" fill="#a0a0a0"/>
<circle cx="417.7" cy="668.0" r="1.05" fill="#a0a0a0"/>
<circle cx="390.4" cy="633.5" r="1.05" fill="#a0a0a0"/>
<circle cx="403.5" cy="603.8" r="1.05" fill="#a0a0a0"/>
<circle cx="380.4" cy="663.3" r="1.05" fill="#a0a0a0"/>
<circle cx="410.6" cy="657.0" r="1.05" fill="#a0a0a0"/>
<circle cx="403.9" cy="591.8" r="1.05" fill="#a0a0a0"/>
<circle cx="412.1" cy="667.8" r="1.05" fill="#a0a0a0"/>
<circle cx="381.9" cy="669.6" r="1.05" fill="#a0a0a0"/>
<circle cx="392.4" cy="646.5" r="1.05" fill="#a0a0a0"/>
<circle cx="386.5" cy="681.6" r="1.05" fill="#a0a0a0"/>
<circle cx="413.5" cy="661.9" r="1.05" fill="#a0a0a0"/>
<circle cx="415.3" cy="663.3" r="1.05" fill="#a0a0a0"/>
<circle cx="396.4" cy="595.5" r="1.05" fill="#a0a0a0"/>
<circle cx="418.4" cy="666.0" r="1.05" fill="#a0a0a0"/>
<circle cx="420.9" cy="671.2" r="1.05" fill="#a0a0a0"/>
<circle cx="386.4" cy="663.5" r="1.05" fill="#a0a0a0"/>
<circle cx="409.5" cy="640.2" r="1.05" fill="#a0a0a0"/>
<circle cx="406.3" cy="647.0" r="1.05" fill="#a0a0a0"/>
<circle cx="420.3" cy="668.6" r="1.05" fill="#a0a0a0"/>
<circle cx="414.5" cy="666.5" r="1.05" fill="#a0a0a0"/>
<circle cx="416.9" cy="672.6" r="1.05" fill="#a0a0a0"/>
<circle cx="389.7" cy="631.3" r="1.05" fill="#a0a0a0"/>
<circle cx="384.4" cy="655.7" r="1.05" fill="#a0a0a0"/>
<circle cx="388.2" cy="680.5" r="1.05" fill="#a0a0a0"/>
<circle cx="418.5" cy="671.5" r="1.05" fill="#a0a0a0"/>
<circle cx="406.3" cy="638.1" r="1.05" fill="#a0a0a0"/>
<circle cx="386.4" cy="655.6" r="1.05" fill="#a0a0a0"/>
<circle cx="411.7" cy="681.8" r="1.05" fill="#a0a0a0"/>
<circle cx="379.7" cy="672.8" r="1.05" fill="#a0a0a0"/>
<circle cx="385.3" cy="652.7" r="1.05" fill="#a0a0a0"/>
<circle cx="387.3" cy="661.8" r="1.05" fill="#a0a0a0"/>
<circle cx="420.8" cy="677.1" r="1.05" fill="#a0a0a0"/>
<circle cx="395.4" cy="622.9" r="1.05" fill="#a0a0a0"/>
<circle cx="389.7" cy="649.3" r="1.05" fill="#a0a0a0"/>
<circle cx="416.4" cy="677.9" r="1.05" fill="#a0a0a0"/>
<circle cx="377.0" cy="665.1" r="1.05" fill="#a0a0a0"/>
<circle cx="421.2" cy="671.4" r="1.05" fill="#a0a0a0"/>
<circle cx="418.1" cy="669.6" r="1.05" fill="#a0a0a0"/>
<circle cx="384.9" cy="663.6" r="1.05" fill="#a0a0a0"/>
<circle cx="411.4" cy="658.7" r="1.05" fill="#a0a0a0"/>
<circle cx="393.2" cy="640.9" r="1.05" fill="#a0a0a0"/>
<circle cx="390.0" cy="636.0" r="1.05" fill="#a0a0a0"/>
<circle cx="416.6" cy="671.0" r="1.05" fill="#a0a0a0"/>
<circle cx="409.7" cy="653.5" r="1.05" fill="#a0a0a0"/>
<circle cx="405.4" cy="623.2" r="1.05" fill="#a0a0a0"/>
<circle cx="396.8" cy="595.3" r="1.05" fill="#a0a0a0"/>
<circle cx="414.0" cy="661.7" r="1.05" fill="#a0a0a0"/>
<circle cx="397.3" cy="593.8" r="1.05" fill="#a0a0a0"/>
<circle cx="415.2" cy="665.1" r="1.05" fill="#a0a0a0"/>
<circle cx="411.1" cy="657.5" r="1.05" fill="#a0a0a0"/>
<circle cx="393.7" cy="634.0" r="1.05" fill="#a0a0a0"/>
<circle cx="395.6" cy="599.9" r="1.05" fill="#a0a0a0"/>
<circle cx="388.8" cy="656.4" r="1.05" fill="#a0a0a0"/>
<circle cx="421.5" cy="670.4" r="1.05" fill="#a0a0a0"/>
<circle cx="417.7" cy="664.2" r="1.05" fill="#a0a0a0"/>
<circle cx="422.6" cy="672.1" r="1.05" fill="#a0a0a0"/>
<circle cx="389.4" cy="646.8" r="1.05" fill="#a0a0a0"/>
<circle cx="414.6" cy="664.6" r="1.05" fill="#a0a0a0"/>
<circle cx="417.2" cy="670.8" r="1.05" fill="#a0a0a0"/>
<circle cx="387.0" cy="653.8" r="1.05" fill="#a0a0a0"/>
<circle cx="419.8" cy="670.1" r="1.05" fill="#a0a0a0"/>
<circle cx="402.4" cy="592.3" r="1.05" fill="#a0a0a0"/>
<circle cx="393.7" cy="628.0" r="1.05" fill="#a0a0a0"/>
<circle cx="407.9" cy="637.8" r="1.05" fill="#a0a0a0"/>
<circle cx="413.3" cy="660.9" r="1.05" fill="#a0a0a0"/>
<circle cx="417.1" cy="676.1" r="1.05" fill="#a0a0a0"/>
<circle cx="389.3" cy="650.7" r="1.05" fill="#a0a0a0"/>
<circle cx="389.7" cy="645.7" r="1.05" fill="#a0a0a0"/>
<circle cx="391.5" cy="619.2" r="1.05" fill="#a0a0a0"/>
<circle cx="393.7" cy="640.3" r="1.05" fill="#a0a0a0"/>
<circle cx="390.4" cy="655.8" r="1.05" fill="#a0a0a0"/>
<circle cx="407.8" cy="635.7" r="1.05" fill="#a0a0a0"/>
<circle cx="392.9" cy="644.4" r="1.05" fill="#a0a0a0"/>
<circle cx="412.4" cy="664.2" r="1.05" fill="#a0a0a0"/>
<circle cx="418.7" cy="676.4" r="1.05" fill="#a0a0a0"/>
<circle cx="389.9" cy="646.1" r="1.05" fill="#a0a0a0"/>
<circle cx="418.9" cy="671.1" r="1.05" fill="#a0a0a0"/>
<circle cx="385.1" cy="656.9" r="1.05" fill="#a0a0a0"/>
<circle cx="393.9" cy="609.2" r="1.05" fill="#a0a0a0"/>
<circle cx="406.9" cy="642.4" r="1.05" fill="#a0a0a0"/>
<circle cx="418.0" cy="675.9" r="1.05" fill="#a0a0a0"/>
<circle cx="402.5" cy="594.3" r="1.05" fill="#a0a0a0"/>
<circle cx="398.6" cy="591.2" r="1.05" fill="#a0a0a0"/>
<circle cx="377.7" cy="672.2" r="1.05" fill="#a0a0a0"/>
<circle cx="409.1" cy="657.3" r="1.05" fill="#a0a0a0"/>
<circle cx="408.7" cy="649.4" r="1.05" fill="#a0a0a0"/>
<circle cx="376.2" cy="672.6" r="1.05" fill="#a0a0a0"/>
<circle cx="393.0" cy="630.9" r="1.05" fill="#a0a0a0"/>
<circle cx="403.7" cy="599.4" r="1.05" fill="#a0a0a0"/>
<circle cx="392.2" cy="632.8" r="1.05" fill="#a0a0a0"/>
<circle cx="412.3" cy="662.4" r="1.05" fill="#a0a0a0"/>
<circle cx="411.5" cy="647.0" r="1.05" fill="#a0a0a0"/>
<circle cx="383.2" cy="663.1" r="1.05" fill="#a0a0a0"/>
<circle cx="381.4" cy="680.0" r="1.05" fill="#a0a0a0"/>
<circle cx="391.1" cy="626.7" r="1.05" fill="#a0a0a0"/>
<circle cx="388.4" cy="663.9" r="1.05" fill="#a0a0a0"/>
<circle cx="386.4" cy="664.4" r="1.05" fill="#a0a0a0"/>
<circle cx="387.9" cy="651.0" r="1.05" fill="#a0a0a0"/>
<circle cx="379.2" cy="667.4" r="1.05" fill="#a0a0a0"/>
<circle cx="398.1" cy="595.9" r="1.05" fill="#a0a0a0"/>
<circle cx="393.0" cy="635.2" r="1.05" fill="#a0a0a0"/>
<circle cx="382.0" cy="676.0" r="1.05" fill="#a0a0a0"/>
<circle cx="383.5" cy="667.2" r="1.05" fill="#a0a0a0"/>
<circle cx="409.1" cy="659.3" r="1.05" fill="#a0a0a0"/>
<circle cx="387.7" cy="656.8" r="1.05" fill="#a0a0a0"/>
<circle cx="391.9" cy="641.2" r="1.05" fill="#a0a0a0"/>
<circle cx="406.5" cy="646.5" r="1.05" fill="#a0a0a0"/>
<circle cx="379.8" cy="680.0" r="1.05" fill="#a0a0a0"/>
<circle cx="394.3" cy="621.4" r="1.05" fill="#a0a0a0"/>
<circle cx="378.6" cy="675.8" r="1.05" fill="#a0a0a0"/>
<circle cx="411.7" cy="679.9" r="1.05" fill="#a0a0a0"/>
<circle cx="406.1" cy="633.7" r="1.05" fill="#a0a0a0"/>
<circle cx="376.4" cy="671.7" r="1.05" fill="#a0a0a0"/>
<circle cx="392.3" cy="633.5" r="1.05" fill="#a0a0a0"/>
<circle cx="390.7" cy="638.1" r="1.05" fill="#a0a0a0"/>
<circle cx="383.0" cy="676.7" r="1.05" fill="#a0a0a0"/>
<circle cx="416.0" cy="661.8" r="1.05" fill="#a0a0a0"/>
<circle cx="380.4" cy="668.2" r="1.05" fill="#a0a0a0"/>
<circle cx="389.2" cy="658.1" r="1.05" fill="#a0a0a0"/>
<circle cx="416.7" cy="667.2" r="1.05" fill="#a0a0a0"/>
<circle cx="381.3" cy="665.5" r="1.05" fill="#a0a0a0"/>
<circle cx="402.9" cy="598.6" r="1.05" fill="#a0a0a0"/>
<circle cx="419.6" cy="669.9" r="1.05" fill="#a0a0a0"/>
<circle cx="382.0" cy="663.4" r="1.05" fill="#a0a0a0"/>
<circle cx="418.8" cy="669.7" r="1.05" fill="#a0a0a0"/>
<circle cx="409.5" cy="663.4" r="1.05" fill="#a0a0a0"/>
<circle cx="389.7" cy="654.8" r="1.05" fill="#a0a0a0"/>
<circle cx="422.0" cy="675.7" r="1.05" fill="#a0a0a0"/>
<circle cx="415.7" cy="659.7" r="1.05" fill="#a0a0a0"/>
<circle cx="389.3" cy="655.5" r="1.05" fill="#a0a0a0"/>
<circle cx="392.4" cy="609.6" r="1.05" fill="#a0a0a0"/>
<circle cx="391.3" cy="640.9" r="1.05" fill="#a0a0a0"/>
<circle cx="405.9" cy="646.7" r="1.05" fill="#a0a0a0"/>
<circle cx="395.9" cy="605.9" r="1.05" fill="#a0a0a0"/>
<circle cx="386.0" cy="662.3" r="1.05" fill="#a0a0a0"/>
<circle cx="383.6" cy="667.2" r="1.05" fill="#a0a0a0"/>
<circle cx="418.0" cy="666.6" r="1.05" fill="#a0a0a0"/>
<circle cx="407.3" cy="655.8" r="1.05" fill="#a0a0a0"/>
<circle cx="419.9" cy="671.1" r="1.05" fill="#a0a0a0"/>
<circle cx="385.1" cy="670.4" r="1.05" fill="#a0a0a0"/>
<circle cx="385.8" cy="662.1" r="1.05" fill="#a0a0a0"/>
<circle cx="383.2" cy="662.7" r="1.05" fill="#a0a0a0"/>
<circle cx="381.1" cy="671.7" r="1.05" fill="#a0a0a0"/>
<circle cx="375.9" cy="678.1" r="1.05" fill="#a0a0a0"/>
<circle cx="385.7" cy="663.0" r="1.05" fill="#a0a0a0"/>
<circle cx="401.5" cy="594.6" r="1.05" fill="#a0a0a0"/>
<circle cx="377.9" cy="675.2" r="1.05" fill="#a0a0a0"/>
<circle cx="382.0" cy="675.0" r="1.05" fill="#a0a0a0"/>
<circle cx="415.5" cy="659.3" r="1.05" fill="#a0a0a0"/>
<circle cx="394.5" cy="601.9" r="1.05" fill="#a0a0a0"/>
<circle cx="411.7" cy="654.0" r="1.05" fill="#a0a0a0"/>
<circle cx="401.7" cy="605.2" r="1.05" fill="#a0a0a0"/>
<circle cx="407.7" cy="647.9" r="1.05" fill="#a0a0a0"/>
<circle cx="390.2" cy="639.5" r="1.05" fill="#a0a0a0"/>
<circle cx="394.3" cy="613.0" r="1.05" fill="#a0a0a0"/>
<circle cx="387.5" cy="680.8" r="1.05" fill="#a0a0a0"/>
<circle cx="390.2" cy="632.4" r="1.05" fill="#a0a0a0"/>
<circle cx="405.7" cy="614.7" r="1.05" fill="#a0a0a0"/>
<circle cx="404.9" cy="613.9" r="1.05" fill="#a0a0a0"/>
<circle cx="402.4" cy="605.1" r="1.05" fill="#a0a0a0"/>
<circle cx="403.6" cy="601.4" r="1.05" fill="#a0a0a0"/>
<circle cx="388.1" cy="654.0" r="1.05" fill="#a0a0a0"/>
<circle cx="413.7" cy="680.9" r="1.05" fill="#a0a0a0"/>
<circle cx="417.4" cy="677.1" r="1.05" fill="#a0a0a0"/>
<circle cx="420.2" cy="669.3" r="1.05" fill="#a0a0a0"/>
<circle cx="414.6" cy="658.7" r="1.05" fill="#a0a0a0"/>
<circle cx="418.9" cy="671.4" r="1.05" fill="#a0a0a0"/>
<circle cx="379.4" cy="669.8" r="1.05" fill="#a0a0a0"/>
<circle cx="384.5" cy="660.7" r="1.05" fill="#a0a0a0"/>
<circle cx="393.7" cy="610.6" r="1.05" fill="#a0a0a0"/>
<circle cx="399.3" cy="601.1" r="1.05" fill="#a0a0a0"/>
<circle cx="398.7" cy="630.0" r="1.05" fill="#a0a0a0"/>
<circle cx="394.9" cy="638.7" r="1.05" fill="#a0a0a0"/>
<circle cx="403.1" cy="623.7" r="1.05" fill="#a0a0a0"/>
<circle cx="403.4" cy="616.6" r="1.05" fill="#a0a0a0"/>
<circle cx="404.0" cy="626.7" r="1.05" fill="#a0a0a0"/>
<circle cx="394.8" cy="636.5" r="1.05" fill="#a0a0a0"/>
<circle cx="401.3" cy="636.3" r="1.05" fill="#a0a0a0"/>
<circle cx="393.7" cy="637.8" r="1.05" fill="#a0a0a0"/>
<circle cx="402.7" cy="616.7" r="1.05" fill="#a0a0a0"/>
<circle cx="394.6" cy="614.8" r="1.05" fill="#a0a0a0"/>
<circle cx="402.9" cy="608.1" r="1.05" fill="#a0a0a0"/>
<circle cx="395.5" cy="622.7" r="1.05" fill="#a0a0a0"/>
<circle cx="393.2" cy="641.4" r="1.05" fill="#a0a0a0"/>
<circle cx="398.2" cy="634.0" r="1.05" fill="#a0a0a0"/>
<circle cx="397.6" cy="606.1" r="1.05" fill="#a0a0a0"/>
<circle cx="401.9" cy="628.7" r="1.05" fill="#a0a0a0"/>
<circle cx="399.9" cy="587.0" r="1.05" fill="#a0a0a0"/>
<circle cx="399.5" cy="633.3" r="1.05" fill="#a0a0a0"/>
<circle cx="403.8" cy="623.1" r="1.05" fill="#a0a0a0"/>
<circle cx="394.2" cy="619.9" r="1.05" fill="#a0a0a0"/>
<circle cx="402.3" cy="605.1" r="1.05" fill="#a0a0a0"/>
<circle cx="392.2" cy="637.8" r="1.05" fill="#a0a0a0"/>
<circle cx="395.2" cy="629.5" r="1.05" fill="#a0a0a0"/>
<circle cx="399.5" cy="613.8" r="1.05" fill="#a0a0a0"/>
<circle cx="398.9" cy="642.7" r="1.05" fill="#a0a0a0"/>
<circle cx="396.5" cy="605.0" r="1.05" fill="#a0a0a0"/>
<circle cx="393.0" cy="627.9" r="1.05" fill="#a0a0a0"/>
<circle cx="397.3" cy="626.1" r="1.05" fill="#a0a0a0"/>
<circle cx="397.7" cy="587.6" r="1.05" fill="#a0a0a0"/>
<circle cx="397.8" cy="618.1" r="1.05" fill="#a0a0a0"/>
<circle cx="400.4" cy="606.8" r="1.05" fill="#a0a0a0"/>
<circle cx="400.3" cy="636.2" r="1.05" fill="#a0a0a0"/>
<circle cx="398.2" cy="608.1" r="1.05" fill="#a0a0a0"/>
<circle cx="398.9" cy="592.1" r="1.05" fill="#a0a0a0"/>
<circle cx="403.6" cy="613.1" r="1.05" fill="#a0a0a0"/>
<circle cx="395.3" cy="615.8" r="1.05" fill="#a0a0a0"/>
<circle cx="402.7" cy="617.4" r="1.05" fill="#a0a0a0"/>
<circle cx="401.8" cy="638.2" r="1.05" fill="#a0a0a0"/>
<circle cx="393.1" cy="627.4" r="1.05" fill="#a0a0a0"/>
<circle cx="402.7" cy="641.0" r="1.05" fill="#a0a0a0"/>
<circle cx="400.0" cy="631.3" r="1.05" fill="#a0a0a0"/>
<circle cx="398.3" cy="600.5" r="1.05" fill="#a0a0a0"/>
<circle cx="395.7" cy="634.5" r="1.05" fill="#a0a0a0"/>
<circle cx="394.7" cy="631.4" r="1.05" fill="#a0a0a0"/>
<circle cx="403.0" cy="617.9" r="1.05" fill="#a0a0a0"/>
<circle cx="393.1" cy="640.9" r="1.05" fill="#a0a0a0"/>
<circle cx="401.1" cy="623.6" r="1.05" fill="#a0a0a0"/>
<circle cx="395.4" cy="609.7" r="1.05" fill="#a0a0a0"/>
<circle cx="393.8" cy="622.1" r="1.05" fill="#a0a0a0"/>
<circle cx="403.4" cy="640.7" r="1.05" fill="#a0a0a0"/>
<circle cx="402.1" cy="605.9" r="1.05" fill="#a0a0a0"/>
<circle cx="400.6" cy="615.2" r="1.05" fill="#a0a0a0"/>
<circle cx="402.8" cy="610.9" r="1.05" fill="#a0a0a0"/>
<circle cx="400.6" cy="624.8" r="1.05" fill="#a0a0a0"/>
<circle cx="404.1" cy="630.9" r="1.05" fill="#a0a0a0"/>
<circle cx="397.7" cy="627.7" r="1.05" fill="#a0a0a0"/>
<circle cx="396.4" cy="629.2" r="1.05" fill="#a0a0a0"/>
<circle cx="398.8" cy="614.3" r="1.05" fill="#a0a0a0"/>
<circle cx="401.9" cy="617.0" r="1.05" fill="#a0a0a0"/>
<circle cx="396.8" cy="638.1" r="1.05" fill="#a0a0a0"/>
<circle cx="400.3" cy="609.6" r="1.05" fill="#a0a0a0"/>
<circle cx="400.8" cy="625.0" r="1.05" fill="#a0a0a0"/>
<circle cx="396.8" cy="605.5" r="1.05" fill="#a0a0a0"/>
<circle cx="400.1" cy="621.9" r="1.05" fill="#a0a0a0"/>
<circle cx="399.9" cy="602.9" r="1.05" fill="#a0a0a0"/>
<circle cx="406.1" cy="629.8" r="1.05" fill="#a0a0a0"/>
<circle cx="395.2" cy="622.5" r="1.05" fill="#a0a0a0"/>
<circle cx="396.4" cy="626.0" r="1.05" fill="#a0a0a0"/>
<circle cx="402.2" cy="614.3" r="1.05" fill="#a0a0a0"/>
<circle cx="395.1" cy="627.3" r="1.05" fill="#a0a0a0"/>
<circle cx="399.3" cy="625.7" r="1.05" fill="#a0a0a0"/>
<circle cx="398.9" cy="608.0" r="1.05" fill="#a0a0a0"/>
<circle cx="393.9" cy="621.4" r="1.05" fill="#a0a0a0"/>
<circle cx="402.6" cy="616.2" r="1.05" fill="#a0a0a0"/>
<circle cx="396.6" cy="631.0" r="1.05" fill="#a0a0a0"/>
<circle cx="401.8" cy="623.9" r="1.05" fill="#a0a0a0"/>
<circle cx="399.8" cy="628.6" r="1.05" fill="#a0a0a0"/>
<circle cx="400.4" cy="632.8" r="1.05" fill="#a0a0a0"/>
<circle cx="398.0" cy="588.5" r="1.05" fill="#a0a0a0"/>
<circle cx="399.7" cy="606.8" r="1.05" fill="#a0a0a0"/>
<circle cx="404.0" cy="632.5" r="1.05" fill="#a0a0a0"/>
<circle cx="396.1" cy="613.2" r="1.05" fill="#a0a0a0"/>
<circle cx="402.4" cy="627.0" r="1.05" fill="#a0a0a0"/>
<circle cx="399.8" cy="608.0" r="1.05" fill="#a0a0a0"/>
<circle cx="403.1" cy="642.3" r="1.05" fill="#a0a0a0"/>
<circle cx="400.0" cy="606.0" r="1.05" fill="#a0a0a0"/>
<circle cx="404.8" cy="635.4" r="1.05" fill="#a0a0a0"/>
<circle cx="398.3" cy="608.1" r="1.05" fill="#a0a0a0"/>
<circle cx="400.6" cy="610.6" r="1.05" fill="#a0a0a0"/>
<circle cx="404.7" cy="620.9" r="1.05" fill="#a0a0a0"/>
<circle cx="399.6" cy="603.8" r="1.05" fill="#a0a0a0"/>
<circle cx="400.5" cy="590.8" r="1.05" fill="#a0a0a0"/>
<circle cx="404.1" cy="624.9" r="1.05" fill="#a0a0a0"/>
<circle cx="398.4" cy="626.1" r="1.05" fill="#a0a0a0"/>
<circle cx="396.4" cy="605.1" r="1.05" fill="#a0a0a0"/>
<circle cx="403.0" cy="633.1" r="1.05" fill="#a0a0a0"/>
<circle cx="396.6" cy="622.3" r="1.05" fill="#a0a0a0"/>
<circle cx="402.5" cy="626.4" r="1.05" fill="#a0a0a0"/>
<circle cx="403.9" cy="632.4" r="1.05" fill="#a0a0a0"/>
<circle cx="397.0" cy="604.4" r="1.05" fill="#a0a0a0"/>
<circle cx="399.2" cy="618.8" r="1.05" fill="#a0a0a0"/>
<circle cx="400.4" cy="592.0" r="1.05" fill="#a0a0a0"/>
<circle cx="393.3" cy="641.4" r="1.05" fill="#a0a0a0"/>
<circle cx="397.2" cy="626.9" r="1.05" fill="#a0a0a0"/>
<circle cx="401.9" cy="620.2" r="1.05" fill="#a0a0a0"/>
<circle cx="401.4" cy="615.7" r="1.05" fill="#a0a0a0"/>
<circle cx="402.7" cy="615.1" r="1.05" fill="#a0a0a0"/>
<circle cx="395.6" cy="614.6" r="1.05" fill="#a0a0a0"/>
<circle cx="397.8" cy="623.3" r="1.05" fill="#a0a0a0"/>
<circle cx="404.7" cy="632.2" r="1.05" fill="#a0a0a0"/>
<circle cx="394.3" cy="629.8" r="1.05" fill="#a0a0a0"/>
<circle cx="402.6" cy="614.2" r="1.05" fill="#a0a0a0"/>
<circle cx="395.1" cy="613.4" r="1.05" fill="#a0a0a0"/>
<circle cx="406.7" cy="641.8" r="1.05" fill="#a0a0a0"/>
<circle cx="405.0" cy="634.4" r="1.05" fill="#a0a0a0"/>
<circle cx="402.7" cy="619.9" r="1.05" fill="#a0a0a0"/>
<circle cx="397.4" cy="636.3" r="1.05" fill="#a0a0a0"/>
<circle cx="399.8" cy="631.6" r="1.05" fill="#a0a0a0"/>
<circle cx="399.1" cy="622.6" r="1.05" fill="#a0a0a0"/>
<circle cx="402.2" cy="605.5" r="1.05" fill="#a0a0a0"/>
<circle cx="403.2" cy="611.9" r="1.05" fill="#a0a0a0"/>
<circle cx="395.1" cy="616.6" r="1.05" fill="#a0a0a0"/>
<circle cx="401.0" cy="639.3" r="1.05" fill="#a0a0a0"/>
<circle cx="395.2" cy="641.1" r="1.05" fill="#a0a0a0"/>
<circle cx="405.2" cy="628.5" r="1.05" fill="#a0a0a0"/>
<circle cx="397.9" cy="623.7" r="1.05" fill="#a0a0a0"/>
<circle cx="393.8" cy="640.4" r="1.05" fill="#a0a0a0"/>
<circle cx="396.1" cy="626.1" r="1.05" fill="#a0a0a0"/>
<circle cx="405.3" cy="624.1" r="1.05" fill="#a0a0a0"/>
<circle cx="394.8" cy="637.1" r="1.05" fill="#a0a0a0"/>
<circle cx="402.6" cy="628.7" r="1.05" fill="#a0a0a0"/>
<circle cx="399.5" cy="627.7" r="1.05" fill="#a0a0a0"/>
<circle cx="396.2" cy="617.8" r="1.05" fill="#a0a0a0"/>
<circle cx="394.9" cy="625.7" r="1.05" fill="#a0a0a0"/>
<circle cx="400.6" cy="635.3" r="1.05" fill="#a0a0a0"/>
<circle cx="395.5" cy="629.4" r="1.05" fill="#a0a0a0"/>
<circle cx="403.9" cy="614.9" r="1.05" fill="#a0a0a0"/>
<circle cx="399.3" cy="631.0" r="1.05" fill="#a0a0a0"/>
<circle cx="394.2" cy="619.0" r="1.05" fill="#a0a0a0"/>
<circle cx="402.8" cy="607.8" r="1.05" fill="#a0a0a0"/>
<circle cx="398.6" cy="590.0" r="1.05" fill="#a0a0a0"/>
<circle cx="400.1" cy="638.6" r="1.05" fill="#a0a0a0"/>
<circle cx="393.0" cy="628.8" r="1.05" fill="#a0a0a0"/>
<circle cx="395.0" cy="620.2" r="1.05" fill="#a0a0a0"/>
<circle cx="392.4" cy="640.6" r="1.05" fill="#a0a0a0"/>
<circle cx="394.9" cy="622.1" r="1.05" fill="#a0a0a0"/>
<circle cx="404.7" cy="642.1" r="1.05" fill="#a0a0a0"/>
<circle cx="403.3" cy="640.9" r="1.05" fill="#a0a0a0"/>
<circle cx="402.2" cy="637.5" r="1.05" fill="#a0a0a0"/>
<circle cx="401.2" cy="635.0" r="1.05" fill="#a0a0a0"/>
<circle cx="402.2" cy="597.3" r="1.05" fill="#a0a0a0"/>
<circle cx="401.6" cy="626.8" r="1.05" fill="#a0a0a0"/>
<circle cx="401.7" cy="641.6" r="1.05" fill="#a0a0a0"/>
<circle cx="406.3" cy="632.2" r="1.05" fill="#a0a0a0"/>
<circle cx="399.2" cy="622.2" r="1.05" fill="#a0a0a0"/>
<circle cx="403.0" cy="627.0" r="1.05" fill="#a0a0a0"/>
<circle cx="400.9" cy="609.0" r="1.05" fill="#a0a0a0"/>
<circle cx="396.2" cy="633.7" r="1.05" fill="#a0a0a0"/>
<circle cx="394.0" cy="620.7" r="1.05" fill="#a0a0a0"/>
<circle cx="406.4" cy="638.3" r="1.05" fill="#a0a0a0"/>
<circle cx="398.6" cy="626.1" r="1.05" fill="#a0a0a0"/>
<circle cx="396.8" cy="638.9" r="1.05" fill="#a0a0a0"/>
<circle cx="398.5" cy="630.3" r="1.05" fill="#a0a0a0"/>
<circle cx="403.6" cy="621.9" r="1.05" fill="#a0a0a0"/>
<circle cx="394.7" cy="613.4" r="1.05" fill="#a0a0a0"/>
<circle cx="401.1" cy="610.1" r="1.05" fill="#a0a0a0"/>
<circle cx="393.5" cy="625.1" r="1.05" fill="#a0a0a0"/>
<circle cx="395.8" cy="605.2" r="1.05" fill="#a0a0a0"/>
<circle cx="404.5" cy="615.4" r="1.05" fill="#a0a0a0"/>
<circle cx="401.5" cy="630.1" r="1.05" fill="#a0a0a0"/>
<circle cx="399.2" cy="613.2" r="1.05" fill="#a0a0a0"/>
<circle cx="398.9" cy="614.3" r="1.05" fill="#a0a0a0"/>
<circle cx="393.2" cy="636.4" r="1.05" fill="#a0a0a0"/>
<circle cx="397.0" cy="604.0" r="1.05" fill="#a0a0a0"/>
<circle cx="399.1" cy="623.1" r="1.05" fill="#a0a0a0"/>
<circle cx="403.1" cy="622.1" r="1.05" fill="#a0a0a0"/>
<circle cx="397.5" cy="598.3" r="1.05" fill="#a0a0a0"/>
<circle cx="394.1" cy="640.2" r="1.05" fill="#a0a0a0"/>
<circle cx="395.2" cy="632.0" r="1.05" fill="#a0a0a0"/>
<circle cx="403.3" cy="619.0" r="1.05" fill="#a0a0a0"/>
<circle cx="403.3" cy="612.1" r="1.05" fill="#a0a0a0"/>
<circle cx="398.0" cy="641.1" r="1.05" fill="#a0a0a0"/>
<circle cx="398.4" cy="617.5" r="1.05" fill="#a0a0a0"/>
<circle cx="401.1" cy="619.8" r="1.05" fill="#a0a0a0"/>
<circle cx="403.7" cy="640.4" r="1.05" fill="#a0a0a0"/>
<circle cx="394.6" cy="637.8" r="1.05" fill="#a0a0a0"/>
<circle cx="404.0" cy="616.1" r="1.05" fill="#a0a0a0"/>
<circle cx="395.1" cy="623.6" r="1.05" fill="#a0a0a0"/>
<circle cx="400.2" cy="624.7" r="1.05" fill="#a0a0a0"/>
<circle cx="395.1" cy="628.2" r="1.05" fill="#a0a0a0"/>
<circle cx="406.7" cy="636.0" r="1.05" fill="#a0a0a0"/>
<circle cx="397.5" cy="625.8" r="1.05" fill="#a0a0a0"/>
<circle cx="395.0" cy="631.0" r="1.05" fill="#a0a0a0"/>
<circle cx="400.0" cy="618.3" r="1.05" fill="#a0a0a0"/>
<circle cx="399.4" cy="621.9" r="1.05" fill="#a0a0a0"/>
<circle cx="401.7" cy="634.1" r="1.05" fill="#a0a0a0"/>
<circle cx="396.8" cy="620.7" r="1.05" fill="#a0a0a0"/>
<circle cx="403.0" cy="632.0" r="1.05" fill="#a0a0a0"/>
<circle cx="396.5" cy="636.1" r="1.05" fill="#a0a0a0"/>
<circle cx="404.2" cy="618.2" r="1.05" fill="#a0a0a0"/>
<circle cx="395.9" cy="610.8" r="1.05" fill="#a0a0a0"/>
<circle cx="400.1" cy="637.8" r="1.05" fill="#a0a0a0"/>
<circle cx="399.3" cy="609.3" r="1.05" fill="#a0a0a0"/>
<circle cx="400.8" cy="604.6" r="1.05" fill="#a0a0a0"/>
<circle cx="399.6" cy="624.0" r="1.05" fill="#a0a0a0"/>
<circle cx="395.8" cy="623.1" r="1.05" fill="#a0a0a0"/>
<circle cx="402.3" cy="607.8" r="1.05" fill="#a0a0a0"/>
<circle cx="402.1" cy="603.7" r="1.05" fill="#a0a0a0"/>
<circle cx="397.8" cy="588.1" r="1.05" fill="#a0a0a0"/>
<circle cx="402.5" cy="640.8" r="1.05" fill="#a0a0a0"/>
<circle cx="400.1" cy="635.7" r="1.05" fill="#a0a0a0"/>
<circle cx="400.5" cy="624.9" r="1.05" fill="#a0a0a0"/>
<circle cx="397.6" cy="617.2" r="1.05" fill="#a0a0a0"/>
<circle cx="395.7" cy="636.6" r="1.05" fill="#a0a0a0"/>
<circle cx="405.2" cy="623.9" r="1.05" fill="#a0a0a0"/>
<circle cx="400.4" cy="641.7" r="1.05" fill="#a0a0a0"/>
<circle cx="399.5" cy="632.8" r="1.05" fill="#a0a0a0"/>
<circle cx="396.8" cy="638.2" r="1.05" fill="#a0a0a0"/>
<circle cx="397.0" cy="626.3" r="1.05" fill="#a0a0a0"/>
<circle cx="404.5" cy="623.2" r="1.05" fill="#a0a0a0"/>
<circle cx="396.7" cy="641.8" r="1.05" fill="#a0a0a0"/>
<circle cx="405.1" cy="620.8" r="1.05" fill="#a0a0a0"/>
<circle cx="395.6" cy="628.6" r="1.05" fill="#a0a0a0"/>
<circle cx="400.0" cy="605.9" r="1.05" fill="#a0a0a0"/>
<circle cx="403.9" cy="641.4" r="1.05" fill="#a0a0a0"/>
<circle cx="396.8" cy="621.8" r="1.05" fill="#a0a0a0"/>
<circle cx="400.0" cy="623.0" r="1.05" fill="#a0a0a0"/>
<circle cx="402.1" cy="633.5" r="1.05" fill="#a0a0a0"/>
<circle cx="400.3" cy="599.8" r="1.05" fill="#a0a0a0"/>
<circle cx="396.4" cy="549.3" r="1.05" fill="#a0a0a0"/>
<circle cx="402.1" cy="542.2" r="1.05" fill="#a0a0a0"/>
<circle cx="383.7" cy="574.2" r="1.05" fill="#a0a0a0"/>
<circle cx="343.6" cy="657.2" r="1.05" fill="#a0a0a0"/>
<circle cx="346.7" cy="662.2" r="1.05" fill="#a0a0a0"/>
<circle cx="379.7" cy="610.7" r="1.05" fill="#a0a0a0"/>
<circle cx="386.3" cy="612.5" r="1.05" fill="#a0a0a0"/>
<circle cx="419.3" cy="609.0" r="1.05" fill="#a0a0a0"/>
<circle cx="443.5" cy="655.1" r="1.05" fill="#a0a0a0"/>
<circle cx="442.6" cy="662.9" r="1.05" fill="#a0a0a0"/>
<circle cx="443.5" cy="671.8" r="1.05" fill="#a0a0a0"/>
<circle cx="444.8" cy="671.8" r="1.05" fill="#a0a0a0"/>
<circle cx="454.5" cy="669.3" r="1.05" fill="#a0a0a0"/>
<circle cx="454.5" cy="672.9" r="1.05" fill="#a0a0a0"/>
<circle cx="425.0" cy="649.1" r="1.05" fill="#a0a0a0"/>
<circle cx="414.9" cy="632.0" r="1.05" fill="#a0a0a0"/>
<circle cx="412.7" cy="626.7" r="1.05" fill="#a0a0a0"/>
<circle cx="432.5" cy="667.5" r="1.05" fill="#a0a0a0"/>
<circle cx="434.7" cy="669.3" r="1.05" fill="#a0a0a0"/>
<circle cx="430.3" cy="671.1" r="1.05" fill="#a0a0a0"/>
<circle cx="436.9" cy="665.8" r="1.05" fill="#a0a0a0"/>
<circle cx="375.3" cy="667.5" r="1.05" fill="#a0a0a0"/>
<circle cx="373.1" cy="671.1" r="1.05" fill="#a0a0a0"/>
<circle cx="377.5" cy="672.9" r="1.05" fill="#a0a0a0"/>
<circle cx="373.1" cy="639.1" r="1.05" fill="#a0a0a0"/>
<circle cx="379.7" cy="640.9" r="1.05" fill="#a0a0a0"/>
<circle cx="397.3" cy="569.9" r="1.05" fill="#a0a0a0"/>
<circle cx="398.2" cy="577.0" r="1.05" fill="#a0a0a0"/>
<circle cx="399.5" cy="584.1" r="1.05" fill="#a0a0a0"/>
<circle cx="396.0" cy="580.5" r="1.05" fill="#a0a0a0"/>
<circle cx="403.0" cy="593.0" r="1.05" fill="#a0a0a0"/>
<circle cx="403.9" cy="594.8" r="1.05" fill="#a0a0a0"/>
<circle cx="394.2" cy="596.5" r="1.05" fill="#a0a0a0"/>
<circle cx="395.1" cy="591.2" r="1.05" fill="#a0a0a0"/>
<circle cx="400.4" cy="589.4" r="1.05" fill="#a0a0a0"/>
<circle cx="409.2" cy="613.2" r="1.05" fill="#a0a0a0"/>
<circle cx="411.8" cy="623.1" r="1.05" fill="#a0a0a0"/>
<circle cx="409.2" cy="626.7" r="1.05" fill="#a0a0a0"/>
<circle cx="367.8" cy="665.8" r="1.05" fill="#a0a0a0"/>
<circle cx="366.5" cy="668.6" r="1.05" fill="#a0a0a0"/>
<circle cx="368.7" cy="670.0" r="1.05" fill="#a0a0a0"/>
<circle cx="370.9" cy="664.0" r="1.05" fill="#a0a0a0"/>
<circle cx="369.6" cy="667.5" r="1.05" fill="#a0a0a0"/>
<circle cx="377.5" cy="676.4" r="1.05" fill="#a0a0a0"/>
<circle cx="425.9" cy="665.8" r="1.05" fill="#a0a0a0"/>
<circle cx="428.1" cy="668.6" r="1.05" fill="#a0a0a0"/>
<circle cx="423.7" cy="672.9" r="1.05" fill="#a0a0a0"/>
<circle cx="433.8" cy="664.0" r="1.05" fill="#a0a0a0"/>
<circle cx="431.2" cy="665.8" r="1.05" fill="#a0a0a0"/>
<circle cx="379.7" cy="648.0" r="1.05" fill="#a0a0a0"/>
<circle cx="381.0" cy="653.3" r="1.05" fill="#a0a0a0"/>
<circle cx="418.0" cy="648.0" r="1.05" fill="#a0a0a0"/>
<circle cx="421.5" cy="655.1" r="1.05" fill="#a0a0a0"/>
<line x1="399.50" y1="535.70" x2="399.50" y2="632.02" stroke="#555" stroke-width="0.9"/>
<line x1="311.50" y1="535.70" x2="311.50" y2="691.95" stroke="#444" stroke-width="0.9"/>
<line x1="311.05" y1="691.50" x2="487.50" y2="691.50" stroke="#444" stroke-width="0.9"/>
<line x1="308.90" y1="683.50" x2="311.50" y2="683.50" stroke="#444" stroke-width="0.8"/>
<text x="306.30" y="686.20" font-size="7.6" text-anchor="end" fill="#151515" stroke="#151515" stroke-width="0.23">0</text>
<line x1="308.90" y1="648.00" x2="311.50" y2="648.00" stroke="#444" stroke-width="0.8"/>
<text x="306.30" y="650.70" font-size="7.6" text-anchor="end" fill="#151515" stroke="#151515" stroke-width="0.23">1</text>
<line x1="308.90" y1="612.50" x2="311.50" y2="612.50" stroke="#444" stroke-width="0.8"/>
<text x="306.30" y="615.20" font-size="7.6" text-anchor="end" fill="#151515" stroke="#151515" stroke-width="0.23">2</text>
<line x1="308.90" y1="577.00" x2="311.50" y2="577.00" stroke="#444" stroke-width="0.8"/>
<text x="306.30" y="579.70" font-size="7.6" text-anchor="end" fill="#151515" stroke="#151515" stroke-width="0.23">3</text>
<line x1="308.90" y1="541.50" x2="311.50" y2="541.50" stroke="#444" stroke-width="0.8"/>
<text x="306.30" y="544.20" font-size="7.6" text-anchor="end" fill="#151515" stroke="#151515" stroke-width="0.23">4</text>
<line x1="311.50" y1="691.50" x2="311.50" y2="694.10" stroke="#444" stroke-width="0.8"/>
<text x="309.60" y="702.40" font-size="7.6" text-anchor="middle" fill="#151515" stroke="#151515" stroke-width="0.23">–2</text>
<line x1="355.50" y1="691.50" x2="355.50" y2="694.10" stroke="#444" stroke-width="0.8"/>
<text x="353.60" y="702.40" font-size="7.6" text-anchor="middle" fill="#151515" stroke="#151515" stroke-width="0.23">–1</text>
<line x1="399.50" y1="691.50" x2="399.50" y2="694.10" stroke="#444" stroke-width="0.8"/>
<text x="399.50" y="702.40" font-size="7.6" text-anchor="middle" fill="#151515" stroke="#151515" stroke-width="0.23">0</text>
<line x1="443.50" y1="691.50" x2="443.50" y2="694.10" stroke="#444" stroke-width="0.8"/>
<text x="443.50" y="702.40" font-size="7.6" text-anchor="middle" fill="#151515" stroke="#151515" stroke-width="0.23">1</text>
<line x1="487.50" y1="691.50" x2="487.50" y2="694.10" stroke="#444" stroke-width="0.8"/>
<text x="487.50" y="702.40" font-size="7.6" text-anchor="middle" fill="#151515" stroke="#151515" stroke-width="0.23">2</text>
<text x="397.8" y="712.8" font-size="7.6" text-anchor="middle" fill="#151515" stroke="#151515" stroke-width="0.22">Log<tspan font-size="5.2" dy="1.6">2</tspan><tspan dy="-1.6"> ratio (MS21/MS21N1)</tspan></text>
<text x="295.2" y="612.4" font-size="8.1" text-anchor="middle" fill="#151515" stroke="#151515" stroke-width="0.22" transform="rotate(-90 295.2 612.4)">–Log<tspan font-size="5.6" dy="1.7">10</tspan><tspan dy="-1.7"> (</tspan><tspan font-style="italic">P</tspan>) (MS21/MS21N1)</text>
<circle cx="336.7" cy="568.2" r="0.95" fill="#4c56b8"/>
<text x="339.90" y="575.00" font-size="7.3" fill="#6d74c4" stroke="#6d74c4" stroke-width="0.22">AKT3</text>
<circle cx="332.7" cy="602.9" r="0.95" fill="#4c56b8"/>
<text x="334.80" y="608.60" font-size="7.3" fill="#6d74c4" stroke="#6d74c4" stroke-width="0.22">AKT2</text>
<circle cx="331.4" cy="607.7" r="0.95" fill="#4c56b8"/>
<text x="334.80" y="615.30" font-size="7.3" fill="#6d74c4" stroke="#6d74c4" stroke-width="0.22">AKT1</text>
</svg>
</body></html>
